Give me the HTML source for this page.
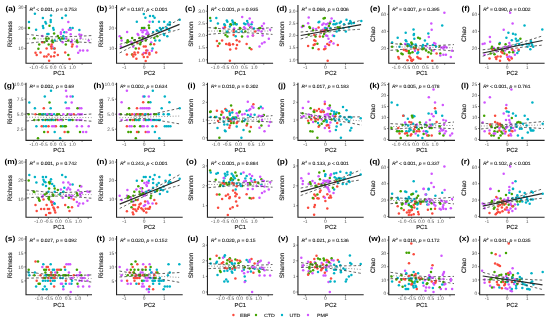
<!DOCTYPE html>
<html><head><meta charset="utf-8"><title>figure</title>
<style>html,body{margin:0;padding:0;background:#fff;width:550px;height:321px;overflow:hidden;}svg{display:block;}</style>
</head><body>
<svg width="550" height="321" viewBox="0 0 550 321">
<style>
text{font-family:"Liberation Sans",Arial,sans-serif;text-rendering:geometricPrecision;}
.tk{font-size:4.9px;fill:#505050;}
.tt{font-size:5.9px;fill:#1a1a1a;stroke:#1a1a1a;stroke-width:0.14px;}
.tag{font-size:7.4px;font-weight:bold;fill:#000;}
.r2{font-size:4.75px;fill:#111;stroke:#111;stroke-width:0.08px;}
.lg{font-size:4.7px;fill:#222;stroke:#222;stroke-width:0.1px;}
</style>
<rect width="550" height="321" fill="#fff"/>
<g><circle cx="34.9" cy="13.7" r="1.25" fill="#00B2C6"/><circle cx="51.0" cy="15.6" r="1.25" fill="#00B2C6"/><circle cx="42.9" cy="18.0" r="1.25" fill="#00B2C6"/><circle cx="62.1" cy="18.0" r="1.25" fill="#00B2C6"/><circle cx="65.8" cy="15.6" r="1.25" fill="#00B2C6"/><circle cx="29.0" cy="22.0" r="1.25" fill="#00B2C6"/><circle cx="45.4" cy="22.0" r="1.25" fill="#00B2C6"/><circle cx="46.0" cy="23.4" r="1.25" fill="#00B2C6"/><circle cx="50.7" cy="19.9" r="1.25" fill="#00B2C6"/><circle cx="50.7" cy="22.0" r="1.25" fill="#00B2C6"/><circle cx="42.9" cy="26.1" r="1.25" fill="#00B2C6"/><circle cx="43.3" cy="27.9" r="1.25" fill="#00B2C6"/><circle cx="36.1" cy="29.8" r="1.25" fill="#00B2C6"/><circle cx="53.2" cy="27.9" r="1.25" fill="#00B2C6"/><circle cx="53.7" cy="29.8" r="1.25" fill="#00B2C6"/><circle cx="70.1" cy="27.9" r="1.25" fill="#00B2C6"/><circle cx="72.6" cy="27.9" r="1.25" fill="#00B2C6"/><circle cx="79.4" cy="30.0" r="1.25" fill="#00B2C6"/><circle cx="64.3" cy="32.3" r="1.25" fill="#00B2C6"/><circle cx="29.0" cy="27.9" r="1.25" fill="#42A200"/><circle cx="49.5" cy="25.8" r="1.25" fill="#42A200"/><circle cx="68.3" cy="22.0" r="1.25" fill="#D055FF"/><circle cx="62.7" cy="29.8" r="1.25" fill="#D055FF"/><circle cx="68.9" cy="29.8" r="1.25" fill="#D055FF"/><circle cx="70.7" cy="29.8" r="1.25" fill="#D055FF"/><circle cx="60.9" cy="32.3" r="1.25" fill="#D055FF"/><circle cx="66.4" cy="32.3" r="1.25" fill="#D055FF"/><circle cx="47.3" cy="34.0" r="1.25" fill="#00B2C6"/><circle cx="48.5" cy="34.0" r="1.25" fill="#00B2C6"/><circle cx="54.7" cy="40.4" r="1.25" fill="#00B2C6"/><circle cx="60.2" cy="39.8" r="1.25" fill="#00B2C6"/><circle cx="63.3" cy="36.1" r="1.25" fill="#00B2C6"/><circle cx="63.9" cy="38.6" r="1.25" fill="#00B2C6"/><circle cx="54.1" cy="48.5" r="1.25" fill="#00B2C6"/><circle cx="34.3" cy="38.2" r="1.25" fill="#42A200"/><circle cx="46.0" cy="38.6" r="1.25" fill="#42A200"/><circle cx="48.5" cy="38.6" r="1.25" fill="#42A200"/><circle cx="46.6" cy="40.4" r="1.25" fill="#42A200"/><circle cx="44.2" cy="42.3" r="1.25" fill="#42A200"/><circle cx="52.2" cy="40.4" r="1.25" fill="#42A200"/><circle cx="52.8" cy="42.3" r="1.25" fill="#42A200"/><circle cx="57.8" cy="36.1" r="1.25" fill="#42A200"/><circle cx="59.0" cy="37.9" r="1.25" fill="#42A200"/><circle cx="62.1" cy="38.6" r="1.25" fill="#42A200"/><circle cx="68.3" cy="40.4" r="1.25" fill="#42A200"/><circle cx="76.9" cy="40.4" r="1.25" fill="#42A200"/><circle cx="77.5" cy="42.3" r="1.25" fill="#42A200"/><circle cx="39.2" cy="44.4" r="1.25" fill="#42A200"/><circle cx="48.7" cy="44.4" r="1.25" fill="#42A200"/><circle cx="65.8" cy="44.4" r="1.25" fill="#42A200"/><circle cx="38.4" cy="48.8" r="1.25" fill="#42A200"/><circle cx="68.3" cy="55.0" r="1.25" fill="#42A200"/><circle cx="54.1" cy="33.6" r="1.25" fill="#42A200"/><circle cx="42.3" cy="36.1" r="1.25" fill="#D055FF"/><circle cx="70.7" cy="34.2" r="1.25" fill="#D055FF"/><circle cx="79.4" cy="34.5" r="1.25" fill="#D055FF"/><circle cx="81.3" cy="34.9" r="1.25" fill="#D055FF"/><circle cx="80.6" cy="37.9" r="1.25" fill="#D055FF"/><circle cx="66.4" cy="38.6" r="1.25" fill="#D055FF"/><circle cx="72.0" cy="40.4" r="1.25" fill="#D055FF"/><circle cx="71.4" cy="42.3" r="1.25" fill="#D055FF"/><circle cx="62.7" cy="42.3" r="1.25" fill="#D055FF"/><circle cx="88.7" cy="40.4" r="1.25" fill="#D055FF"/><circle cx="52.2" cy="46.6" r="1.25" fill="#D055FF"/><circle cx="76.9" cy="46.6" r="1.25" fill="#D055FF"/><circle cx="80.0" cy="50.6" r="1.25" fill="#D055FF"/><circle cx="83.1" cy="50.6" r="1.25" fill="#D055FF"/><circle cx="87.4" cy="50.6" r="1.25" fill="#D055FF"/><circle cx="78.2" cy="52.8" r="1.25" fill="#D055FF"/><circle cx="60.9" cy="34.0" r="1.25" fill="#D055FF"/><circle cx="42.3" cy="42.3" r="1.25" fill="#FA4A3D"/><circle cx="51.6" cy="44.4" r="1.25" fill="#FA4A3D"/><circle cx="51.0" cy="46.6" r="1.25" fill="#FA4A3D"/><circle cx="72.6" cy="44.4" r="1.25" fill="#FA4A3D"/><circle cx="72.0" cy="46.6" r="1.25" fill="#FA4A3D"/><circle cx="46.6" cy="48.5" r="1.25" fill="#FA4A3D"/><circle cx="51.6" cy="48.5" r="1.25" fill="#FA4A3D"/><circle cx="54.7" cy="48.5" r="1.25" fill="#FA4A3D"/><circle cx="35.5" cy="52.8" r="1.25" fill="#FA4A3D"/><circle cx="40.5" cy="52.5" r="1.25" fill="#FA4A3D"/><circle cx="36.7" cy="55.0" r="1.25" fill="#FA4A3D"/><circle cx="54.7" cy="52.5" r="1.25" fill="#FA4A3D"/><circle cx="54.1" cy="56.2" r="1.25" fill="#FA4A3D"/><circle cx="57.8" cy="55.0" r="1.25" fill="#FA4A3D"/><circle cx="65.2" cy="52.5" r="1.25" fill="#FA4A3D"/><circle cx="44.2" cy="56.5" r="1.25" fill="#FA4A3D"/><circle cx="46.6" cy="56.5" r="1.25" fill="#FA4A3D"/><circle cx="48.5" cy="54.6" r="1.25" fill="#FA4A3D"/><circle cx="51.0" cy="56.5" r="1.25" fill="#FA4A3D"/><circle cx="49.1" cy="60.8" r="1.25" fill="#FA4A3D"/><circle cx="69.5" cy="59.0" r="1.25" fill="#FA4A3D"/><polyline points="26.5,34.2 29.2,34.5 31.9,34.9 34.6,35.2 37.3,35.5 40.0,35.8 42.8,36.1 45.5,36.3 48.2,36.5 50.9,36.7 53.6,36.8 56.3,36.8 59.0,36.8 61.7,36.8 64.4,36.7 67.1,36.7 69.8,36.6 72.5,36.5 75.2,36.4 78.0,36.3 80.7,36.2 83.4,36.0 86.1,35.9 88.8,35.7 91.5,35.6" fill="none" stroke="#444" stroke-width="0.85" stroke-dasharray="2.6,2.2"/><polyline points="26.5,43.4 29.2,43.1 31.9,42.8 34.6,42.5 37.3,42.2 40.0,41.9 42.8,41.7 45.5,41.5 48.2,41.3 50.9,41.2 53.6,41.2 56.3,41.2 59.0,41.2 61.7,41.3 64.4,41.4 67.1,41.4 69.8,41.6 72.5,41.7 75.2,41.8 78.0,42.0 80.7,42.1 83.4,42.3 86.1,42.4 88.8,42.6 91.5,42.8" fill="none" stroke="#444" stroke-width="0.85" stroke-dasharray="2.6,2.2"/><polyline points="26.5,38.8 91.5,39.2" fill="none" stroke="#555" stroke-width="0.7" stroke-dasharray="0.9,1.9"/><path d="M26.00,5.00V63.20H92.00" fill="none" stroke="#262626" stroke-width="1.1"/><line x1="24.40" y1="7.60" x2="26.00" y2="7.60" stroke="#262626" stroke-width="0.6"/><text x="23.60" y="9.30" text-anchor="end" class="tk" transform="translate(23.60,0) scale(1.0,1) translate(-23.60,0)">30</text><line x1="24.40" y1="28.10" x2="26.00" y2="28.10" stroke="#262626" stroke-width="0.6"/><text x="23.60" y="29.80" text-anchor="end" class="tk" transform="translate(23.60,0) scale(1.0,1) translate(-23.60,0)">20</text><line x1="24.40" y1="48.60" x2="26.00" y2="48.60" stroke="#262626" stroke-width="0.6"/><text x="23.60" y="50.30" text-anchor="end" class="tk" transform="translate(23.60,0) scale(1.0,1) translate(-23.60,0)">10</text><line x1="33.75" y1="63.20" x2="33.75" y2="64.80" stroke="#262626" stroke-width="0.6"/><text x="33.75" y="68.85" text-anchor="middle" class="tk">-1.0</text><line x1="43.42" y1="63.20" x2="43.42" y2="64.80" stroke="#262626" stroke-width="0.6"/><text x="43.42" y="68.85" text-anchor="middle" class="tk">-0.5</text><line x1="53.09" y1="63.20" x2="53.09" y2="64.80" stroke="#262626" stroke-width="0.6"/><text x="53.09" y="68.85" text-anchor="middle" class="tk">0.0</text><line x1="62.76" y1="63.20" x2="62.76" y2="64.80" stroke="#262626" stroke-width="0.6"/><text x="62.76" y="68.85" text-anchor="middle" class="tk">0.5</text><line x1="72.43" y1="63.20" x2="72.43" y2="64.80" stroke="#262626" stroke-width="0.6"/><text x="72.43" y="68.85" text-anchor="middle" class="tk">1.0</text><line x1="82.10" y1="63.20" x2="82.10" y2="64.80" stroke="#262626" stroke-width="0.6"/><text x="59.00" y="74.80" text-anchor="middle" class="tt">PC1</text><text x="0" y="0" text-anchor="middle" class="tt" style="font-size:6.35px" transform="translate(12.00,34.10) rotate(-90)">Richness</text><text x="5.40" y="11.00" class="tag" transform="translate(5.40,0) scale(1.13,1) translate(-5.40,0)">(a)</text><text x="29.60" y="10.60" class="r2" transform="translate(29.60,0) scale(1.05,1) translate(-29.60,0)"><tspan font-style="italic">R</tspan><tspan dy="-1.6" font-size="3">2</tspan><tspan dy="1.6"> &lt; 0.001, </tspan><tspan font-style="italic">p</tspan> = 0.753</text></g><g><circle cx="143.8" cy="13.9" r="1.25" fill="#00B2C6"/><circle cx="145.4" cy="17.7" r="1.25" fill="#00B2C6"/><circle cx="150.0" cy="15.9" r="1.25" fill="#00B2C6"/><circle cx="153.1" cy="15.9" r="1.25" fill="#00B2C6"/><circle cx="154.6" cy="17.7" r="1.25" fill="#00B2C6"/><circle cx="136.8" cy="21.7" r="1.25" fill="#00B2C6"/><circle cx="152.8" cy="21.7" r="1.25" fill="#00B2C6"/><circle cx="159.0" cy="21.7" r="1.25" fill="#00B2C6"/><circle cx="164.2" cy="21.7" r="1.25" fill="#00B2C6"/><circle cx="179.7" cy="19.8" r="1.25" fill="#00B2C6"/><circle cx="169.8" cy="22.3" r="1.25" fill="#00B2C6"/><circle cx="167.9" cy="24.5" r="1.25" fill="#00B2C6"/><circle cx="169.8" cy="24.8" r="1.25" fill="#00B2C6"/><circle cx="159.9" cy="27.9" r="1.25" fill="#00B2C6"/><circle cx="163.0" cy="27.9" r="1.25" fill="#00B2C6"/><circle cx="161.1" cy="29.7" r="1.25" fill="#00B2C6"/><circle cx="156.8" cy="30.3" r="1.25" fill="#00B2C6"/><circle cx="153.1" cy="32.0" r="1.25" fill="#00B2C6"/><circle cx="158.7" cy="31.6" r="1.25" fill="#00B2C6"/><circle cx="166.7" cy="27.9" r="1.25" fill="#00B2C6"/><circle cx="169.2" cy="30.3" r="1.25" fill="#00B2C6"/><circle cx="163.6" cy="34.1" r="1.25" fill="#00B2C6"/><circle cx="143.8" cy="27.9" r="1.25" fill="#00B2C6"/><circle cx="148.8" cy="25.4" r="1.25" fill="#42A200"/><circle cx="149.1" cy="27.9" r="1.25" fill="#42A200"/><circle cx="142.0" cy="27.9" r="1.25" fill="#42A200"/><circle cx="144.4" cy="27.9" r="1.25" fill="#42A200"/><circle cx="149.6" cy="21.7" r="1.25" fill="#D055FF"/><circle cx="127.1" cy="32.0" r="1.25" fill="#D055FF"/><circle cx="141.3" cy="30.3" r="1.25" fill="#D055FF"/><circle cx="143.8" cy="30.3" r="1.25" fill="#D055FF"/><circle cx="146.3" cy="30.3" r="1.25" fill="#D055FF"/><circle cx="142.6" cy="32.2" r="1.25" fill="#D055FF"/><circle cx="147.5" cy="32.2" r="1.25" fill="#D055FF"/><circle cx="146.3" cy="34.1" r="1.25" fill="#D055FF"/><circle cx="137.6" cy="34.1" r="1.25" fill="#D055FF"/><circle cx="148.4" cy="34.1" r="1.25" fill="#D055FF"/><circle cx="119.7" cy="36.2" r="1.25" fill="#D055FF"/><circle cx="121.6" cy="40.6" r="1.25" fill="#D055FF"/><circle cx="120.9" cy="46.4" r="1.25" fill="#D055FF"/><circle cx="131.5" cy="42.4" r="1.25" fill="#D055FF"/><circle cx="138.3" cy="35.0" r="1.25" fill="#D055FF"/><circle cx="142.6" cy="36.2" r="1.25" fill="#D055FF"/><circle cx="143.8" cy="38.1" r="1.25" fill="#D055FF"/><circle cx="145.7" cy="38.1" r="1.25" fill="#D055FF"/><circle cx="142.0" cy="40.6" r="1.25" fill="#D055FF"/><circle cx="151.2" cy="42.4" r="1.25" fill="#D055FF"/><circle cx="133.3" cy="46.7" r="1.25" fill="#D055FF"/><circle cx="147.5" cy="50.5" r="1.25" fill="#D055FF"/><circle cx="146.3" cy="52.9" r="1.25" fill="#D055FF"/><circle cx="143.8" cy="52.9" r="1.25" fill="#D055FF"/><circle cx="151.9" cy="50.8" r="1.25" fill="#D055FF"/><circle cx="121.2" cy="38.1" r="1.25" fill="#42A200"/><circle cx="127.7" cy="40.2" r="1.25" fill="#42A200"/><circle cx="128.4" cy="41.8" r="1.25" fill="#42A200"/><circle cx="126.9" cy="42.4" r="1.25" fill="#42A200"/><circle cx="132.1" cy="38.1" r="1.25" fill="#42A200"/><circle cx="134.5" cy="40.2" r="1.25" fill="#42A200"/><circle cx="139.5" cy="38.1" r="1.25" fill="#42A200"/><circle cx="142.6" cy="38.1" r="1.25" fill="#42A200"/><circle cx="145.7" cy="40.6" r="1.25" fill="#42A200"/><circle cx="140.7" cy="42.4" r="1.25" fill="#42A200"/><circle cx="140.1" cy="44.3" r="1.25" fill="#42A200"/><circle cx="135.8" cy="48.6" r="1.25" fill="#42A200"/><circle cx="132.1" cy="54.5" r="1.25" fill="#42A200"/><circle cx="150.6" cy="44.3" r="1.25" fill="#42A200"/><circle cx="148.4" cy="36.2" r="1.25" fill="#42A200"/><circle cx="154.3" cy="38.1" r="1.25" fill="#42A200"/><circle cx="157.4" cy="36.2" r="1.25" fill="#42A200"/><circle cx="132.1" cy="44.3" r="1.25" fill="#42A200"/><circle cx="155.3" cy="40.6" r="1.25" fill="#00B2C6"/><circle cx="159.5" cy="40.6" r="1.25" fill="#00B2C6"/><circle cx="152.5" cy="48.4" r="1.25" fill="#00B2C6"/><circle cx="167.3" cy="36.2" r="1.25" fill="#00B2C6"/><circle cx="164.2" cy="35.0" r="1.25" fill="#00B2C6"/><circle cx="137.0" cy="42.4" r="1.25" fill="#FA4A3D"/><circle cx="143.8" cy="46.4" r="1.25" fill="#FA4A3D"/><circle cx="145.7" cy="46.4" r="1.25" fill="#FA4A3D"/><circle cx="154.1" cy="44.3" r="1.25" fill="#FA4A3D"/><circle cx="138.9" cy="48.4" r="1.25" fill="#FA4A3D"/><circle cx="134.5" cy="52.6" r="1.25" fill="#FA4A3D"/><circle cx="132.7" cy="54.5" r="1.25" fill="#FA4A3D"/><circle cx="135.2" cy="54.5" r="1.25" fill="#FA4A3D"/><circle cx="138.0" cy="52.6" r="1.25" fill="#FA4A3D"/><circle cx="126.9" cy="54.5" r="1.25" fill="#FA4A3D"/><circle cx="133.3" cy="56.6" r="1.25" fill="#FA4A3D"/><circle cx="136.4" cy="58.7" r="1.25" fill="#FA4A3D"/><circle cx="142.6" cy="54.5" r="1.25" fill="#FA4A3D"/><circle cx="145.7" cy="52.9" r="1.25" fill="#FA4A3D"/><circle cx="149.4" cy="52.9" r="1.25" fill="#FA4A3D"/><circle cx="149.4" cy="54.5" r="1.25" fill="#FA4A3D"/><circle cx="143.8" cy="57.0" r="1.25" fill="#FA4A3D"/><circle cx="147.5" cy="57.0" r="1.25" fill="#FA4A3D"/><circle cx="156.2" cy="52.6" r="1.25" fill="#FA4A3D"/><circle cx="145.7" cy="61.0" r="1.25" fill="#FA4A3D"/><circle cx="146.3" cy="50.5" r="1.25" fill="#FA4A3D"/><polyline points="119.7,44.3 122.2,43.6 124.7,42.9 127.2,42.1 129.7,41.4 132.2,40.6 134.7,39.8 137.1,39.0 139.6,38.2 142.1,37.3 144.6,36.4 147.1,35.5 149.6,34.4 152.1,33.4 154.6,32.2 157.1,31.0 159.6,29.8 162.1,28.5 164.6,27.2 167.0,25.9 169.5,24.6 172.0,23.3 174.5,22.0 177.0,20.6 179.5,19.3" fill="none" stroke="#444" stroke-width="0.85" stroke-dasharray="2.6,2.2"/><polyline points="119.7,52.9 122.2,51.6 124.7,50.3 127.2,49.0 129.7,47.7 132.2,46.5 134.7,45.2 137.1,44.0 139.6,42.8 142.1,41.6 144.6,40.5 147.1,39.5 149.6,38.5 152.1,37.5 154.6,36.6 157.1,35.8 159.6,35.0 162.1,34.2 164.6,33.5 167.0,32.8 169.5,32.1 172.0,31.4 174.5,30.7 177.0,30.0 179.5,29.3" fill="none" stroke="#444" stroke-width="0.85" stroke-dasharray="2.6,2.2"/><polyline points="119.7,48.6 179.5,24.3" fill="none" stroke="#2a2a2a" stroke-width="1.25"/><path d="M116.55,5.00V63.20H182.70" fill="none" stroke="#262626" stroke-width="1.1"/><line x1="114.95" y1="7.60" x2="116.55" y2="7.60" stroke="#262626" stroke-width="0.6"/><text x="114.15" y="9.30" text-anchor="end" class="tk" transform="translate(114.15,0) scale(1.0,1) translate(-114.15,0)">30</text><line x1="114.95" y1="28.10" x2="116.55" y2="28.10" stroke="#262626" stroke-width="0.6"/><text x="114.15" y="29.80" text-anchor="end" class="tk" transform="translate(114.15,0) scale(1.0,1) translate(-114.15,0)">20</text><line x1="114.95" y1="48.60" x2="116.55" y2="48.60" stroke="#262626" stroke-width="0.6"/><text x="114.15" y="50.30" text-anchor="end" class="tk" transform="translate(114.15,0) scale(1.0,1) translate(-114.15,0)">10</text><line x1="124.40" y1="63.20" x2="124.40" y2="64.80" stroke="#262626" stroke-width="0.6"/><text x="124.40" y="68.85" text-anchor="middle" class="tk">-1</text><line x1="144.20" y1="63.20" x2="144.20" y2="64.80" stroke="#262626" stroke-width="0.6"/><text x="144.20" y="68.85" text-anchor="middle" class="tk">0</text><line x1="164.20" y1="63.20" x2="164.20" y2="64.80" stroke="#262626" stroke-width="0.6"/><text x="164.20" y="68.85" text-anchor="middle" class="tk">1</text><text x="149.62" y="74.80" text-anchor="middle" class="tt">PC2</text><text x="0" y="0" text-anchor="middle" class="tt" style="font-size:6.35px" transform="translate(102.55,34.10) rotate(-90)">Richness</text><text x="96.60" y="11.00" class="tag" transform="translate(96.60,0) scale(1.13,1) translate(-96.60,0)">(b)</text><text x="120.15" y="10.60" class="r2" transform="translate(120.15,0) scale(1.05,1) translate(-120.15,0)"><tspan font-style="italic">R</tspan><tspan dy="-1.6" font-size="3">2</tspan><tspan dy="1.6"> = 0.187, </tspan><tspan font-style="italic">p</tspan> &lt; 0.001</text></g><g><circle cx="210.1" cy="18.0" r="1.25" fill="#42A200"/><circle cx="230.5" cy="24.2" r="1.25" fill="#42A200"/><circle cx="231.1" cy="24.8" r="1.25" fill="#42A200"/><circle cx="234.8" cy="22.9" r="1.25" fill="#42A200"/><circle cx="236.1" cy="24.2" r="1.25" fill="#42A200"/><circle cx="215.7" cy="27.9" r="1.25" fill="#42A200"/><circle cx="220.0" cy="31.0" r="1.25" fill="#42A200"/><circle cx="239.8" cy="27.9" r="1.25" fill="#42A200"/><circle cx="240.4" cy="28.5" r="1.25" fill="#42A200"/><circle cx="250.3" cy="27.3" r="1.25" fill="#42A200"/><circle cx="258.9" cy="28.5" r="1.25" fill="#42A200"/><circle cx="260.2" cy="27.9" r="1.25" fill="#42A200"/><circle cx="245.3" cy="31.6" r="1.25" fill="#42A200"/><circle cx="226.8" cy="32.2" r="1.25" fill="#42A200"/><circle cx="210.7" cy="20.8" r="1.25" fill="#00B2C6"/><circle cx="216.3" cy="18.0" r="1.25" fill="#00B2C6"/><circle cx="217.9" cy="23.5" r="1.25" fill="#00B2C6"/><circle cx="224.3" cy="24.2" r="1.25" fill="#00B2C6"/><circle cx="224.9" cy="25.4" r="1.25" fill="#00B2C6"/><circle cx="226.8" cy="20.5" r="1.25" fill="#00B2C6"/><circle cx="227.4" cy="21.7" r="1.25" fill="#00B2C6"/><circle cx="232.3" cy="20.5" r="1.25" fill="#00B2C6"/><circle cx="233.0" cy="22.3" r="1.25" fill="#00B2C6"/><circle cx="233.6" cy="24.2" r="1.25" fill="#00B2C6"/><circle cx="236.7" cy="24.2" r="1.25" fill="#00B2C6"/><circle cx="229.9" cy="26.6" r="1.25" fill="#00B2C6"/><circle cx="244.1" cy="23.5" r="1.25" fill="#00B2C6"/><circle cx="247.2" cy="21.1" r="1.25" fill="#00B2C6"/><circle cx="247.8" cy="23.3" r="1.25" fill="#00B2C6"/><circle cx="245.3" cy="24.2" r="1.25" fill="#00B2C6"/><circle cx="251.5" cy="24.2" r="1.25" fill="#00B2C6"/><circle cx="254.0" cy="28.5" r="1.25" fill="#00B2C6"/><circle cx="227.4" cy="31.6" r="1.25" fill="#00B2C6"/><circle cx="236.1" cy="31.6" r="1.25" fill="#00B2C6"/><circle cx="241.6" cy="31.6" r="1.25" fill="#00B2C6"/><circle cx="242.2" cy="17.1" r="1.25" fill="#D055FF"/><circle cx="249.7" cy="18.6" r="1.25" fill="#D055FF"/><circle cx="252.1" cy="22.3" r="1.25" fill="#D055FF"/><circle cx="248.4" cy="24.2" r="1.25" fill="#D055FF"/><circle cx="249.0" cy="25.4" r="1.25" fill="#D055FF"/><circle cx="263.9" cy="23.5" r="1.25" fill="#D055FF"/><circle cx="262.0" cy="26.0" r="1.25" fill="#D055FF"/><circle cx="244.1" cy="27.3" r="1.25" fill="#D055FF"/><circle cx="245.3" cy="28.5" r="1.25" fill="#D055FF"/><circle cx="251.5" cy="27.3" r="1.25" fill="#D055FF"/><circle cx="234.2" cy="28.5" r="1.25" fill="#D055FF"/><circle cx="263.3" cy="29.1" r="1.25" fill="#D055FF"/><circle cx="258.3" cy="30.3" r="1.25" fill="#D055FF"/><circle cx="261.4" cy="31.6" r="1.25" fill="#D055FF"/><circle cx="270.1" cy="29.7" r="1.25" fill="#D055FF"/><circle cx="223.1" cy="27.9" r="1.25" fill="#D055FF"/><circle cx="224.9" cy="27.3" r="1.25" fill="#FA4A3D"/><circle cx="233.6" cy="31.0" r="1.25" fill="#FA4A3D"/><circle cx="255.2" cy="31.6" r="1.25" fill="#FA4A3D"/><circle cx="227.4" cy="36.5" r="1.25" fill="#42A200"/><circle cx="242.0" cy="36.5" r="1.25" fill="#42A200"/><circle cx="219.4" cy="43.4" r="1.25" fill="#42A200"/><circle cx="249.7" cy="48.0" r="1.25" fill="#42A200"/><circle cx="225.5" cy="35.0" r="1.25" fill="#42A200"/><circle cx="235.7" cy="36.2" r="1.25" fill="#00B2C6"/><circle cx="233.6" cy="35.0" r="1.25" fill="#FA4A3D"/><circle cx="216.9" cy="40.9" r="1.25" fill="#FA4A3D"/><circle cx="222.1" cy="40.6" r="1.25" fill="#FA4A3D"/><circle cx="217.9" cy="45.9" r="1.25" fill="#FA4A3D"/><circle cx="226.2" cy="43.9" r="1.25" fill="#FA4A3D"/><circle cx="229.3" cy="43.4" r="1.25" fill="#FA4A3D"/><circle cx="229.9" cy="44.9" r="1.25" fill="#FA4A3D"/><circle cx="228.6" cy="44.6" r="1.25" fill="#FA4A3D"/><circle cx="233.0" cy="44.3" r="1.25" fill="#FA4A3D"/><circle cx="236.7" cy="40.2" r="1.25" fill="#FA4A3D"/><circle cx="239.4" cy="41.4" r="1.25" fill="#FA4A3D"/><circle cx="237.0" cy="44.9" r="1.25" fill="#FA4A3D"/><circle cx="236.1" cy="48.4" r="1.25" fill="#FA4A3D"/><circle cx="230.2" cy="49.6" r="1.25" fill="#FA4A3D"/><circle cx="246.6" cy="43.9" r="1.25" fill="#FA4A3D"/><circle cx="251.3" cy="49.2" r="1.25" fill="#FA4A3D"/><circle cx="229.9" cy="60.7" r="1.25" fill="#FA4A3D"/><circle cx="253.0" cy="35.6" r="1.25" fill="#FA4A3D"/><circle cx="247.8" cy="36.5" r="1.25" fill="#D055FF"/><circle cx="252.7" cy="35.6" r="1.25" fill="#D055FF"/><circle cx="262.6" cy="35.6" r="1.25" fill="#D055FF"/><circle cx="268.8" cy="38.7" r="1.25" fill="#D055FF"/><circle cx="262.0" cy="43.4" r="1.25" fill="#D055FF"/><circle cx="264.5" cy="42.2" r="1.25" fill="#D055FF"/><circle cx="259.5" cy="46.4" r="1.25" fill="#D055FF"/><polyline points="208.5,27.6 211.2,27.8 213.8,28.1 216.5,28.3 219.2,28.5 221.8,28.7 224.5,28.9 227.2,29.1 229.8,29.2 232.5,29.3 235.2,29.4 237.8,29.4 240.5,29.4 243.2,29.3 245.8,29.3 248.5,29.2 251.2,29.0 253.8,28.9 256.5,28.7 259.2,28.6 261.8,28.4 264.5,28.2 267.2,28.0 269.8,27.8 272.5,27.6" fill="none" stroke="#444" stroke-width="0.85" stroke-dasharray="2.6,2.2"/><polyline points="208.5,34.4 211.2,34.2 213.8,33.9 216.5,33.7 219.2,33.5 221.8,33.3 224.5,33.1 227.2,32.9 229.8,32.8 232.5,32.7 235.2,32.6 237.8,32.6 240.5,32.6 243.2,32.7 245.8,32.7 248.5,32.8 251.2,33.0 253.8,33.1 256.5,33.3 259.2,33.4 261.8,33.6 264.5,33.8 267.2,34.0 269.8,34.2 272.5,34.4" fill="none" stroke="#444" stroke-width="0.85" stroke-dasharray="2.6,2.2"/><polyline points="208.5,31.0 272.5,31.0" fill="none" stroke="#555" stroke-width="0.7" stroke-dasharray="0.9,1.9"/><path d="M207.45,5.00V63.20H273.10" fill="none" stroke="#262626" stroke-width="1.1"/><line x1="205.85" y1="11.20" x2="207.45" y2="11.20" stroke="#262626" stroke-width="0.6"/><text x="205.05" y="12.90" text-anchor="end" class="tk" transform="translate(205.05,0) scale(1.0,1) translate(-205.05,0)">3.0</text><line x1="205.85" y1="23.35" x2="207.45" y2="23.35" stroke="#262626" stroke-width="0.6"/><text x="205.05" y="25.05" text-anchor="end" class="tk" transform="translate(205.05,0) scale(1.0,1) translate(-205.05,0)">2.5</text><line x1="205.85" y1="35.50" x2="207.45" y2="35.50" stroke="#262626" stroke-width="0.6"/><text x="205.05" y="37.20" text-anchor="end" class="tk" transform="translate(205.05,0) scale(1.0,1) translate(-205.05,0)">2.0</text><line x1="205.85" y1="47.65" x2="207.45" y2="47.65" stroke="#262626" stroke-width="0.6"/><text x="205.05" y="49.35" text-anchor="end" class="tk" transform="translate(205.05,0) scale(1.0,1) translate(-205.05,0)">1.5</text><line x1="205.85" y1="59.80" x2="207.45" y2="59.80" stroke="#262626" stroke-width="0.6"/><text x="205.05" y="61.50" text-anchor="end" class="tk" transform="translate(205.05,0) scale(1.0,1) translate(-205.05,0)">1.0</text><line x1="215.30" y1="63.20" x2="215.30" y2="64.80" stroke="#262626" stroke-width="0.6"/><text x="215.30" y="68.85" text-anchor="middle" class="tk">-1.0</text><line x1="225.00" y1="63.20" x2="225.00" y2="64.80" stroke="#262626" stroke-width="0.6"/><text x="225.00" y="68.85" text-anchor="middle" class="tk">-0.5</text><line x1="234.70" y1="63.20" x2="234.70" y2="64.80" stroke="#262626" stroke-width="0.6"/><text x="234.70" y="68.85" text-anchor="middle" class="tk">0.0</text><line x1="244.40" y1="63.20" x2="244.40" y2="64.80" stroke="#262626" stroke-width="0.6"/><text x="244.40" y="68.85" text-anchor="middle" class="tk">0.5</text><line x1="254.10" y1="63.20" x2="254.10" y2="64.80" stroke="#262626" stroke-width="0.6"/><text x="254.10" y="68.85" text-anchor="middle" class="tk">1.0</text><line x1="263.80" y1="63.20" x2="263.80" y2="64.80" stroke="#262626" stroke-width="0.6"/><text x="240.28" y="74.80" text-anchor="middle" class="tt">PC1</text><text x="0" y="0" text-anchor="middle" class="tt" style="font-size:6.35px" transform="translate(193.45,34.10) rotate(-90)">Shannon</text><text x="185.00" y="11.00" class="tag" transform="translate(185.00,0) scale(1.13,1) translate(-185.00,0)">(c)</text><text x="211.05" y="10.60" class="r2" transform="translate(211.05,0) scale(1.05,1) translate(-211.05,0)"><tspan font-style="italic">R</tspan><tspan dy="-1.6" font-size="3">2</tspan><tspan dy="1.6"> &lt; 0.001, </tspan><tspan font-style="italic">p</tspan> = 0.935</text></g><g><circle cx="308.7" cy="17.4" r="1.25" fill="#D055FF"/><circle cx="308.1" cy="23.3" r="1.25" fill="#D055FF"/><circle cx="301.9" cy="27.0" r="1.25" fill="#D055FF"/><circle cx="303.8" cy="26.0" r="1.25" fill="#D055FF"/><circle cx="323.6" cy="23.5" r="1.25" fill="#D055FF"/><circle cx="322.3" cy="24.8" r="1.25" fill="#D055FF"/><circle cx="326.1" cy="24.2" r="1.25" fill="#D055FF"/><circle cx="327.9" cy="23.5" r="1.25" fill="#D055FF"/><circle cx="330.4" cy="21.7" r="1.25" fill="#D055FF"/><circle cx="331.6" cy="18.6" r="1.25" fill="#D055FF"/><circle cx="327.3" cy="27.9" r="1.25" fill="#D055FF"/><circle cx="324.8" cy="27.9" r="1.25" fill="#D055FF"/><circle cx="323.0" cy="29.7" r="1.25" fill="#D055FF"/><circle cx="313.1" cy="28.5" r="1.25" fill="#D055FF"/><circle cx="316.2" cy="29.1" r="1.25" fill="#D055FF"/><circle cx="302.9" cy="26.0" r="1.25" fill="#42A200"/><circle cx="309.4" cy="27.0" r="1.25" fill="#42A200"/><circle cx="310.0" cy="27.9" r="1.25" fill="#42A200"/><circle cx="313.1" cy="30.3" r="1.25" fill="#42A200"/><circle cx="323.6" cy="18.4" r="1.25" fill="#42A200"/><circle cx="324.8" cy="18.0" r="1.25" fill="#42A200"/><circle cx="329.8" cy="23.5" r="1.25" fill="#42A200"/><circle cx="328.9" cy="26.0" r="1.25" fill="#42A200"/><circle cx="326.7" cy="29.1" r="1.25" fill="#42A200"/><circle cx="337.8" cy="27.3" r="1.25" fill="#42A200"/><circle cx="339.7" cy="27.9" r="1.25" fill="#42A200"/><circle cx="327.9" cy="31.0" r="1.25" fill="#42A200"/><circle cx="308.7" cy="34.7" r="1.25" fill="#42A200"/><circle cx="324.2" cy="34.1" r="1.25" fill="#42A200"/><circle cx="319.3" cy="21.7" r="1.25" fill="#00B2C6"/><circle cx="318.6" cy="22.3" r="1.25" fill="#00B2C6"/><circle cx="325.4" cy="27.9" r="1.25" fill="#00B2C6"/><circle cx="330.4" cy="27.9" r="1.25" fill="#00B2C6"/><circle cx="334.1" cy="21.1" r="1.25" fill="#00B2C6"/><circle cx="333.5" cy="24.2" r="1.25" fill="#00B2C6"/><circle cx="335.3" cy="24.2" r="1.25" fill="#00B2C6"/><circle cx="336.6" cy="23.5" r="1.25" fill="#00B2C6"/><circle cx="339.7" cy="22.9" r="1.25" fill="#00B2C6"/><circle cx="340.9" cy="21.7" r="1.25" fill="#00B2C6"/><circle cx="344.0" cy="24.2" r="1.25" fill="#00B2C6"/><circle cx="346.5" cy="19.8" r="1.25" fill="#00B2C6"/><circle cx="348.9" cy="23.5" r="1.25" fill="#00B2C6"/><circle cx="350.2" cy="21.1" r="1.25" fill="#00B2C6"/><circle cx="350.8" cy="22.3" r="1.25" fill="#00B2C6"/><circle cx="351.4" cy="23.5" r="1.25" fill="#00B2C6"/><circle cx="353.9" cy="22.9" r="1.25" fill="#00B2C6"/><circle cx="361.3" cy="21.1" r="1.25" fill="#00B2C6"/><circle cx="343.4" cy="27.9" r="1.25" fill="#00B2C6"/><circle cx="348.9" cy="27.3" r="1.25" fill="#00B2C6"/><circle cx="345.8" cy="31.6" r="1.25" fill="#00B2C6"/><circle cx="336.6" cy="31.6" r="1.25" fill="#00B2C6"/><circle cx="339.0" cy="30.3" r="1.25" fill="#00B2C6"/><circle cx="324.8" cy="30.3" r="1.25" fill="#FA4A3D"/><circle cx="323.6" cy="31.6" r="1.25" fill="#FA4A3D"/><circle cx="318.6" cy="27.5" r="1.25" fill="#FA4A3D"/><circle cx="321.1" cy="31.6" r="1.25" fill="#FA4A3D"/><circle cx="315.5" cy="36.5" r="1.25" fill="#42A200"/><circle cx="323.0" cy="36.5" r="1.25" fill="#42A200"/><circle cx="317.4" cy="43.7" r="1.25" fill="#42A200"/><circle cx="312.8" cy="48.0" r="1.25" fill="#42A200"/><circle cx="319.9" cy="36.5" r="1.25" fill="#FA4A3D"/><circle cx="314.3" cy="40.2" r="1.25" fill="#FA4A3D"/><circle cx="315.5" cy="40.9" r="1.25" fill="#FA4A3D"/><circle cx="314.9" cy="44.3" r="1.25" fill="#FA4A3D"/><circle cx="313.7" cy="44.9" r="1.25" fill="#FA4A3D"/><circle cx="308.1" cy="45.9" r="1.25" fill="#FA4A3D"/><circle cx="318.6" cy="49.2" r="1.25" fill="#FA4A3D"/><circle cx="324.2" cy="49.2" r="1.25" fill="#FA4A3D"/><circle cx="325.4" cy="48.4" r="1.25" fill="#FA4A3D"/><circle cx="327.3" cy="43.9" r="1.25" fill="#FA4A3D"/><circle cx="329.1" cy="44.9" r="1.25" fill="#FA4A3D"/><circle cx="331.0" cy="41.2" r="1.25" fill="#FA4A3D"/><circle cx="337.8" cy="44.9" r="1.25" fill="#FA4A3D"/><circle cx="327.7" cy="60.7" r="1.25" fill="#FA4A3D"/><circle cx="314.3" cy="35.0" r="1.25" fill="#FA4A3D"/><circle cx="326.1" cy="35.6" r="1.25" fill="#D055FF"/><circle cx="327.3" cy="36.0" r="1.25" fill="#D055FF"/><circle cx="328.5" cy="38.7" r="1.25" fill="#D055FF"/><circle cx="332.9" cy="35.6" r="1.25" fill="#D055FF"/><circle cx="329.8" cy="42.2" r="1.25" fill="#D055FF"/><circle cx="333.5" cy="43.4" r="1.25" fill="#D055FF"/><circle cx="325.2" cy="46.4" r="1.25" fill="#D055FF"/><circle cx="334.1" cy="36.0" r="1.25" fill="#00B2C6"/><polyline points="300.7,32.0 303.2,31.8 305.7,31.6 308.2,31.4 310.8,31.2 313.3,30.9 315.8,30.7 318.3,30.4 320.8,30.1 323.4,29.8 325.9,29.4 328.4,28.9 330.9,28.5 333.4,27.9 335.9,27.3 338.4,26.7 341.0,26.0 343.5,25.3 346.0,24.6 348.5,23.9 351.0,23.2 353.6,22.4 356.1,21.7 358.6,20.9 361.1,20.2" fill="none" stroke="#444" stroke-width="0.85" stroke-dasharray="2.6,2.2"/><polyline points="300.7,39.0 303.2,38.3 305.7,37.6 308.2,36.9 310.8,36.2 313.3,35.6 315.8,34.9 318.3,34.3 320.8,33.7 323.4,33.1 325.9,32.6 328.4,32.2 330.9,31.7 333.4,31.4 335.9,31.1 338.4,30.8 341.0,30.6 343.5,30.4 346.0,30.2 348.5,30.0 351.0,29.8 353.6,29.7 356.1,29.5 358.6,29.4 361.1,29.2" fill="none" stroke="#444" stroke-width="0.85" stroke-dasharray="2.6,2.2"/><polyline points="300.7,35.5 361.1,24.7" fill="none" stroke="#2a2a2a" stroke-width="1.25"/><path d="M297.95,5.00V63.20H363.70" fill="none" stroke="#262626" stroke-width="1.1"/><line x1="296.35" y1="11.20" x2="297.95" y2="11.20" stroke="#262626" stroke-width="0.6"/><text x="295.55" y="12.90" text-anchor="end" class="tk" transform="translate(295.55,0) scale(1.0,1) translate(-295.55,0)">3.0</text><line x1="296.35" y1="23.35" x2="297.95" y2="23.35" stroke="#262626" stroke-width="0.6"/><text x="295.55" y="25.05" text-anchor="end" class="tk" transform="translate(295.55,0) scale(1.0,1) translate(-295.55,0)">2.5</text><line x1="296.35" y1="35.50" x2="297.95" y2="35.50" stroke="#262626" stroke-width="0.6"/><text x="295.55" y="37.20" text-anchor="end" class="tk" transform="translate(295.55,0) scale(1.0,1) translate(-295.55,0)">2.0</text><line x1="296.35" y1="47.65" x2="297.95" y2="47.65" stroke="#262626" stroke-width="0.6"/><text x="295.55" y="49.35" text-anchor="end" class="tk" transform="translate(295.55,0) scale(1.0,1) translate(-295.55,0)">1.5</text><line x1="296.35" y1="59.80" x2="297.95" y2="59.80" stroke="#262626" stroke-width="0.6"/><text x="295.55" y="61.50" text-anchor="end" class="tk" transform="translate(295.55,0) scale(1.0,1) translate(-295.55,0)">1.0</text><line x1="305.40" y1="63.20" x2="305.40" y2="64.80" stroke="#262626" stroke-width="0.6"/><text x="305.40" y="68.85" text-anchor="middle" class="tk">-1</text><line x1="325.40" y1="63.20" x2="325.40" y2="64.80" stroke="#262626" stroke-width="0.6"/><text x="325.40" y="68.85" text-anchor="middle" class="tk">0</text><line x1="345.50" y1="63.20" x2="345.50" y2="64.80" stroke="#262626" stroke-width="0.6"/><text x="345.50" y="68.85" text-anchor="middle" class="tk">1</text><text x="330.82" y="74.80" text-anchor="middle" class="tt">PC2</text><text x="0" y="0" text-anchor="middle" class="tt" style="font-size:6.35px" transform="translate(283.95,34.10) rotate(-90)">Shannon</text><text x="276.40" y="11.00" class="tag" transform="translate(276.40,0) scale(1.13,1) translate(-276.40,0)">(d)</text><text x="301.55" y="10.60" class="r2" transform="translate(301.55,0) scale(1.05,1) translate(-301.55,0)"><tspan font-style="italic">R</tspan><tspan dy="-1.6" font-size="3">2</tspan><tspan dy="1.6"> = 0.068, </tspan><tspan font-style="italic">p</tspan> = 0.006</text></g><g><circle cx="444.4" cy="12.7" r="1.25" fill="#D055FF"/><circle cx="431.3" cy="23.5" r="1.25" fill="#D055FF"/><circle cx="431.7" cy="29.7" r="1.25" fill="#D055FF"/><circle cx="442.2" cy="25.4" r="1.25" fill="#00B2C6"/><circle cx="413.5" cy="29.5" r="1.25" fill="#00B2C6"/><circle cx="405.7" cy="32.8" r="1.25" fill="#00B2C6"/><circle cx="414.0" cy="34.1" r="1.25" fill="#00B2C6"/><circle cx="428.3" cy="33.4" r="1.25" fill="#00B2C6"/><circle cx="397.7" cy="37.7" r="1.25" fill="#00B2C6"/><circle cx="392.1" cy="42.4" r="1.25" fill="#00B2C6"/><circle cx="405.7" cy="40.2" r="1.25" fill="#00B2C6"/><circle cx="406.3" cy="41.2" r="1.25" fill="#00B2C6"/><circle cx="414.3" cy="38.7" r="1.25" fill="#00B2C6"/><circle cx="413.7" cy="35.0" r="1.25" fill="#00B2C6"/><circle cx="407.5" cy="43.9" r="1.25" fill="#00B2C6"/><circle cx="408.8" cy="44.6" r="1.25" fill="#00B2C6"/><circle cx="409.4" cy="45.9" r="1.25" fill="#00B2C6"/><circle cx="411.3" cy="46.7" r="1.25" fill="#00B2C6"/><circle cx="412.5" cy="44.3" r="1.25" fill="#00B2C6"/><circle cx="415.6" cy="44.6" r="1.25" fill="#00B2C6"/><circle cx="416.2" cy="45.9" r="1.25" fill="#00B2C6"/><circle cx="399.5" cy="46.7" r="1.25" fill="#00B2C6"/><circle cx="423.0" cy="44.9" r="1.25" fill="#00B2C6"/><circle cx="424.9" cy="40.6" r="1.25" fill="#00B2C6"/><circle cx="427.3" cy="43.9" r="1.25" fill="#00B2C6"/><circle cx="432.9" cy="45.1" r="1.25" fill="#00B2C6"/><circle cx="436.0" cy="46.4" r="1.25" fill="#00B2C6"/><circle cx="417.4" cy="53.3" r="1.25" fill="#00B2C6"/><circle cx="418.1" cy="52.3" r="1.25" fill="#00B2C6"/><circle cx="422.4" cy="46.7" r="1.25" fill="#00B2C6"/><circle cx="418.1" cy="37.7" r="1.25" fill="#42A200"/><circle cx="419.9" cy="38.5" r="1.25" fill="#42A200"/><circle cx="400.7" cy="43.9" r="1.25" fill="#42A200"/><circle cx="392.1" cy="46.7" r="1.25" fill="#42A200"/><circle cx="397.7" cy="51.1" r="1.25" fill="#42A200"/><circle cx="401.4" cy="53.5" r="1.25" fill="#42A200"/><circle cx="402.6" cy="54.2" r="1.25" fill="#42A200"/><circle cx="407.5" cy="45.9" r="1.25" fill="#42A200"/><circle cx="411.3" cy="42.4" r="1.25" fill="#42A200"/><circle cx="411.9" cy="43.7" r="1.25" fill="#42A200"/><circle cx="413.7" cy="47.4" r="1.25" fill="#42A200"/><circle cx="415.6" cy="47.4" r="1.25" fill="#42A200"/><circle cx="408.8" cy="51.1" r="1.25" fill="#42A200"/><circle cx="408.8" cy="52.9" r="1.25" fill="#42A200"/><circle cx="410.0" cy="53.3" r="1.25" fill="#42A200"/><circle cx="412.5" cy="52.3" r="1.25" fill="#42A200"/><circle cx="422.4" cy="49.2" r="1.25" fill="#42A200"/><circle cx="423.6" cy="48.6" r="1.25" fill="#42A200"/><circle cx="426.1" cy="50.5" r="1.25" fill="#42A200"/><circle cx="428.6" cy="52.3" r="1.25" fill="#42A200"/><circle cx="431.0" cy="53.5" r="1.25" fill="#42A200"/><circle cx="431.7" cy="50.5" r="1.25" fill="#42A200"/><circle cx="439.7" cy="46.7" r="1.25" fill="#42A200"/><circle cx="440.3" cy="53.5" r="1.25" fill="#42A200"/><circle cx="428.8" cy="36.9" r="1.25" fill="#D055FF"/><circle cx="405.1" cy="43.9" r="1.25" fill="#D055FF"/><circle cx="434.1" cy="43.0" r="1.25" fill="#D055FF"/><circle cx="435.4" cy="43.7" r="1.25" fill="#D055FF"/><circle cx="426.1" cy="46.1" r="1.25" fill="#D055FF"/><circle cx="429.8" cy="48.0" r="1.25" fill="#D055FF"/><circle cx="433.5" cy="50.5" r="1.25" fill="#D055FF"/><circle cx="440.9" cy="47.4" r="1.25" fill="#D055FF"/><circle cx="442.8" cy="47.4" r="1.25" fill="#D055FF"/><circle cx="444.0" cy="46.7" r="1.25" fill="#D055FF"/><circle cx="445.3" cy="46.7" r="1.25" fill="#D055FF"/><circle cx="446.5" cy="47.4" r="1.25" fill="#D055FF"/><circle cx="443.4" cy="48.6" r="1.25" fill="#D055FF"/><circle cx="452.1" cy="50.8" r="1.25" fill="#D055FF"/><circle cx="440.3" cy="55.4" r="1.25" fill="#D055FF"/><circle cx="443.4" cy="54.8" r="1.25" fill="#D055FF"/><circle cx="445.9" cy="54.8" r="1.25" fill="#D055FF"/><circle cx="450.8" cy="57.0" r="1.25" fill="#D055FF"/><circle cx="415.0" cy="50.8" r="1.25" fill="#D055FF"/><circle cx="403.8" cy="49.8" r="1.25" fill="#FA4A3D"/><circle cx="405.7" cy="50.5" r="1.25" fill="#FA4A3D"/><circle cx="406.9" cy="51.1" r="1.25" fill="#FA4A3D"/><circle cx="414.3" cy="48.6" r="1.25" fill="#FA4A3D"/><circle cx="418.1" cy="49.8" r="1.25" fill="#FA4A3D"/><circle cx="417.4" cy="57.0" r="1.25" fill="#FA4A3D"/><circle cx="418.7" cy="58.2" r="1.25" fill="#FA4A3D"/><circle cx="420.5" cy="58.7" r="1.25" fill="#FA4A3D"/><circle cx="398.3" cy="57.0" r="1.25" fill="#FA4A3D"/><circle cx="398.9" cy="58.5" r="1.25" fill="#FA4A3D"/><circle cx="409.4" cy="56.6" r="1.25" fill="#FA4A3D"/><circle cx="410.6" cy="57.9" r="1.25" fill="#FA4A3D"/><circle cx="411.3" cy="60.3" r="1.25" fill="#FA4A3D"/><circle cx="407.5" cy="60.3" r="1.25" fill="#FA4A3D"/><circle cx="413.1" cy="59.7" r="1.25" fill="#FA4A3D"/><circle cx="411.9" cy="61.0" r="1.25" fill="#FA4A3D"/><circle cx="427.9" cy="57.0" r="1.25" fill="#FA4A3D"/><circle cx="432.3" cy="60.7" r="1.25" fill="#FA4A3D"/><circle cx="436.6" cy="53.5" r="1.25" fill="#FA4A3D"/><polyline points="390.5,43.3 393.1,43.6 395.8,43.9 398.4,44.1 401.1,44.4 403.7,44.7 406.4,44.9 409.0,45.1 411.7,45.3 414.3,45.5 417.0,45.6 419.6,45.7 422.2,45.7 424.9,45.7 427.5,45.7 430.2,45.6 432.8,45.6 435.5,45.5 438.1,45.4 440.8,45.3 443.4,45.1 446.1,45.0 448.7,44.9 451.4,44.7 454.0,44.6" fill="none" stroke="#444" stroke-width="0.85" stroke-dasharray="2.6,2.2"/><polyline points="390.5,50.3 393.1,50.1 395.8,49.9 398.4,49.7 401.1,49.5 403.7,49.4 406.4,49.2 409.0,49.1 411.7,49.0 414.3,48.9 417.0,48.8 419.6,48.9 422.2,48.9 424.9,49.0 427.5,49.1 430.2,49.2 432.8,49.4 435.5,49.5 438.1,49.7 440.8,49.9 443.4,50.1 446.1,50.3 448.7,50.6 451.4,50.8 454.0,51.0" fill="none" stroke="#444" stroke-width="0.85" stroke-dasharray="2.6,2.2"/><polyline points="390.5,46.8 454.0,47.8" fill="none" stroke="#555" stroke-width="0.7" stroke-dasharray="0.9,1.9"/><path d="M388.75,5.00V63.20H455.00" fill="none" stroke="#262626" stroke-width="1.1"/><line x1="387.15" y1="14.30" x2="388.75" y2="14.30" stroke="#262626" stroke-width="0.6"/><text x="386.35" y="16.00" text-anchor="end" class="tk" transform="translate(386.35,0) scale(1.0,1) translate(-386.35,0)">60</text><line x1="387.15" y1="31.40" x2="388.75" y2="31.40" stroke="#262626" stroke-width="0.6"/><text x="386.35" y="33.10" text-anchor="end" class="tk" transform="translate(386.35,0) scale(1.0,1) translate(-386.35,0)">40</text><line x1="387.15" y1="48.50" x2="388.75" y2="48.50" stroke="#262626" stroke-width="0.6"/><text x="386.35" y="50.20" text-anchor="end" class="tk" transform="translate(386.35,0) scale(1.0,1) translate(-386.35,0)">20</text><line x1="396.20" y1="63.20" x2="396.20" y2="64.80" stroke="#262626" stroke-width="0.6"/><text x="396.20" y="68.85" text-anchor="middle" class="tk">-1.0</text><line x1="405.90" y1="63.20" x2="405.90" y2="64.80" stroke="#262626" stroke-width="0.6"/><text x="405.90" y="68.85" text-anchor="middle" class="tk">-0.5</text><line x1="415.60" y1="63.20" x2="415.60" y2="64.80" stroke="#262626" stroke-width="0.6"/><text x="415.60" y="68.85" text-anchor="middle" class="tk">0.0</text><line x1="425.30" y1="63.20" x2="425.30" y2="64.80" stroke="#262626" stroke-width="0.6"/><text x="425.30" y="68.85" text-anchor="middle" class="tk">0.5</text><line x1="435.00" y1="63.20" x2="435.00" y2="64.80" stroke="#262626" stroke-width="0.6"/><text x="435.00" y="68.85" text-anchor="middle" class="tk">1.0</text><line x1="444.70" y1="63.20" x2="444.70" y2="64.80" stroke="#262626" stroke-width="0.6"/><text x="421.88" y="74.80" text-anchor="middle" class="tt">PC1</text><text x="0" y="0" text-anchor="middle" class="tt" style="font-size:6.35px" transform="translate(374.75,34.10) rotate(-90)">Chao</text><text x="370.00" y="11.00" class="tag" transform="translate(370.00,0) scale(1.13,1) translate(-370.00,0)">(e)</text><text x="392.35" y="10.60" class="r2" transform="translate(392.35,0) scale(1.05,1) translate(-392.35,0)"><tspan font-style="italic">R</tspan><tspan dy="-1.6" font-size="3">2</tspan><tspan dy="1.6"> = 0.007, </tspan><tspan font-style="italic">p</tspan> = 0.395</text></g><g><circle cx="510.2" cy="12.7" r="1.25" fill="#D055FF"/><circle cx="512.6" cy="23.5" r="1.25" fill="#D055FF"/><circle cx="503.7" cy="29.7" r="1.25" fill="#D055FF"/><circle cx="524.5" cy="25.4" r="1.25" fill="#00B2C6"/><circle cx="542.3" cy="29.5" r="1.25" fill="#00B2C6"/><circle cx="508.4" cy="32.8" r="1.25" fill="#00B2C6"/><circle cx="513.0" cy="33.7" r="1.25" fill="#00B2C6"/><circle cx="515.5" cy="34.4" r="1.25" fill="#00B2C6"/><circle cx="489.9" cy="36.9" r="1.25" fill="#D055FF"/><circle cx="490.1" cy="41.8" r="1.25" fill="#D055FF"/><circle cx="482.7" cy="43.9" r="1.25" fill="#D055FF"/><circle cx="484.6" cy="43.4" r="1.25" fill="#D055FF"/><circle cx="493.8" cy="48.0" r="1.25" fill="#D055FF"/><circle cx="497.5" cy="48.6" r="1.25" fill="#D055FF"/><circle cx="500.6" cy="48.4" r="1.25" fill="#D055FF"/><circle cx="505.0" cy="46.7" r="1.25" fill="#D055FF"/><circle cx="506.8" cy="47.4" r="1.25" fill="#D055FF"/><circle cx="508.7" cy="46.7" r="1.25" fill="#D055FF"/><circle cx="510.5" cy="46.7" r="1.25" fill="#D055FF"/><circle cx="509.9" cy="45.5" r="1.25" fill="#D055FF"/><circle cx="509.3" cy="43.0" r="1.25" fill="#D055FF"/><circle cx="508.1" cy="48.6" r="1.25" fill="#D055FF"/><circle cx="505.0" cy="50.5" r="1.25" fill="#D055FF"/><circle cx="514.2" cy="51.1" r="1.25" fill="#D055FF"/><circle cx="514.9" cy="54.8" r="1.25" fill="#D055FF"/><circle cx="509.3" cy="56.6" r="1.25" fill="#D055FF"/><circle cx="511.1" cy="57.3" r="1.25" fill="#D055FF"/><circle cx="507.4" cy="57.0" r="1.25" fill="#D055FF"/><circle cx="484.6" cy="54.8" r="1.25" fill="#D055FF"/><circle cx="496.3" cy="51.1" r="1.25" fill="#D055FF"/><circle cx="506.4" cy="37.7" r="1.25" fill="#00B2C6"/><circle cx="515.8" cy="38.7" r="1.25" fill="#00B2C6"/><circle cx="516.7" cy="40.9" r="1.25" fill="#00B2C6"/><circle cx="518.3" cy="40.6" r="1.25" fill="#00B2C6"/><circle cx="511.8" cy="40.2" r="1.25" fill="#00B2C6"/><circle cx="499.8" cy="43.0" r="1.25" fill="#00B2C6"/><circle cx="515.5" cy="44.9" r="1.25" fill="#00B2C6"/><circle cx="519.2" cy="43.9" r="1.25" fill="#00B2C6"/><circle cx="522.3" cy="44.9" r="1.25" fill="#00B2C6"/><circle cx="526.6" cy="43.9" r="1.25" fill="#00B2C6"/><circle cx="527.5" cy="46.7" r="1.25" fill="#00B2C6"/><circle cx="529.1" cy="44.6" r="1.25" fill="#00B2C6"/><circle cx="530.9" cy="41.2" r="1.25" fill="#00B2C6"/><circle cx="531.5" cy="43.0" r="1.25" fill="#00B2C6"/><circle cx="532.2" cy="44.9" r="1.25" fill="#00B2C6"/><circle cx="533.2" cy="46.7" r="1.25" fill="#00B2C6"/><circle cx="530.3" cy="49.2" r="1.25" fill="#00B2C6"/><circle cx="517.3" cy="52.9" r="1.25" fill="#00B2C6"/><circle cx="518.6" cy="50.8" r="1.25" fill="#00B2C6"/><circle cx="520.4" cy="38.7" r="1.25" fill="#42A200"/><circle cx="505.6" cy="44.3" r="1.25" fill="#42A200"/><circle cx="492.0" cy="46.7" r="1.25" fill="#42A200"/><circle cx="491.4" cy="48.6" r="1.25" fill="#42A200"/><circle cx="495.1" cy="49.8" r="1.25" fill="#42A200"/><circle cx="498.2" cy="48.0" r="1.25" fill="#42A200"/><circle cx="501.9" cy="49.8" r="1.25" fill="#42A200"/><circle cx="503.1" cy="51.1" r="1.25" fill="#42A200"/><circle cx="504.3" cy="53.5" r="1.25" fill="#42A200"/><circle cx="509.3" cy="52.3" r="1.25" fill="#42A200"/><circle cx="513.0" cy="52.3" r="1.25" fill="#42A200"/><circle cx="490.7" cy="53.5" r="1.25" fill="#42A200"/><circle cx="494.5" cy="54.2" r="1.25" fill="#42A200"/><circle cx="499.4" cy="43.9" r="1.25" fill="#42A200"/><circle cx="492.6" cy="49.8" r="1.25" fill="#FA4A3D"/><circle cx="501.3" cy="51.7" r="1.25" fill="#FA4A3D"/><circle cx="502.5" cy="52.9" r="1.25" fill="#FA4A3D"/><circle cx="518.6" cy="49.8" r="1.25" fill="#FA4A3D"/><circle cx="489.5" cy="58.5" r="1.25" fill="#FA4A3D"/><circle cx="495.7" cy="57.3" r="1.25" fill="#FA4A3D"/><circle cx="497.5" cy="56.6" r="1.25" fill="#FA4A3D"/><circle cx="500.6" cy="56.6" r="1.25" fill="#FA4A3D"/><circle cx="496.3" cy="59.1" r="1.25" fill="#FA4A3D"/><circle cx="500.0" cy="60.7" r="1.25" fill="#FA4A3D"/><circle cx="508.1" cy="59.1" r="1.25" fill="#FA4A3D"/><circle cx="509.3" cy="60.3" r="1.25" fill="#FA4A3D"/><circle cx="511.8" cy="58.5" r="1.25" fill="#FA4A3D"/><circle cx="512.4" cy="49.8" r="1.25" fill="#FA4A3D"/><circle cx="506.8" cy="54.8" r="1.25" fill="#FA4A3D"/><polyline points="482.7,49.8 485.2,49.5 487.7,49.3 490.2,49.0 492.7,48.7 495.2,48.4 497.6,48.0 500.1,47.6 502.6,47.2 505.1,46.7 507.6,46.2 510.1,45.6 512.6,44.9 515.1,44.3 517.6,43.6 520.1,42.8 522.6,42.1 525.1,41.3 527.5,40.6 530.0,39.8 532.5,39.0 535.0,38.3 537.5,37.5 540.0,36.7 542.5,35.9" fill="none" stroke="#444" stroke-width="0.85" stroke-dasharray="2.6,2.2"/><polyline points="482.7,56.2 485.2,55.4 487.7,54.6 490.2,53.9 492.7,53.1 495.2,52.4 497.6,51.7 500.1,51.1 502.6,50.5 505.1,49.9 507.6,49.4 510.1,49.0 512.6,48.6 515.1,48.2 517.6,47.9 520.1,47.5 522.6,47.2 525.1,47.0 527.5,46.7 530.0,46.4 532.5,46.1 535.0,45.9 537.5,45.6 540.0,45.4 542.5,45.1" fill="none" stroke="#444" stroke-width="0.85" stroke-dasharray="2.6,2.2"/><polyline points="482.7,53.0 542.5,40.5" fill="none" stroke="#2a2a2a" stroke-width="1.25"/><path d="M479.65,5.00V63.20H544.60" fill="none" stroke="#262626" stroke-width="1.1"/><line x1="478.05" y1="14.30" x2="479.65" y2="14.30" stroke="#262626" stroke-width="0.6"/><text x="477.25" y="16.00" text-anchor="end" class="tk" transform="translate(477.25,0) scale(1.0,1) translate(-477.25,0)">60</text><line x1="478.05" y1="31.40" x2="479.65" y2="31.40" stroke="#262626" stroke-width="0.6"/><text x="477.25" y="33.10" text-anchor="end" class="tk" transform="translate(477.25,0) scale(1.0,1) translate(-477.25,0)">40</text><line x1="478.05" y1="48.50" x2="479.65" y2="48.50" stroke="#262626" stroke-width="0.6"/><text x="477.25" y="50.20" text-anchor="end" class="tk" transform="translate(477.25,0) scale(1.0,1) translate(-477.25,0)">20</text><line x1="487.00" y1="63.20" x2="487.00" y2="64.80" stroke="#262626" stroke-width="0.6"/><text x="487.00" y="68.85" text-anchor="middle" class="tk">-1</text><line x1="507.20" y1="63.20" x2="507.20" y2="64.80" stroke="#262626" stroke-width="0.6"/><text x="507.20" y="68.85" text-anchor="middle" class="tk">0</text><line x1="527.20" y1="63.20" x2="527.20" y2="64.80" stroke="#262626" stroke-width="0.6"/><text x="527.20" y="68.85" text-anchor="middle" class="tk">1</text><text x="512.12" y="74.80" text-anchor="middle" class="tt">PC2</text><text x="0" y="0" text-anchor="middle" class="tt" style="font-size:6.35px" transform="translate(465.65,34.10) rotate(-90)">Chao</text><text x="461.40" y="11.00" class="tag" transform="translate(461.40,0) scale(1.13,1) translate(-461.40,0)">(f)</text><text x="483.25" y="10.60" class="r2" transform="translate(483.25,0) scale(1.05,1) translate(-483.25,0)"><tspan font-style="italic">R</tspan><tspan dy="-1.6" font-size="3">2</tspan><tspan dy="1.6"> = 0.090, </tspan><tspan font-style="italic">p</tspan> = 0.002</text></g><g><circle cx="51.0" cy="90.7" r="1.25" fill="#00B2C6"/><circle cx="44.8" cy="96.4" r="1.25" fill="#00B2C6"/><circle cx="72.6" cy="96.4" r="1.25" fill="#00B2C6"/><circle cx="29.3" cy="102.5" r="1.25" fill="#00B2C6"/><circle cx="65.6" cy="102.5" r="1.25" fill="#00B2C6"/><circle cx="34.9" cy="108.3" r="1.25" fill="#00B2C6"/><circle cx="50.7" cy="108.3" r="1.25" fill="#00B2C6"/><circle cx="66.0" cy="90.7" r="1.25" fill="#D055FF"/><circle cx="66.8" cy="96.4" r="1.25" fill="#D055FF"/><circle cx="70.5" cy="96.4" r="1.25" fill="#D055FF"/><circle cx="71.7" cy="102.5" r="1.25" fill="#D055FF"/><circle cx="66.8" cy="108.3" r="1.25" fill="#D055FF"/><circle cx="68.9" cy="108.3" r="1.25" fill="#D055FF"/><circle cx="79.4" cy="108.3" r="1.25" fill="#D055FF"/><circle cx="81.3" cy="108.3" r="1.25" fill="#D055FF"/><circle cx="49.5" cy="102.5" r="1.25" fill="#42A200"/><circle cx="77.5" cy="108.3" r="1.25" fill="#42A200"/><circle cx="43.8" cy="108.3" r="1.25" fill="#FA4A3D"/><circle cx="28.7" cy="114.2" r="1.25" fill="#42A200"/><circle cx="39.2" cy="114.2" r="1.25" fill="#42A200"/><circle cx="40.5" cy="114.2" r="1.25" fill="#42A200"/><circle cx="43.5" cy="114.2" r="1.25" fill="#42A200"/><circle cx="49.1" cy="114.2" r="1.25" fill="#42A200"/><circle cx="57.1" cy="114.2" r="1.25" fill="#42A200"/><circle cx="59.0" cy="114.2" r="1.25" fill="#42A200"/><circle cx="67.7" cy="114.2" r="1.25" fill="#42A200"/><circle cx="35.5" cy="114.2" r="1.25" fill="#FA4A3D"/><circle cx="73.8" cy="114.2" r="1.25" fill="#FA4A3D"/><circle cx="42.3" cy="114.2" r="1.25" fill="#00B2C6"/><circle cx="45.4" cy="114.2" r="1.25" fill="#00B2C6"/><circle cx="50.3" cy="114.2" r="1.25" fill="#00B2C6"/><circle cx="54.1" cy="114.2" r="1.25" fill="#00B2C6"/><circle cx="47.3" cy="114.2" r="1.25" fill="#D055FF"/><circle cx="51.6" cy="114.2" r="1.25" fill="#D055FF"/><circle cx="63.3" cy="114.2" r="1.25" fill="#D055FF"/><circle cx="69.5" cy="114.2" r="1.25" fill="#D055FF"/><circle cx="71.4" cy="114.2" r="1.25" fill="#D055FF"/><circle cx="78.2" cy="114.2" r="1.25" fill="#D055FF"/><circle cx="80.0" cy="114.2" r="1.25" fill="#D055FF"/><circle cx="81.9" cy="114.2" r="1.25" fill="#D055FF"/><circle cx="34.3" cy="120.1" r="1.25" fill="#42A200"/><circle cx="38.6" cy="120.1" r="1.25" fill="#42A200"/><circle cx="45.4" cy="120.1" r="1.25" fill="#42A200"/><circle cx="49.1" cy="120.1" r="1.25" fill="#42A200"/><circle cx="51.6" cy="120.1" r="1.25" fill="#42A200"/><circle cx="55.3" cy="120.1" r="1.25" fill="#42A200"/><circle cx="62.7" cy="120.1" r="1.25" fill="#42A200"/><circle cx="72.6" cy="120.1" r="1.25" fill="#42A200"/><circle cx="42.9" cy="120.1" r="1.25" fill="#00B2C6"/><circle cx="47.3" cy="120.1" r="1.25" fill="#00B2C6"/><circle cx="50.3" cy="120.1" r="1.25" fill="#00B2C6"/><circle cx="53.4" cy="120.1" r="1.25" fill="#00B2C6"/><circle cx="68.9" cy="120.1" r="1.25" fill="#00B2C6"/><circle cx="70.1" cy="120.1" r="1.25" fill="#00B2C6"/><circle cx="57.8" cy="120.1" r="1.25" fill="#FA4A3D"/><circle cx="59.6" cy="120.1" r="1.25" fill="#D055FF"/><circle cx="61.5" cy="120.1" r="1.25" fill="#D055FF"/><circle cx="76.9" cy="120.1" r="1.25" fill="#D055FF"/><circle cx="79.4" cy="120.1" r="1.25" fill="#D055FF"/><circle cx="81.3" cy="120.1" r="1.25" fill="#D055FF"/><circle cx="36.4" cy="126.2" r="1.25" fill="#00B2C6"/><circle cx="43.5" cy="126.2" r="1.25" fill="#00B2C6"/><circle cx="46.0" cy="126.2" r="1.25" fill="#00B2C6"/><circle cx="62.7" cy="126.2" r="1.25" fill="#00B2C6"/><circle cx="41.7" cy="126.2" r="1.25" fill="#FA4A3D"/><circle cx="48.5" cy="126.2" r="1.25" fill="#FA4A3D"/><circle cx="55.9" cy="126.2" r="1.25" fill="#FA4A3D"/><circle cx="52.2" cy="126.2" r="1.25" fill="#D055FF"/><circle cx="54.1" cy="126.2" r="1.25" fill="#D055FF"/><circle cx="76.9" cy="126.2" r="1.25" fill="#D055FF"/><circle cx="81.9" cy="126.2" r="1.25" fill="#D055FF"/><circle cx="88.7" cy="126.2" r="1.25" fill="#D055FF"/><circle cx="60.9" cy="126.2" r="1.25" fill="#42A200"/><circle cx="64.6" cy="126.2" r="1.25" fill="#42A200"/><circle cx="65.8" cy="126.2" r="1.25" fill="#42A200"/><circle cx="44.2" cy="132.1" r="1.25" fill="#42A200"/><circle cx="67.7" cy="132.1" r="1.25" fill="#42A200"/><circle cx="68.3" cy="132.1" r="1.25" fill="#42A200"/><circle cx="80.0" cy="132.1" r="1.25" fill="#42A200"/><circle cx="47.9" cy="132.1" r="1.25" fill="#FA4A3D"/><circle cx="64.6" cy="132.1" r="1.25" fill="#FA4A3D"/><circle cx="54.7" cy="132.1" r="1.25" fill="#00B2C6"/><circle cx="83.1" cy="132.1" r="1.25" fill="#D055FF"/><circle cx="86.2" cy="132.1" r="1.25" fill="#D055FF"/><circle cx="38.0" cy="138.2" r="1.25" fill="#42A200"/><circle cx="60.2" cy="138.2" r="1.25" fill="#00B2C6"/><polyline points="26.5,113.4 29.2,113.7 31.9,114.0 34.6,114.3 37.3,114.5 40.0,114.8 42.8,115.0 45.5,115.2 48.2,115.4 50.9,115.5 53.6,115.6 56.3,115.6 59.0,115.6 61.7,115.5 64.4,115.5 67.1,115.4 69.8,115.3 72.5,115.1 75.2,115.0 78.0,114.9 80.7,114.7 83.4,114.5 86.1,114.4 88.8,114.2 91.5,114.0" fill="none" stroke="#444" stroke-width="0.85" stroke-dasharray="2.6,2.2"/><polyline points="26.5,121.0 29.2,120.7 31.9,120.5 34.6,120.2 37.3,120.0 40.0,119.8 42.8,119.6 45.5,119.4 48.2,119.3 50.9,119.2 53.6,119.2 56.3,119.2 59.0,119.2 61.7,119.3 64.4,119.4 67.1,119.5 69.8,119.7 72.5,119.8 75.2,120.0 78.0,120.2 80.7,120.4 83.4,120.6 86.1,120.8 88.8,121.0 91.5,121.2" fill="none" stroke="#444" stroke-width="0.85" stroke-dasharray="2.6,2.2"/><polyline points="26.5,117.2 91.5,117.6" fill="none" stroke="#555" stroke-width="0.7" stroke-dasharray="0.9,1.9"/><path d="M26.00,82.70V140.35H92.00" fill="none" stroke="#262626" stroke-width="1.1"/><line x1="24.40" y1="84.20" x2="26.00" y2="84.20" stroke="#262626" stroke-width="0.6"/><text x="23.60" y="85.90" text-anchor="end" class="tk" transform="translate(23.60,0) scale(1.0,1) translate(-23.60,0)">10.0</text><line x1="24.40" y1="99.20" x2="26.00" y2="99.20" stroke="#262626" stroke-width="0.6"/><text x="23.60" y="100.90" text-anchor="end" class="tk" transform="translate(23.60,0) scale(1.0,1) translate(-23.60,0)">7.5</text><line x1="24.40" y1="114.20" x2="26.00" y2="114.20" stroke="#262626" stroke-width="0.6"/><text x="23.60" y="115.90" text-anchor="end" class="tk" transform="translate(23.60,0) scale(1.0,1) translate(-23.60,0)">5.0</text><line x1="24.40" y1="129.20" x2="26.00" y2="129.20" stroke="#262626" stroke-width="0.6"/><text x="23.60" y="130.90" text-anchor="end" class="tk" transform="translate(23.60,0) scale(1.0,1) translate(-23.60,0)">2.5</text><line x1="33.75" y1="140.35" x2="33.75" y2="141.95" stroke="#262626" stroke-width="0.6"/><text x="33.75" y="146.00" text-anchor="middle" class="tk">-1.0</text><line x1="43.42" y1="140.35" x2="43.42" y2="141.95" stroke="#262626" stroke-width="0.6"/><text x="43.42" y="146.00" text-anchor="middle" class="tk">-0.5</text><line x1="53.09" y1="140.35" x2="53.09" y2="141.95" stroke="#262626" stroke-width="0.6"/><text x="53.09" y="146.00" text-anchor="middle" class="tk">0.0</text><line x1="62.76" y1="140.35" x2="62.76" y2="141.95" stroke="#262626" stroke-width="0.6"/><text x="62.76" y="146.00" text-anchor="middle" class="tk">0.5</text><line x1="72.43" y1="140.35" x2="72.43" y2="141.95" stroke="#262626" stroke-width="0.6"/><text x="72.43" y="146.00" text-anchor="middle" class="tk">1.0</text><line x1="82.10" y1="140.35" x2="82.10" y2="141.95" stroke="#262626" stroke-width="0.6"/><text x="59.00" y="152.20" text-anchor="middle" class="tt">PC1</text><text x="0" y="0" text-anchor="middle" class="tt" style="font-size:6.35px" transform="translate(12.00,111.53) rotate(-90)">Richness</text><text x="4.00" y="88.10" class="tag" transform="translate(4.00,0) scale(1.13,1) translate(-4.00,0)">(g)</text><text x="29.60" y="88.30" class="r2" transform="translate(29.60,0) scale(1.05,1) translate(-29.60,0)"><tspan font-style="italic">R</tspan><tspan dy="-1.6" font-size="3">2</tspan><tspan dy="1.6"> = 0.002, </tspan><tspan font-style="italic">p</tspan> = 0.69</text></g><g><circle cx="126.9" cy="90.7" r="1.25" fill="#D055FF"/><circle cx="143.2" cy="96.4" r="1.25" fill="#D055FF"/><circle cx="148.8" cy="96.4" r="1.25" fill="#D055FF"/><circle cx="121.6" cy="102.3" r="1.25" fill="#D055FF"/><circle cx="140.7" cy="108.3" r="1.25" fill="#D055FF"/><circle cx="142.6" cy="108.3" r="1.25" fill="#D055FF"/><circle cx="144.4" cy="108.3" r="1.25" fill="#D055FF"/><circle cx="146.3" cy="108.3" r="1.25" fill="#D055FF"/><circle cx="148.1" cy="108.3" r="1.25" fill="#D055FF"/><circle cx="149.4" cy="108.3" r="1.25" fill="#D055FF"/><circle cx="152.8" cy="90.7" r="1.25" fill="#00B2C6"/><circle cx="144.4" cy="96.4" r="1.25" fill="#00B2C6"/><circle cx="164.8" cy="96.4" r="1.25" fill="#00B2C6"/><circle cx="150.4" cy="102.3" r="1.25" fill="#00B2C6"/><circle cx="169.4" cy="102.3" r="1.25" fill="#00B2C6"/><circle cx="161.7" cy="108.3" r="1.25" fill="#00B2C6"/><circle cx="179.7" cy="108.3" r="1.25" fill="#00B2C6"/><circle cx="143.2" cy="102.3" r="1.25" fill="#FA4A3D"/><circle cx="137.0" cy="108.3" r="1.25" fill="#FA4A3D"/><circle cx="148.4" cy="102.3" r="1.25" fill="#42A200"/><circle cx="129.0" cy="108.3" r="1.25" fill="#42A200"/><circle cx="119.7" cy="114.2" r="1.25" fill="#D055FF"/><circle cx="134.5" cy="114.2" r="1.25" fill="#D055FF"/><circle cx="138.9" cy="114.2" r="1.25" fill="#D055FF"/><circle cx="146.3" cy="114.2" r="1.25" fill="#D055FF"/><circle cx="150.6" cy="114.2" r="1.25" fill="#D055FF"/><circle cx="120.9" cy="114.2" r="1.25" fill="#42A200"/><circle cx="127.1" cy="114.2" r="1.25" fill="#42A200"/><circle cx="129.6" cy="114.2" r="1.25" fill="#42A200"/><circle cx="136.4" cy="114.2" r="1.25" fill="#42A200"/><circle cx="140.1" cy="114.2" r="1.25" fill="#42A200"/><circle cx="141.3" cy="114.2" r="1.25" fill="#42A200"/><circle cx="148.1" cy="114.2" r="1.25" fill="#42A200"/><circle cx="154.3" cy="114.2" r="1.25" fill="#42A200"/><circle cx="156.2" cy="114.2" r="1.25" fill="#42A200"/><circle cx="132.1" cy="114.2" r="1.25" fill="#FA4A3D"/><circle cx="137.6" cy="114.2" r="1.25" fill="#FA4A3D"/><circle cx="142.6" cy="114.2" r="1.25" fill="#FA4A3D"/><circle cx="145.1" cy="114.2" r="1.25" fill="#00B2C6"/><circle cx="158.7" cy="114.2" r="1.25" fill="#00B2C6"/><circle cx="163.6" cy="114.2" r="1.25" fill="#00B2C6"/><circle cx="167.9" cy="114.2" r="1.25" fill="#00B2C6"/><circle cx="168.9" cy="114.2" r="1.25" fill="#00B2C6"/><circle cx="121.6" cy="120.1" r="1.25" fill="#D055FF"/><circle cx="127.1" cy="120.1" r="1.25" fill="#D055FF"/><circle cx="143.8" cy="120.1" r="1.25" fill="#D055FF"/><circle cx="150.6" cy="120.1" r="1.25" fill="#D055FF"/><circle cx="151.9" cy="120.1" r="1.25" fill="#D055FF"/><circle cx="130.2" cy="120.1" r="1.25" fill="#42A200"/><circle cx="134.5" cy="120.1" r="1.25" fill="#42A200"/><circle cx="138.3" cy="120.1" r="1.25" fill="#42A200"/><circle cx="145.7" cy="120.1" r="1.25" fill="#42A200"/><circle cx="132.7" cy="120.1" r="1.25" fill="#FA4A3D"/><circle cx="136.4" cy="120.1" r="1.25" fill="#00B2C6"/><circle cx="139.5" cy="120.1" r="1.25" fill="#00B2C6"/><circle cx="146.9" cy="120.1" r="1.25" fill="#00B2C6"/><circle cx="148.8" cy="120.1" r="1.25" fill="#00B2C6"/><circle cx="153.1" cy="120.1" r="1.25" fill="#00B2C6"/><circle cx="154.9" cy="120.1" r="1.25" fill="#00B2C6"/><circle cx="156.8" cy="120.1" r="1.25" fill="#00B2C6"/><circle cx="158.7" cy="120.1" r="1.25" fill="#00B2C6"/><circle cx="159.9" cy="120.1" r="1.25" fill="#00B2C6"/><circle cx="126.9" cy="126.2" r="1.25" fill="#FA4A3D"/><circle cx="156.2" cy="126.2" r="1.25" fill="#FA4A3D"/><circle cx="129.6" cy="126.2" r="1.25" fill="#D055FF"/><circle cx="131.5" cy="126.2" r="1.25" fill="#D055FF"/><circle cx="142.0" cy="126.2" r="1.25" fill="#D055FF"/><circle cx="143.8" cy="126.2" r="1.25" fill="#D055FF"/><circle cx="147.5" cy="126.2" r="1.25" fill="#D055FF"/><circle cx="134.5" cy="126.2" r="1.25" fill="#42A200"/><circle cx="140.1" cy="126.2" r="1.25" fill="#42A200"/><circle cx="152.5" cy="126.2" r="1.25" fill="#00B2C6"/><circle cx="164.8" cy="126.2" r="1.25" fill="#00B2C6"/><circle cx="166.7" cy="126.2" r="1.25" fill="#00B2C6"/><circle cx="168.5" cy="126.2" r="1.25" fill="#00B2C6"/><circle cx="170.4" cy="126.2" r="1.25" fill="#00B2C6"/><circle cx="128.4" cy="132.1" r="1.25" fill="#42A200"/><circle cx="130.8" cy="132.1" r="1.25" fill="#42A200"/><circle cx="138.5" cy="132.1" r="1.25" fill="#42A200"/><circle cx="135.8" cy="138.2" r="1.25" fill="#42A200"/><circle cx="137.0" cy="132.1" r="1.25" fill="#FA4A3D"/><circle cx="145.7" cy="132.1" r="1.25" fill="#FA4A3D"/><circle cx="147.5" cy="132.1" r="1.25" fill="#D055FF"/><circle cx="148.8" cy="132.1" r="1.25" fill="#D055FF"/><circle cx="154.9" cy="132.1" r="1.25" fill="#00B2C6"/><circle cx="159.3" cy="138.2" r="1.25" fill="#00B2C6"/><polyline points="119.5,114.2 122.0,114.5 124.6,114.8 127.1,115.1 129.7,115.4 132.2,115.7 134.8,115.9 137.3,116.0 139.8,116.0 142.4,115.8 144.9,115.5 147.5,115.1 150.0,114.6 152.5,114.1 155.1,113.6 157.6,113.0 160.2,112.5 162.7,111.9 165.2,111.4 167.8,110.8 170.3,110.3 172.9,109.7 175.4,109.1 178.0,108.6 180.5,108.0" fill="none" stroke="#444" stroke-width="0.85" stroke-dasharray="2.6,2.2"/><polyline points="119.5,121.4 122.0,120.9 124.6,120.5 127.1,120.0 129.7,119.6 132.2,119.2 134.8,118.8 137.3,118.6 139.8,118.4 142.4,118.4 144.9,118.6 147.5,118.9 150.0,119.2 152.5,119.6 155.1,119.9 157.6,120.3 160.2,120.7 162.7,121.1 165.2,121.5 167.8,121.9 170.3,122.3 172.9,122.8 175.4,123.2 178.0,123.6 180.5,124.0" fill="none" stroke="#444" stroke-width="0.85" stroke-dasharray="2.6,2.2"/><polyline points="119.5,117.8 180.5,116.0" fill="none" stroke="#555" stroke-width="0.7" stroke-dasharray="0.9,1.9"/><path d="M116.55,82.70V140.35H182.70" fill="none" stroke="#262626" stroke-width="1.1"/><line x1="114.95" y1="84.20" x2="116.55" y2="84.20" stroke="#262626" stroke-width="0.6"/><text x="114.15" y="85.90" text-anchor="end" class="tk" transform="translate(114.15,0) scale(1.0,1) translate(-114.15,0)">10.0</text><line x1="114.95" y1="99.20" x2="116.55" y2="99.20" stroke="#262626" stroke-width="0.6"/><text x="114.15" y="100.90" text-anchor="end" class="tk" transform="translate(114.15,0) scale(1.0,1) translate(-114.15,0)">7.5</text><line x1="114.95" y1="114.20" x2="116.55" y2="114.20" stroke="#262626" stroke-width="0.6"/><text x="114.15" y="115.90" text-anchor="end" class="tk" transform="translate(114.15,0) scale(1.0,1) translate(-114.15,0)">5.0</text><line x1="114.95" y1="129.20" x2="116.55" y2="129.20" stroke="#262626" stroke-width="0.6"/><text x="114.15" y="130.90" text-anchor="end" class="tk" transform="translate(114.15,0) scale(1.0,1) translate(-114.15,0)">2.5</text><line x1="124.40" y1="140.35" x2="124.40" y2="141.95" stroke="#262626" stroke-width="0.6"/><text x="124.40" y="146.00" text-anchor="middle" class="tk">-1</text><line x1="144.20" y1="140.35" x2="144.20" y2="141.95" stroke="#262626" stroke-width="0.6"/><text x="144.20" y="146.00" text-anchor="middle" class="tk">0</text><line x1="164.20" y1="140.35" x2="164.20" y2="141.95" stroke="#262626" stroke-width="0.6"/><text x="164.20" y="146.00" text-anchor="middle" class="tk">1</text><text x="149.62" y="152.20" text-anchor="middle" class="tt">PC2</text><text x="0" y="0" text-anchor="middle" class="tt" style="font-size:6.35px" transform="translate(102.55,111.53) rotate(-90)">Richness</text><text x="93.60" y="88.10" class="tag" transform="translate(93.60,0) scale(1.13,1) translate(-93.60,0)">(h)</text><text x="120.15" y="88.30" class="r2" transform="translate(120.15,0) scale(1.05,1) translate(-120.15,0)"><tspan font-style="italic">R</tspan><tspan dy="-1.6" font-size="3">2</tspan><tspan dy="1.6"> = 0.002, </tspan><tspan font-style="italic">p</tspan> = 0.634</text></g><g><circle cx="247.8" cy="101.8" r="1.25" fill="#D055FF"/><circle cx="252.1" cy="106.5" r="1.25" fill="#D055FF"/><circle cx="253.4" cy="107.7" r="1.25" fill="#D055FF"/><circle cx="250.3" cy="109.0" r="1.25" fill="#D055FF"/><circle cx="249.0" cy="110.2" r="1.25" fill="#D055FF"/><circle cx="262.6" cy="108.3" r="1.25" fill="#D055FF"/><circle cx="253.4" cy="104.3" r="1.25" fill="#FA4A3D"/><circle cx="225.3" cy="109.0" r="1.25" fill="#FA4A3D"/><circle cx="232.3" cy="110.0" r="1.25" fill="#FA4A3D"/><circle cx="216.9" cy="110.8" r="1.25" fill="#FA4A3D"/><circle cx="221.8" cy="111.4" r="1.25" fill="#FA4A3D"/><circle cx="229.3" cy="111.4" r="1.25" fill="#FA4A3D"/><circle cx="231.1" cy="105.6" r="1.25" fill="#42A200"/><circle cx="258.9" cy="108.3" r="1.25" fill="#42A200"/><circle cx="210.7" cy="111.4" r="1.25" fill="#42A200"/><circle cx="239.8" cy="111.4" r="1.25" fill="#42A200"/><circle cx="260.8" cy="106.7" r="1.25" fill="#00B2C6"/><circle cx="226.2" cy="110.0" r="1.25" fill="#00B2C6"/><circle cx="226.8" cy="110.8" r="1.25" fill="#00B2C6"/><circle cx="246.6" cy="110.8" r="1.25" fill="#00B2C6"/><circle cx="210.1" cy="112.0" r="1.25" fill="#42A200"/><circle cx="221.2" cy="114.7" r="1.25" fill="#42A200"/><circle cx="220.0" cy="118.8" r="1.25" fill="#42A200"/><circle cx="227.4" cy="117.6" r="1.25" fill="#42A200"/><circle cx="228.6" cy="119.4" r="1.25" fill="#42A200"/><circle cx="233.0" cy="117.6" r="1.25" fill="#42A200"/><circle cx="231.1" cy="123.1" r="1.25" fill="#42A200"/><circle cx="233.6" cy="123.1" r="1.25" fill="#42A200"/><circle cx="239.1" cy="112.6" r="1.25" fill="#42A200"/><circle cx="242.2" cy="121.6" r="1.25" fill="#42A200"/><circle cx="247.2" cy="123.7" r="1.25" fill="#42A200"/><circle cx="249.7" cy="131.5" r="1.25" fill="#42A200"/><circle cx="261.4" cy="125.6" r="1.25" fill="#42A200"/><circle cx="258.9" cy="121.6" r="1.25" fill="#42A200"/><circle cx="219.4" cy="137.7" r="1.25" fill="#42A200"/><circle cx="215.0" cy="116.9" r="1.25" fill="#42A200"/><circle cx="230.5" cy="119.4" r="1.25" fill="#42A200"/><circle cx="236.1" cy="117.6" r="1.25" fill="#42A200"/><circle cx="263.9" cy="115.1" r="1.25" fill="#42A200"/><circle cx="210.7" cy="116.9" r="1.25" fill="#00B2C6"/><circle cx="216.3" cy="116.9" r="1.25" fill="#00B2C6"/><circle cx="223.7" cy="121.6" r="1.25" fill="#00B2C6"/><circle cx="224.3" cy="124.4" r="1.25" fill="#00B2C6"/><circle cx="227.4" cy="124.4" r="1.25" fill="#00B2C6"/><circle cx="229.9" cy="115.1" r="1.25" fill="#00B2C6"/><circle cx="232.3" cy="118.2" r="1.25" fill="#00B2C6"/><circle cx="231.7" cy="119.4" r="1.25" fill="#00B2C6"/><circle cx="234.8" cy="117.6" r="1.25" fill="#00B2C6"/><circle cx="235.4" cy="118.8" r="1.25" fill="#00B2C6"/><circle cx="236.7" cy="126.6" r="1.25" fill="#00B2C6"/><circle cx="232.3" cy="112.6" r="1.25" fill="#00B2C6"/><circle cx="229.9" cy="113.2" r="1.25" fill="#00B2C6"/><circle cx="244.1" cy="120.9" r="1.25" fill="#00B2C6"/><circle cx="245.3" cy="119.4" r="1.25" fill="#00B2C6"/><circle cx="247.8" cy="115.1" r="1.25" fill="#00B2C6"/><circle cx="250.3" cy="116.3" r="1.25" fill="#00B2C6"/><circle cx="254.6" cy="114.7" r="1.25" fill="#00B2C6"/><circle cx="217.5" cy="128.1" r="1.25" fill="#00B2C6"/><circle cx="224.9" cy="130.5" r="1.25" fill="#00B2C6"/><circle cx="225.5" cy="131.2" r="1.25" fill="#00B2C6"/><circle cx="243.5" cy="129.9" r="1.25" fill="#00B2C6"/><circle cx="241.4" cy="137.7" r="1.25" fill="#00B2C6"/><circle cx="228.6" cy="120.7" r="1.25" fill="#00B2C6"/><circle cx="218.1" cy="120.9" r="1.25" fill="#FA4A3D"/><circle cx="222.5" cy="112.4" r="1.25" fill="#FA4A3D"/><circle cx="230.5" cy="121.3" r="1.25" fill="#FA4A3D"/><circle cx="229.9" cy="125.6" r="1.25" fill="#FA4A3D"/><circle cx="229.3" cy="127.8" r="1.25" fill="#FA4A3D"/><circle cx="236.7" cy="123.1" r="1.25" fill="#FA4A3D"/><circle cx="237.3" cy="121.9" r="1.25" fill="#FA4A3D"/><circle cx="246.6" cy="125.6" r="1.25" fill="#FA4A3D"/><circle cx="250.9" cy="127.1" r="1.25" fill="#FA4A3D"/><circle cx="228.0" cy="118.8" r="1.25" fill="#FA4A3D"/><circle cx="223.7" cy="117.2" r="1.25" fill="#D055FF"/><circle cx="234.2" cy="119.2" r="1.25" fill="#D055FF"/><circle cx="237.9" cy="115.7" r="1.25" fill="#D055FF"/><circle cx="242.2" cy="114.5" r="1.25" fill="#D055FF"/><circle cx="244.7" cy="113.9" r="1.25" fill="#D055FF"/><circle cx="250.9" cy="114.5" r="1.25" fill="#D055FF"/><circle cx="258.9" cy="115.7" r="1.25" fill="#D055FF"/><circle cx="260.8" cy="116.3" r="1.25" fill="#D055FF"/><circle cx="262.6" cy="115.7" r="1.25" fill="#D055FF"/><circle cx="262.0" cy="120.0" r="1.25" fill="#D055FF"/><circle cx="270.1" cy="121.9" r="1.25" fill="#D055FF"/><circle cx="268.8" cy="125.8" r="1.25" fill="#D055FF"/><circle cx="259.5" cy="127.8" r="1.25" fill="#D055FF"/><circle cx="264.5" cy="131.2" r="1.25" fill="#D055FF"/><circle cx="236.7" cy="113.2" r="1.25" fill="#D055FF"/><polyline points="208.5,117.3 211.2,117.5 213.8,117.6 216.5,117.8 219.2,117.9 221.8,118.0 224.5,118.2 227.2,118.3 229.8,118.3 232.5,118.4 235.2,118.4 237.8,118.3 240.5,118.2 243.2,118.1 245.8,118.0 248.5,117.8 251.2,117.6 253.8,117.4 256.5,117.1 259.2,116.9 261.8,116.7 264.5,116.4 267.2,116.1 269.8,115.9 272.5,115.6" fill="none" stroke="#444" stroke-width="0.85" stroke-dasharray="2.6,2.2"/><polyline points="208.5,123.7 211.2,123.4 213.8,123.1 216.5,122.8 219.2,122.5 221.8,122.3 224.5,122.0 227.2,121.8 229.8,121.5 232.5,121.4 235.2,121.2 237.8,121.1 240.5,121.1 243.2,121.0 245.8,121.1 248.5,121.1 251.2,121.1 253.8,121.2 256.5,121.3 259.2,121.4 261.8,121.5 264.5,121.6 267.2,121.7 269.8,121.9 272.5,122.0" fill="none" stroke="#444" stroke-width="0.85" stroke-dasharray="2.6,2.2"/><polyline points="208.5,120.5 272.5,118.8" fill="none" stroke="#555" stroke-width="0.7" stroke-dasharray="0.9,1.9"/><path d="M207.45,82.70V140.35H273.10" fill="none" stroke="#262626" stroke-width="1.1"/><line x1="205.85" y1="84.50" x2="207.45" y2="84.50" stroke="#262626" stroke-width="0.6"/><text x="205.05" y="86.20" text-anchor="end" class="tk" transform="translate(205.05,0) scale(1.0,1) translate(-205.05,0)">3</text><line x1="205.85" y1="102.30" x2="207.45" y2="102.30" stroke="#262626" stroke-width="0.6"/><text x="205.05" y="104.00" text-anchor="end" class="tk" transform="translate(205.05,0) scale(1.0,1) translate(-205.05,0)">2</text><line x1="205.85" y1="120.00" x2="207.45" y2="120.00" stroke="#262626" stroke-width="0.6"/><text x="205.05" y="121.70" text-anchor="end" class="tk" transform="translate(205.05,0) scale(1.0,1) translate(-205.05,0)">1</text><line x1="205.85" y1="137.80" x2="207.45" y2="137.80" stroke="#262626" stroke-width="0.6"/><text x="205.05" y="139.50" text-anchor="end" class="tk" transform="translate(205.05,0) scale(1.0,1) translate(-205.05,0)">0</text><line x1="215.90" y1="140.35" x2="215.90" y2="141.95" stroke="#262626" stroke-width="0.6"/><text x="215.90" y="146.00" text-anchor="middle" class="tk">-1.0</text><line x1="227.30" y1="140.35" x2="227.30" y2="141.95" stroke="#262626" stroke-width="0.6"/><text x="227.30" y="146.00" text-anchor="middle" class="tk">-0.5</text><line x1="238.50" y1="140.35" x2="238.50" y2="141.95" stroke="#262626" stroke-width="0.6"/><text x="238.50" y="146.00" text-anchor="middle" class="tk">0.0</text><line x1="251.20" y1="140.35" x2="251.20" y2="141.95" stroke="#262626" stroke-width="0.6"/><text x="251.20" y="146.00" text-anchor="middle" class="tk">0.5</text><line x1="261.30" y1="140.35" x2="261.30" y2="141.95" stroke="#262626" stroke-width="0.6"/><text x="261.30" y="146.00" text-anchor="middle" class="tk">1.0</text><text x="240.28" y="152.20" text-anchor="middle" class="tt">PC1</text><text x="0" y="0" text-anchor="middle" class="tt" style="font-size:6.35px" transform="translate(193.45,111.53) rotate(-90)">Shannon</text><text x="187.60" y="88.10" class="tag" transform="translate(187.60,0) scale(1.13,1) translate(-187.60,0)">(i)</text><text x="211.05" y="88.30" class="r2" transform="translate(211.05,0) scale(1.05,1) translate(-211.05,0)"><tspan font-style="italic">R</tspan><tspan dy="-1.6" font-size="3">2</tspan><tspan dy="1.6"> = 0.010, </tspan><tspan font-style="italic">p</tspan> = 0.302</text></g><g><circle cx="308.4" cy="101.8" r="1.25" fill="#D055FF"/><circle cx="324.8" cy="101.8" r="1.25" fill="#D055FF"/><circle cx="302.9" cy="108.0" r="1.25" fill="#D055FF"/><circle cx="327.9" cy="108.3" r="1.25" fill="#D055FF"/><circle cx="328.9" cy="109.0" r="1.25" fill="#D055FF"/><circle cx="329.8" cy="107.5" r="1.25" fill="#D055FF"/><circle cx="322.3" cy="110.0" r="1.25" fill="#D055FF"/><circle cx="324.8" cy="104.0" r="1.25" fill="#FA4A3D"/><circle cx="319.0" cy="109.0" r="1.25" fill="#FA4A3D"/><circle cx="314.3" cy="110.0" r="1.25" fill="#FA4A3D"/><circle cx="316.8" cy="110.8" r="1.25" fill="#FA4A3D"/><circle cx="320.5" cy="111.4" r="1.25" fill="#FA4A3D"/><circle cx="329.8" cy="105.5" r="1.25" fill="#42A200"/><circle cx="310.6" cy="108.3" r="1.25" fill="#42A200"/><circle cx="313.7" cy="111.4" r="1.25" fill="#42A200"/><circle cx="323.6" cy="111.4" r="1.25" fill="#42A200"/><circle cx="343.0" cy="106.9" r="1.25" fill="#00B2C6"/><circle cx="346.5" cy="110.2" r="1.25" fill="#00B2C6"/><circle cx="331.6" cy="110.8" r="1.25" fill="#00B2C6"/><circle cx="334.1" cy="111.7" r="1.25" fill="#00B2C6"/><circle cx="301.9" cy="116.9" r="1.25" fill="#D055FF"/><circle cx="303.8" cy="116.3" r="1.25" fill="#D055FF"/><circle cx="308.7" cy="114.5" r="1.25" fill="#D055FF"/><circle cx="311.8" cy="115.7" r="1.25" fill="#D055FF"/><circle cx="313.1" cy="121.9" r="1.25" fill="#D055FF"/><circle cx="318.6" cy="116.3" r="1.25" fill="#D055FF"/><circle cx="324.8" cy="115.1" r="1.25" fill="#D055FF"/><circle cx="326.7" cy="114.5" r="1.25" fill="#D055FF"/><circle cx="327.9" cy="113.9" r="1.25" fill="#D055FF"/><circle cx="328.5" cy="115.7" r="1.25" fill="#D055FF"/><circle cx="325.4" cy="117.6" r="1.25" fill="#D055FF"/><circle cx="329.8" cy="117.6" r="1.25" fill="#D055FF"/><circle cx="332.9" cy="115.7" r="1.25" fill="#D055FF"/><circle cx="330.4" cy="122.5" r="1.25" fill="#D055FF"/><circle cx="329.1" cy="125.6" r="1.25" fill="#D055FF"/><circle cx="324.8" cy="128.1" r="1.25" fill="#D055FF"/><circle cx="329.8" cy="131.2" r="1.25" fill="#D055FF"/><circle cx="321.7" cy="119.4" r="1.25" fill="#D055FF"/><circle cx="302.6" cy="113.2" r="1.25" fill="#42A200"/><circle cx="309.4" cy="116.9" r="1.25" fill="#42A200"/><circle cx="314.3" cy="112.0" r="1.25" fill="#42A200"/><circle cx="315.5" cy="121.3" r="1.25" fill="#42A200"/><circle cx="319.9" cy="116.9" r="1.25" fill="#42A200"/><circle cx="321.7" cy="123.7" r="1.25" fill="#42A200"/><circle cx="323.6" cy="121.3" r="1.25" fill="#42A200"/><circle cx="319.3" cy="125.6" r="1.25" fill="#42A200"/><circle cx="325.4" cy="120.0" r="1.25" fill="#42A200"/><circle cx="330.4" cy="113.9" r="1.25" fill="#42A200"/><circle cx="331.6" cy="119.4" r="1.25" fill="#42A200"/><circle cx="335.9" cy="113.9" r="1.25" fill="#42A200"/><circle cx="339.0" cy="113.2" r="1.25" fill="#42A200"/><circle cx="308.7" cy="123.1" r="1.25" fill="#42A200"/><circle cx="310.4" cy="131.2" r="1.25" fill="#42A200"/><circle cx="312.5" cy="131.5" r="1.25" fill="#42A200"/><circle cx="317.4" cy="137.7" r="1.25" fill="#42A200"/><circle cx="308.1" cy="120.7" r="1.25" fill="#FA4A3D"/><circle cx="311.2" cy="119.4" r="1.25" fill="#FA4A3D"/><circle cx="314.3" cy="117.6" r="1.25" fill="#FA4A3D"/><circle cx="315.5" cy="119.4" r="1.25" fill="#FA4A3D"/><circle cx="318.0" cy="119.4" r="1.25" fill="#FA4A3D"/><circle cx="321.1" cy="112.0" r="1.25" fill="#FA4A3D"/><circle cx="318.6" cy="126.8" r="1.25" fill="#FA4A3D"/><circle cx="326.7" cy="125.6" r="1.25" fill="#FA4A3D"/><circle cx="327.9" cy="125.0" r="1.25" fill="#FA4A3D"/><circle cx="329.1" cy="127.8" r="1.25" fill="#FA4A3D"/><circle cx="335.3" cy="116.3" r="1.25" fill="#FA4A3D"/><circle cx="337.2" cy="123.1" r="1.25" fill="#FA4A3D"/><circle cx="323.6" cy="112.0" r="1.25" fill="#FA4A3D"/><circle cx="318.0" cy="123.1" r="1.25" fill="#00B2C6"/><circle cx="326.7" cy="121.9" r="1.25" fill="#00B2C6"/><circle cx="326.7" cy="120.7" r="1.25" fill="#00B2C6"/><circle cx="334.1" cy="113.9" r="1.25" fill="#00B2C6"/><circle cx="336.6" cy="112.6" r="1.25" fill="#00B2C6"/><circle cx="334.1" cy="118.8" r="1.25" fill="#00B2C6"/><circle cx="335.3" cy="120.7" r="1.25" fill="#00B2C6"/><circle cx="339.0" cy="119.4" r="1.25" fill="#00B2C6"/><circle cx="340.3" cy="116.3" r="1.25" fill="#00B2C6"/><circle cx="340.9" cy="124.4" r="1.25" fill="#00B2C6"/><circle cx="336.6" cy="126.6" r="1.25" fill="#00B2C6"/><circle cx="335.9" cy="129.9" r="1.25" fill="#00B2C6"/><circle cx="344.6" cy="117.6" r="1.25" fill="#00B2C6"/><circle cx="346.5" cy="119.4" r="1.25" fill="#00B2C6"/><circle cx="348.9" cy="116.9" r="1.25" fill="#00B2C6"/><circle cx="350.2" cy="116.9" r="1.25" fill="#00B2C6"/><circle cx="351.4" cy="117.6" r="1.25" fill="#00B2C6"/><circle cx="348.9" cy="121.3" r="1.25" fill="#00B2C6"/><circle cx="351.4" cy="128.1" r="1.25" fill="#00B2C6"/><circle cx="350.2" cy="130.5" r="1.25" fill="#00B2C6"/><circle cx="360.7" cy="118.2" r="1.25" fill="#00B2C6"/><circle cx="340.9" cy="137.7" r="1.25" fill="#00B2C6"/><polyline points="300.0,112.9 302.6,113.3 305.2,113.8 307.8,114.2 310.3,114.6 312.9,115.0 315.5,115.4 318.1,115.7 320.7,116.1 323.2,116.4 325.8,116.6 328.4,116.8 331.0,116.9 333.6,117.0 336.2,117.0 338.8,117.0 341.3,117.0 343.9,117.0 346.5,117.0 349.1,117.0 351.7,116.9 354.2,116.9 356.8,116.9 359.4,116.8 362.0,116.8" fill="none" stroke="#444" stroke-width="0.85" stroke-dasharray="2.6,2.2"/><polyline points="300.0,118.1 302.6,118.1 305.2,118.1 307.8,118.2 310.3,118.2 312.9,118.3 315.5,118.4 318.1,118.5 320.7,118.6 323.2,118.8 325.8,119.0 328.4,119.3 331.0,119.6 333.6,120.0 336.2,120.4 338.8,120.9 341.3,121.3 343.9,121.8 346.5,122.3 349.1,122.7 351.7,123.2 354.2,123.7 356.8,124.2 359.4,124.7 362.0,125.2" fill="none" stroke="#444" stroke-width="0.85" stroke-dasharray="2.6,2.2"/><polyline points="300.0,115.5 362.0,121.0" fill="none" stroke="#555" stroke-width="0.7" stroke-dasharray="0.9,1.9"/><path d="M297.95,82.70V140.35H363.70" fill="none" stroke="#262626" stroke-width="1.1"/><line x1="296.35" y1="84.50" x2="297.95" y2="84.50" stroke="#262626" stroke-width="0.6"/><text x="295.55" y="86.20" text-anchor="end" class="tk" transform="translate(295.55,0) scale(1.0,1) translate(-295.55,0)">3</text><line x1="296.35" y1="102.30" x2="297.95" y2="102.30" stroke="#262626" stroke-width="0.6"/><text x="295.55" y="104.00" text-anchor="end" class="tk" transform="translate(295.55,0) scale(1.0,1) translate(-295.55,0)">2</text><line x1="296.35" y1="120.00" x2="297.95" y2="120.00" stroke="#262626" stroke-width="0.6"/><text x="295.55" y="121.70" text-anchor="end" class="tk" transform="translate(295.55,0) scale(1.0,1) translate(-295.55,0)">1</text><line x1="296.35" y1="137.80" x2="297.95" y2="137.80" stroke="#262626" stroke-width="0.6"/><text x="295.55" y="139.50" text-anchor="end" class="tk" transform="translate(295.55,0) scale(1.0,1) translate(-295.55,0)">0</text><line x1="305.40" y1="140.35" x2="305.40" y2="141.95" stroke="#262626" stroke-width="0.6"/><text x="305.40" y="146.00" text-anchor="middle" class="tk">-1</text><line x1="325.40" y1="140.35" x2="325.40" y2="141.95" stroke="#262626" stroke-width="0.6"/><text x="325.40" y="146.00" text-anchor="middle" class="tk">0</text><line x1="345.50" y1="140.35" x2="345.50" y2="141.95" stroke="#262626" stroke-width="0.6"/><text x="345.50" y="146.00" text-anchor="middle" class="tk">1</text><text x="330.82" y="152.20" text-anchor="middle" class="tt">PC2</text><text x="0" y="0" text-anchor="middle" class="tt" style="font-size:6.35px" transform="translate(283.95,111.53) rotate(-90)">Shannon</text><text x="278.00" y="88.10" class="tag" transform="translate(278.00,0) scale(1.13,1) translate(-278.00,0)">(j)</text><text x="301.55" y="88.30" class="r2" transform="translate(301.55,0) scale(1.05,1) translate(-301.55,0)"><tspan font-style="italic">R</tspan><tspan dy="-1.6" font-size="3">2</tspan><tspan dy="1.6"> = 0.017, </tspan><tspan font-style="italic">p</tspan> = 0.183</text></g><g><circle cx="433.5" cy="89.4" r="1.25" fill="#D055FF"/><circle cx="428.8" cy="97.2" r="1.25" fill="#D055FF"/><circle cx="435.0" cy="102.5" r="1.25" fill="#D055FF"/><circle cx="442.8" cy="105.0" r="1.25" fill="#D055FF"/><circle cx="391.7" cy="102.5" r="1.25" fill="#00B2C6"/><circle cx="397.4" cy="105.0" r="1.25" fill="#00B2C6"/><circle cx="435.7" cy="111.4" r="1.25" fill="#00B2C6"/><circle cx="435.0" cy="108.3" r="1.25" fill="#FA4A3D"/><circle cx="428.6" cy="113.5" r="1.25" fill="#00B2C6"/><circle cx="403.6" cy="115.7" r="1.25" fill="#00B2C6"/><circle cx="413.1" cy="115.7" r="1.25" fill="#00B2C6"/><circle cx="414.3" cy="116.3" r="1.25" fill="#00B2C6"/><circle cx="407.8" cy="118.8" r="1.25" fill="#00B2C6"/><circle cx="442.2" cy="115.7" r="1.25" fill="#00B2C6"/><circle cx="405.7" cy="124.4" r="1.25" fill="#00B2C6"/><circle cx="408.2" cy="125.6" r="1.25" fill="#00B2C6"/><circle cx="413.1" cy="123.7" r="1.25" fill="#00B2C6"/><circle cx="416.2" cy="125.6" r="1.25" fill="#00B2C6"/><circle cx="416.8" cy="127.5" r="1.25" fill="#00B2C6"/><circle cx="409.4" cy="128.7" r="1.25" fill="#00B2C6"/><circle cx="410.6" cy="129.9" r="1.25" fill="#00B2C6"/><circle cx="413.7" cy="130.5" r="1.25" fill="#00B2C6"/><circle cx="408.8" cy="131.2" r="1.25" fill="#00B2C6"/><circle cx="398.3" cy="131.2" r="1.25" fill="#00B2C6"/><circle cx="406.3" cy="131.2" r="1.25" fill="#00B2C6"/><circle cx="418.1" cy="135.5" r="1.25" fill="#00B2C6"/><circle cx="422.4" cy="138.0" r="1.25" fill="#00B2C6"/><circle cx="426.1" cy="131.2" r="1.25" fill="#00B2C6"/><circle cx="427.3" cy="131.8" r="1.25" fill="#00B2C6"/><circle cx="424.9" cy="124.4" r="1.25" fill="#00B2C6"/><circle cx="432.3" cy="124.4" r="1.25" fill="#00B2C6"/><circle cx="436.0" cy="113.0" r="1.25" fill="#00B2C6"/><circle cx="431.7" cy="113.9" r="1.25" fill="#D055FF"/><circle cx="433.5" cy="116.3" r="1.25" fill="#D055FF"/><circle cx="429.8" cy="120.0" r="1.25" fill="#D055FF"/><circle cx="405.1" cy="122.5" r="1.25" fill="#D055FF"/><circle cx="416.8" cy="124.4" r="1.25" fill="#D055FF"/><circle cx="426.1" cy="122.5" r="1.25" fill="#D055FF"/><circle cx="429.2" cy="126.8" r="1.25" fill="#D055FF"/><circle cx="431.0" cy="125.6" r="1.25" fill="#D055FF"/><circle cx="443.4" cy="120.0" r="1.25" fill="#D055FF"/><circle cx="445.9" cy="120.7" r="1.25" fill="#D055FF"/><circle cx="444.0" cy="124.4" r="1.25" fill="#D055FF"/><circle cx="440.9" cy="128.7" r="1.25" fill="#D055FF"/><circle cx="442.2" cy="130.5" r="1.25" fill="#D055FF"/><circle cx="443.4" cy="129.9" r="1.25" fill="#D055FF"/><circle cx="445.9" cy="131.2" r="1.25" fill="#D055FF"/><circle cx="439.7" cy="131.2" r="1.25" fill="#D055FF"/><circle cx="444.6" cy="133.6" r="1.25" fill="#D055FF"/><circle cx="450.2" cy="135.5" r="1.25" fill="#D055FF"/><circle cx="452.1" cy="133.6" r="1.25" fill="#D055FF"/><circle cx="415.6" cy="133.6" r="1.25" fill="#D055FF"/><circle cx="423.6" cy="131.2" r="1.25" fill="#D055FF"/><circle cx="426.1" cy="133.6" r="1.25" fill="#D055FF"/><circle cx="411.9" cy="115.7" r="1.25" fill="#42A200"/><circle cx="412.5" cy="117.6" r="1.25" fill="#42A200"/><circle cx="402.6" cy="125.0" r="1.25" fill="#42A200"/><circle cx="419.9" cy="122.5" r="1.25" fill="#42A200"/><circle cx="421.8" cy="128.1" r="1.25" fill="#42A200"/><circle cx="426.7" cy="125.6" r="1.25" fill="#42A200"/><circle cx="429.8" cy="128.1" r="1.25" fill="#42A200"/><circle cx="431.7" cy="128.1" r="1.25" fill="#42A200"/><circle cx="439.7" cy="126.2" r="1.25" fill="#42A200"/><circle cx="391.5" cy="128.1" r="1.25" fill="#42A200"/><circle cx="397.0" cy="131.2" r="1.25" fill="#42A200"/><circle cx="399.5" cy="131.2" r="1.25" fill="#42A200"/><circle cx="402.0" cy="131.2" r="1.25" fill="#42A200"/><circle cx="407.5" cy="135.5" r="1.25" fill="#42A200"/><circle cx="413.7" cy="131.8" r="1.25" fill="#42A200"/><circle cx="418.7" cy="129.3" r="1.25" fill="#42A200"/><circle cx="423.6" cy="134.0" r="1.25" fill="#42A200"/><circle cx="428.6" cy="135.5" r="1.25" fill="#42A200"/><circle cx="439.7" cy="133.6" r="1.25" fill="#42A200"/><circle cx="443.4" cy="135.5" r="1.25" fill="#42A200"/><circle cx="400.7" cy="138.0" r="1.25" fill="#42A200"/><circle cx="403.2" cy="115.7" r="1.25" fill="#FA4A3D"/><circle cx="409.4" cy="122.1" r="1.25" fill="#FA4A3D"/><circle cx="411.3" cy="122.5" r="1.25" fill="#FA4A3D"/><circle cx="398.3" cy="128.1" r="1.25" fill="#FA4A3D"/><circle cx="415.0" cy="126.8" r="1.25" fill="#FA4A3D"/><circle cx="414.3" cy="129.3" r="1.25" fill="#FA4A3D"/><circle cx="416.8" cy="131.2" r="1.25" fill="#FA4A3D"/><circle cx="419.3" cy="131.2" r="1.25" fill="#FA4A3D"/><circle cx="405.1" cy="133.6" r="1.25" fill="#FA4A3D"/><circle cx="406.9" cy="133.0" r="1.25" fill="#FA4A3D"/><circle cx="411.3" cy="134.3" r="1.25" fill="#FA4A3D"/><circle cx="410.6" cy="135.5" r="1.25" fill="#FA4A3D"/><circle cx="399.5" cy="133.6" r="1.25" fill="#FA4A3D"/><circle cx="436.6" cy="122.1" r="1.25" fill="#FA4A3D"/><circle cx="431.7" cy="135.5" r="1.25" fill="#FA4A3D"/><circle cx="427.3" cy="135.5" r="1.25" fill="#FA4A3D"/><polyline points="390.5,123.6 393.1,123.8 395.8,123.9 398.4,124.1 401.1,124.2 403.7,124.3 406.4,124.4 409.0,124.5 411.7,124.6 414.3,124.7 417.0,124.7 419.6,124.6 422.2,124.6 424.9,124.5 427.5,124.3 430.2,124.2 432.8,124.0 435.5,123.8 438.1,123.5 440.8,123.3 443.4,123.0 446.1,122.8 448.7,122.5 451.4,122.3 454.0,122.0" fill="none" stroke="#444" stroke-width="0.85" stroke-dasharray="2.6,2.2"/><polyline points="390.5,129.6 393.1,129.3 395.8,129.1 398.4,128.8 401.1,128.6 403.7,128.4 406.4,128.2 409.0,128.0 411.7,127.8 414.3,127.6 417.0,127.5 419.6,127.5 422.2,127.4 424.9,127.4 427.5,127.5 430.2,127.5 432.8,127.6 435.5,127.7 438.1,127.9 440.8,128.0 443.4,128.2 446.1,128.3 448.7,128.5 451.4,128.6 454.0,128.8" fill="none" stroke="#444" stroke-width="0.85" stroke-dasharray="2.6,2.2"/><polyline points="390.5,126.6 454.0,125.4" fill="none" stroke="#555" stroke-width="0.7" stroke-dasharray="0.9,1.9"/><path d="M388.75,82.70V140.35H455.00" fill="none" stroke="#262626" stroke-width="1.1"/><line x1="387.15" y1="84.50" x2="388.75" y2="84.50" stroke="#262626" stroke-width="0.6"/><text x="386.35" y="86.20" text-anchor="end" class="tk" transform="translate(386.35,0) scale(1.0,1) translate(-386.35,0)">25</text><line x1="387.15" y1="95.50" x2="388.75" y2="95.50" stroke="#262626" stroke-width="0.6"/><text x="386.35" y="97.20" text-anchor="end" class="tk" transform="translate(386.35,0) scale(1.0,1) translate(-386.35,0)">20</text><line x1="387.15" y1="106.50" x2="388.75" y2="106.50" stroke="#262626" stroke-width="0.6"/><text x="386.35" y="108.20" text-anchor="end" class="tk" transform="translate(386.35,0) scale(1.0,1) translate(-386.35,0)">15</text><line x1="387.15" y1="117.50" x2="388.75" y2="117.50" stroke="#262626" stroke-width="0.6"/><text x="386.35" y="119.20" text-anchor="end" class="tk" transform="translate(386.35,0) scale(1.0,1) translate(-386.35,0)">10</text><line x1="387.15" y1="128.50" x2="388.75" y2="128.50" stroke="#262626" stroke-width="0.6"/><text x="386.35" y="130.20" text-anchor="end" class="tk" transform="translate(386.35,0) scale(1.0,1) translate(-386.35,0)">5</text><line x1="387.15" y1="139.50" x2="388.75" y2="139.50" stroke="#262626" stroke-width="0.6"/><text x="386.35" y="141.20" text-anchor="end" class="tk" transform="translate(386.35,0) scale(1.0,1) translate(-386.35,0)">0</text><line x1="396.20" y1="140.35" x2="396.20" y2="141.95" stroke="#262626" stroke-width="0.6"/><text x="396.20" y="146.00" text-anchor="middle" class="tk">-1.0</text><line x1="405.90" y1="140.35" x2="405.90" y2="141.95" stroke="#262626" stroke-width="0.6"/><text x="405.90" y="146.00" text-anchor="middle" class="tk">-0.5</text><line x1="415.60" y1="140.35" x2="415.60" y2="141.95" stroke="#262626" stroke-width="0.6"/><text x="415.60" y="146.00" text-anchor="middle" class="tk">0.0</text><line x1="425.30" y1="140.35" x2="425.30" y2="141.95" stroke="#262626" stroke-width="0.6"/><text x="425.30" y="146.00" text-anchor="middle" class="tk">0.5</text><line x1="435.00" y1="140.35" x2="435.00" y2="141.95" stroke="#262626" stroke-width="0.6"/><text x="435.00" y="146.00" text-anchor="middle" class="tk">1.0</text><line x1="444.70" y1="140.35" x2="444.70" y2="141.95" stroke="#262626" stroke-width="0.6"/><text x="421.88" y="152.20" text-anchor="middle" class="tt">PC1</text><text x="0" y="0" text-anchor="middle" class="tt" style="font-size:6.35px" transform="translate(374.75,111.53) rotate(-90)">Chao</text><text x="369.40" y="88.10" class="tag" transform="translate(369.40,0) scale(1.13,1) translate(-369.40,0)">(k)</text><text x="392.35" y="88.30" class="r2" transform="translate(392.35,0) scale(1.05,1) translate(-392.35,0)"><tspan font-style="italic">R</tspan><tspan dy="-1.6" font-size="3">2</tspan><tspan dy="1.6"> = 0.005, </tspan><tspan font-style="italic">p</tspan> = 0.478</text></g><g><circle cx="511.4" cy="89.4" r="1.25" fill="#D055FF"/><circle cx="489.9" cy="97.2" r="1.25" fill="#D055FF"/><circle cx="484.6" cy="102.5" r="1.25" fill="#D055FF"/><circle cx="506.4" cy="105.0" r="1.25" fill="#D055FF"/><circle cx="532.4" cy="102.5" r="1.25" fill="#00B2C6"/><circle cx="506.8" cy="111.4" r="1.25" fill="#00B2C6"/><circle cx="506.0" cy="108.3" r="1.25" fill="#FA4A3D"/><circle cx="484.2" cy="115.7" r="1.25" fill="#42A200"/><circle cx="511.8" cy="117.9" r="1.25" fill="#42A200"/><circle cx="490.7" cy="125.6" r="1.25" fill="#42A200"/><circle cx="491.4" cy="126.8" r="1.25" fill="#42A200"/><circle cx="495.1" cy="128.1" r="1.25" fill="#42A200"/><circle cx="497.5" cy="126.8" r="1.25" fill="#42A200"/><circle cx="501.9" cy="125.6" r="1.25" fill="#42A200"/><circle cx="503.1" cy="127.5" r="1.25" fill="#42A200"/><circle cx="505.0" cy="128.7" r="1.25" fill="#42A200"/><circle cx="501.3" cy="131.8" r="1.25" fill="#42A200"/><circle cx="502.5" cy="133.6" r="1.25" fill="#42A200"/><circle cx="497.5" cy="131.8" r="1.25" fill="#42A200"/><circle cx="491.4" cy="135.5" r="1.25" fill="#42A200"/><circle cx="493.8" cy="135.5" r="1.25" fill="#42A200"/><circle cx="498.8" cy="138.0" r="1.25" fill="#42A200"/><circle cx="500.6" cy="135.5" r="1.25" fill="#42A200"/><circle cx="517.3" cy="122.5" r="1.25" fill="#42A200"/><circle cx="518.6" cy="121.9" r="1.25" fill="#42A200"/><circle cx="520.4" cy="122.5" r="1.25" fill="#42A200"/><circle cx="494.5" cy="131.2" r="1.25" fill="#42A200"/><circle cx="495.1" cy="115.7" r="1.25" fill="#FA4A3D"/><circle cx="495.1" cy="121.9" r="1.25" fill="#FA4A3D"/><circle cx="497.5" cy="123.1" r="1.25" fill="#FA4A3D"/><circle cx="498.8" cy="124.4" r="1.25" fill="#FA4A3D"/><circle cx="500.0" cy="123.7" r="1.25" fill="#FA4A3D"/><circle cx="500.6" cy="125.6" r="1.25" fill="#FA4A3D"/><circle cx="499.4" cy="130.5" r="1.25" fill="#FA4A3D"/><circle cx="489.5" cy="133.6" r="1.25" fill="#FA4A3D"/><circle cx="505.6" cy="131.8" r="1.25" fill="#FA4A3D"/><circle cx="508.7" cy="135.5" r="1.25" fill="#FA4A3D"/><circle cx="510.5" cy="130.5" r="1.25" fill="#FA4A3D"/><circle cx="512.4" cy="131.2" r="1.25" fill="#FA4A3D"/><circle cx="490.1" cy="124.4" r="1.25" fill="#FA4A3D"/><circle cx="503.7" cy="113.5" r="1.25" fill="#D055FF"/><circle cx="508.7" cy="115.7" r="1.25" fill="#D055FF"/><circle cx="506.0" cy="120.0" r="1.25" fill="#D055FF"/><circle cx="509.3" cy="120.0" r="1.25" fill="#D055FF"/><circle cx="509.9" cy="122.5" r="1.25" fill="#D055FF"/><circle cx="511.1" cy="124.4" r="1.25" fill="#D055FF"/><circle cx="507.4" cy="126.8" r="1.25" fill="#D055FF"/><circle cx="506.2" cy="128.1" r="1.25" fill="#D055FF"/><circle cx="503.7" cy="130.5" r="1.25" fill="#D055FF"/><circle cx="499.4" cy="128.1" r="1.25" fill="#D055FF"/><circle cx="513.0" cy="128.1" r="1.25" fill="#D055FF"/><circle cx="514.9" cy="130.5" r="1.25" fill="#D055FF"/><circle cx="484.6" cy="131.2" r="1.25" fill="#D055FF"/><circle cx="482.7" cy="122.5" r="1.25" fill="#D055FF"/><circle cx="489.5" cy="130.5" r="1.25" fill="#D055FF"/><circle cx="493.8" cy="133.6" r="1.25" fill="#D055FF"/><circle cx="495.1" cy="133.6" r="1.25" fill="#D055FF"/><circle cx="505.0" cy="133.6" r="1.25" fill="#D055FF"/><circle cx="510.5" cy="134.0" r="1.25" fill="#D055FF"/><circle cx="511.1" cy="135.5" r="1.25" fill="#D055FF"/><circle cx="513.0" cy="113.5" r="1.25" fill="#00B2C6"/><circle cx="515.8" cy="115.7" r="1.25" fill="#00B2C6"/><circle cx="524.7" cy="115.7" r="1.25" fill="#00B2C6"/><circle cx="527.8" cy="119.2" r="1.25" fill="#00B2C6"/><circle cx="522.9" cy="123.7" r="1.25" fill="#00B2C6"/><circle cx="516.1" cy="124.4" r="1.25" fill="#00B2C6"/><circle cx="516.7" cy="126.8" r="1.25" fill="#00B2C6"/><circle cx="519.8" cy="128.7" r="1.25" fill="#00B2C6"/><circle cx="521.7" cy="128.7" r="1.25" fill="#00B2C6"/><circle cx="509.3" cy="130.5" r="1.25" fill="#00B2C6"/><circle cx="511.1" cy="128.1" r="1.25" fill="#00B2C6"/><circle cx="526.6" cy="125.6" r="1.25" fill="#00B2C6"/><circle cx="530.3" cy="128.7" r="1.25" fill="#00B2C6"/><circle cx="530.9" cy="130.5" r="1.25" fill="#00B2C6"/><circle cx="532.2" cy="130.5" r="1.25" fill="#00B2C6"/><circle cx="533.4" cy="130.5" r="1.25" fill="#00B2C6"/><circle cx="527.8" cy="132.4" r="1.25" fill="#00B2C6"/><circle cx="517.9" cy="135.5" r="1.25" fill="#00B2C6"/><circle cx="522.3" cy="138.0" r="1.25" fill="#00B2C6"/><circle cx="542.7" cy="123.7" r="1.25" fill="#00B2C6"/><circle cx="508.7" cy="112.0" r="1.25" fill="#00B2C6"/><polyline points="481.0,123.0 483.6,123.2 486.2,123.5 488.9,123.7 491.5,123.9 494.1,124.1 496.8,124.2 499.4,124.3 502.0,124.4 504.6,124.4 507.2,124.4 509.9,124.3 512.5,124.1 515.1,124.0 517.8,123.8 520.4,123.6 523.0,123.4 525.6,123.1 528.2,122.9 530.9,122.7 533.5,122.4 536.1,122.2 538.8,121.9 541.4,121.7 544.0,121.4" fill="none" stroke="#444" stroke-width="0.85" stroke-dasharray="2.6,2.2"/><polyline points="481.0,129.0 483.6,128.7 486.2,128.4 488.9,128.1 491.5,127.8 494.1,127.5 496.8,127.3 499.4,127.1 502.0,126.9 504.6,126.8 507.2,126.8 509.9,126.8 512.5,126.9 515.1,126.9 517.8,127.1 520.4,127.2 523.0,127.3 525.6,127.5 528.2,127.6 530.9,127.8 533.5,127.9 536.1,128.1 538.8,128.3 541.4,128.4 544.0,128.6" fill="none" stroke="#444" stroke-width="0.85" stroke-dasharray="2.6,2.2"/><polyline points="481.0,126.0 544.0,125.0" fill="none" stroke="#555" stroke-width="0.7" stroke-dasharray="0.9,1.9"/><path d="M479.65,82.70V140.35H544.60" fill="none" stroke="#262626" stroke-width="1.1"/><line x1="478.05" y1="84.50" x2="479.65" y2="84.50" stroke="#262626" stroke-width="0.6"/><text x="477.25" y="86.20" text-anchor="end" class="tk" transform="translate(477.25,0) scale(1.0,1) translate(-477.25,0)">25</text><line x1="478.05" y1="95.50" x2="479.65" y2="95.50" stroke="#262626" stroke-width="0.6"/><text x="477.25" y="97.20" text-anchor="end" class="tk" transform="translate(477.25,0) scale(1.0,1) translate(-477.25,0)">20</text><line x1="478.05" y1="106.50" x2="479.65" y2="106.50" stroke="#262626" stroke-width="0.6"/><text x="477.25" y="108.20" text-anchor="end" class="tk" transform="translate(477.25,0) scale(1.0,1) translate(-477.25,0)">15</text><line x1="478.05" y1="117.50" x2="479.65" y2="117.50" stroke="#262626" stroke-width="0.6"/><text x="477.25" y="119.20" text-anchor="end" class="tk" transform="translate(477.25,0) scale(1.0,1) translate(-477.25,0)">10</text><line x1="478.05" y1="128.50" x2="479.65" y2="128.50" stroke="#262626" stroke-width="0.6"/><text x="477.25" y="130.20" text-anchor="end" class="tk" transform="translate(477.25,0) scale(1.0,1) translate(-477.25,0)">5</text><line x1="478.05" y1="139.50" x2="479.65" y2="139.50" stroke="#262626" stroke-width="0.6"/><text x="477.25" y="141.20" text-anchor="end" class="tk" transform="translate(477.25,0) scale(1.0,1) translate(-477.25,0)">0</text><line x1="487.00" y1="140.35" x2="487.00" y2="141.95" stroke="#262626" stroke-width="0.6"/><text x="487.00" y="146.00" text-anchor="middle" class="tk">-1</text><line x1="507.20" y1="140.35" x2="507.20" y2="141.95" stroke="#262626" stroke-width="0.6"/><text x="507.20" y="146.00" text-anchor="middle" class="tk">0</text><line x1="527.20" y1="140.35" x2="527.20" y2="141.95" stroke="#262626" stroke-width="0.6"/><text x="527.20" y="146.00" text-anchor="middle" class="tk">1</text><text x="512.12" y="152.20" text-anchor="middle" class="tt">PC2</text><text x="0" y="0" text-anchor="middle" class="tt" style="font-size:6.35px" transform="translate(465.65,111.53) rotate(-90)">Chao</text><text x="461.00" y="88.10" class="tag" transform="translate(461.00,0) scale(1.13,1) translate(-461.00,0)">(l)</text><text x="483.25" y="88.30" class="r2" transform="translate(483.25,0) scale(1.05,1) translate(-483.25,0)"><tspan font-style="italic">R</tspan><tspan dy="-1.6" font-size="3">2</tspan><tspan dy="1.6"> &lt; 0.001, </tspan><tspan font-style="italic">p</tspan> = 0.761</text></g><g><circle cx="29.3" cy="175.1" r="1.25" fill="#00B2C6"/><circle cx="34.9" cy="177.1" r="1.25" fill="#00B2C6"/><circle cx="42.9" cy="177.1" r="1.25" fill="#00B2C6"/><circle cx="46.0" cy="177.1" r="1.25" fill="#00B2C6"/><circle cx="51.0" cy="179.2" r="1.25" fill="#00B2C6"/><circle cx="43.5" cy="179.8" r="1.25" fill="#00B2C6"/><circle cx="44.2" cy="181.6" r="1.25" fill="#00B2C6"/><circle cx="45.4" cy="182.3" r="1.25" fill="#00B2C6"/><circle cx="36.4" cy="182.5" r="1.25" fill="#00B2C6"/><circle cx="42.9" cy="184.5" r="1.25" fill="#00B2C6"/><circle cx="46.0" cy="186.0" r="1.25" fill="#00B2C6"/><circle cx="50.3" cy="181.6" r="1.25" fill="#00B2C6"/><circle cx="52.2" cy="184.1" r="1.25" fill="#00B2C6"/><circle cx="54.1" cy="186.0" r="1.25" fill="#00B2C6"/><circle cx="62.1" cy="175.1" r="1.25" fill="#00B2C6"/><circle cx="65.6" cy="177.1" r="1.25" fill="#00B2C6"/><circle cx="72.6" cy="184.5" r="1.25" fill="#00B2C6"/><circle cx="64.3" cy="187.8" r="1.25" fill="#00B2C6"/><circle cx="28.7" cy="180.4" r="1.25" fill="#42A200"/><circle cx="49.1" cy="182.3" r="1.25" fill="#42A200"/><circle cx="49.7" cy="183.5" r="1.25" fill="#42A200"/><circle cx="49.1" cy="188.4" r="1.25" fill="#42A200"/><circle cx="54.7" cy="188.4" r="1.25" fill="#42A200"/><circle cx="80.0" cy="186.0" r="1.25" fill="#42A200"/><circle cx="63.3" cy="182.5" r="1.25" fill="#D055FF"/><circle cx="68.3" cy="182.5" r="1.25" fill="#D055FF"/><circle cx="70.1" cy="184.5" r="1.25" fill="#D055FF"/><circle cx="81.3" cy="186.6" r="1.25" fill="#D055FF"/><circle cx="68.3" cy="187.8" r="1.25" fill="#D055FF"/><circle cx="33.7" cy="191.5" r="1.25" fill="#42A200"/><circle cx="34.3" cy="192.1" r="1.25" fill="#42A200"/><circle cx="38.6" cy="198.3" r="1.25" fill="#42A200"/><circle cx="39.2" cy="199.9" r="1.25" fill="#42A200"/><circle cx="39.6" cy="200.7" r="1.25" fill="#42A200"/><circle cx="44.8" cy="194.6" r="1.25" fill="#42A200"/><circle cx="46.6" cy="193.3" r="1.25" fill="#42A200"/><circle cx="48.5" cy="198.3" r="1.25" fill="#42A200"/><circle cx="49.1" cy="199.5" r="1.25" fill="#42A200"/><circle cx="52.8" cy="194.6" r="1.25" fill="#42A200"/><circle cx="53.4" cy="195.8" r="1.25" fill="#42A200"/><circle cx="57.8" cy="190.0" r="1.25" fill="#42A200"/><circle cx="59.6" cy="194.6" r="1.25" fill="#42A200"/><circle cx="63.3" cy="192.1" r="1.25" fill="#42A200"/><circle cx="68.9" cy="197.7" r="1.25" fill="#42A200"/><circle cx="76.9" cy="193.3" r="1.25" fill="#42A200"/><circle cx="77.5" cy="195.2" r="1.25" fill="#42A200"/><circle cx="68.3" cy="207.3" r="1.25" fill="#42A200"/><circle cx="49.1" cy="197.0" r="1.25" fill="#42A200"/><circle cx="48.5" cy="191.7" r="1.25" fill="#00B2C6"/><circle cx="54.7" cy="191.7" r="1.25" fill="#00B2C6"/><circle cx="60.2" cy="193.7" r="1.25" fill="#00B2C6"/><circle cx="63.3" cy="191.7" r="1.25" fill="#00B2C6"/><circle cx="54.1" cy="203.2" r="1.25" fill="#00B2C6"/><circle cx="54.7" cy="203.8" r="1.25" fill="#00B2C6"/><circle cx="42.3" cy="197.0" r="1.25" fill="#D055FF"/><circle cx="42.9" cy="195.8" r="1.25" fill="#D055FF"/><circle cx="52.8" cy="202.0" r="1.25" fill="#D055FF"/><circle cx="60.9" cy="189.6" r="1.25" fill="#D055FF"/><circle cx="65.8" cy="195.8" r="1.25" fill="#D055FF"/><circle cx="67.0" cy="189.6" r="1.25" fill="#D055FF"/><circle cx="70.1" cy="189.6" r="1.25" fill="#D055FF"/><circle cx="69.5" cy="195.2" r="1.25" fill="#D055FF"/><circle cx="72.6" cy="195.8" r="1.25" fill="#D055FF"/><circle cx="71.4" cy="198.3" r="1.25" fill="#D055FF"/><circle cx="62.7" cy="197.7" r="1.25" fill="#D055FF"/><circle cx="78.2" cy="190.2" r="1.25" fill="#D055FF"/><circle cx="80.0" cy="193.9" r="1.25" fill="#D055FF"/><circle cx="81.9" cy="192.7" r="1.25" fill="#D055FF"/><circle cx="80.6" cy="195.8" r="1.25" fill="#D055FF"/><circle cx="87.4" cy="191.5" r="1.25" fill="#D055FF"/><circle cx="89.3" cy="192.1" r="1.25" fill="#D055FF"/><circle cx="76.9" cy="202.0" r="1.25" fill="#D055FF"/><circle cx="79.4" cy="203.6" r="1.25" fill="#D055FF"/><circle cx="83.1" cy="203.6" r="1.25" fill="#D055FF"/><circle cx="78.2" cy="205.7" r="1.25" fill="#D055FF"/><circle cx="87.4" cy="200.7" r="1.25" fill="#D055FF"/><circle cx="35.5" cy="205.1" r="1.25" fill="#FA4A3D"/><circle cx="36.7" cy="211.0" r="1.25" fill="#FA4A3D"/><circle cx="41.1" cy="209.0" r="1.25" fill="#FA4A3D"/><circle cx="44.2" cy="209.0" r="1.25" fill="#FA4A3D"/><circle cx="46.6" cy="205.1" r="1.25" fill="#FA4A3D"/><circle cx="47.9" cy="209.0" r="1.25" fill="#FA4A3D"/><circle cx="49.1" cy="209.0" r="1.25" fill="#FA4A3D"/><circle cx="51.0" cy="201.4" r="1.25" fill="#FA4A3D"/><circle cx="51.6" cy="202.6" r="1.25" fill="#FA4A3D"/><circle cx="52.2" cy="205.1" r="1.25" fill="#FA4A3D"/><circle cx="53.4" cy="207.5" r="1.25" fill="#FA4A3D"/><circle cx="54.1" cy="208.8" r="1.25" fill="#FA4A3D"/><circle cx="54.7" cy="210.6" r="1.25" fill="#FA4A3D"/><circle cx="55.3" cy="212.5" r="1.25" fill="#FA4A3D"/><circle cx="49.1" cy="213.1" r="1.25" fill="#FA4A3D"/><circle cx="50.3" cy="213.1" r="1.25" fill="#FA4A3D"/><circle cx="46.0" cy="215.0" r="1.25" fill="#FA4A3D"/><circle cx="57.8" cy="207.3" r="1.25" fill="#FA4A3D"/><circle cx="65.2" cy="205.1" r="1.25" fill="#FA4A3D"/><circle cx="69.5" cy="211.0" r="1.25" fill="#FA4A3D"/><circle cx="72.0" cy="207.3" r="1.25" fill="#FA4A3D"/><circle cx="43.5" cy="199.5" r="1.25" fill="#FA4A3D"/><circle cx="73.8" cy="199.5" r="1.25" fill="#FA4A3D"/><polyline points="26.5,190.0 29.2,190.3 31.9,190.6 34.6,190.9 37.3,191.1 40.0,191.4 42.8,191.7 45.5,191.9 48.2,192.1 50.9,192.3 53.6,192.4 56.3,192.5 59.0,192.5 61.7,192.5 64.4,192.5 67.1,192.4 69.8,192.3 72.5,192.2 75.2,192.0 78.0,191.9 80.7,191.7 83.4,191.6 86.1,191.4 88.8,191.2 91.5,191.0" fill="none" stroke="#444" stroke-width="0.85" stroke-dasharray="2.6,2.2"/><polyline points="26.5,198.0 29.2,197.8 31.9,197.5 34.6,197.3 37.3,197.1 40.0,196.8 42.8,196.6 45.5,196.5 48.2,196.3 50.9,196.2 53.6,196.1 56.3,196.1 59.0,196.1 61.7,196.2 64.4,196.2 67.1,196.4 69.8,196.5 72.5,196.7 75.2,196.9 78.0,197.1 80.7,197.3 83.4,197.5 86.1,197.7 88.8,198.0 91.5,198.2" fill="none" stroke="#444" stroke-width="0.85" stroke-dasharray="2.6,2.2"/><polyline points="26.5,194.0 91.5,194.6" fill="none" stroke="#555" stroke-width="0.7" stroke-dasharray="0.9,1.9"/><path d="M26.00,159.00V217.30H92.00" fill="none" stroke="#262626" stroke-width="1.1"/><line x1="24.40" y1="162.10" x2="26.00" y2="162.10" stroke="#262626" stroke-width="0.6"/><text x="23.60" y="163.80" text-anchor="end" class="tk" transform="translate(23.60,0) scale(1.0,1) translate(-23.60,0)">30</text><line x1="24.40" y1="180.55" x2="26.00" y2="180.55" stroke="#262626" stroke-width="0.6"/><text x="23.60" y="182.25" text-anchor="end" class="tk" transform="translate(23.60,0) scale(1.0,1) translate(-23.60,0)">20</text><line x1="24.40" y1="199.00" x2="26.00" y2="199.00" stroke="#262626" stroke-width="0.6"/><text x="23.60" y="200.70" text-anchor="end" class="tk" transform="translate(23.60,0) scale(1.0,1) translate(-23.60,0)">10</text><line x1="38.45" y1="217.30" x2="38.45" y2="218.90" stroke="#262626" stroke-width="0.6"/><text x="38.45" y="222.95" text-anchor="middle" class="tk">-1.0</text><line x1="48.40" y1="217.30" x2="48.40" y2="218.90" stroke="#262626" stroke-width="0.6"/><text x="48.40" y="222.95" text-anchor="middle" class="tk">-0.5</text><line x1="58.35" y1="217.30" x2="58.35" y2="218.90" stroke="#262626" stroke-width="0.6"/><text x="58.35" y="222.95" text-anchor="middle" class="tk">0.0</text><line x1="68.30" y1="217.30" x2="68.30" y2="218.90" stroke="#262626" stroke-width="0.6"/><text x="68.30" y="222.95" text-anchor="middle" class="tk">0.5</text><line x1="78.25" y1="217.30" x2="78.25" y2="218.90" stroke="#262626" stroke-width="0.6"/><text x="78.25" y="222.95" text-anchor="middle" class="tk">1.0</text><line x1="88.20" y1="217.30" x2="88.20" y2="218.90" stroke="#262626" stroke-width="0.6"/><text x="59.00" y="229.30" text-anchor="middle" class="tt">PC1</text><text x="0" y="0" text-anchor="middle" class="tt" style="font-size:6.35px" transform="translate(12.00,188.15) rotate(-90)">Richness</text><text x="4.40" y="164.40" class="tag" transform="translate(4.40,0) scale(1.13,1) translate(-4.40,0)">(m)</text><text x="29.60" y="164.60" class="r2" transform="translate(29.60,0) scale(1.05,1) translate(-29.60,0)"><tspan font-style="italic">R</tspan><tspan dy="-1.6" font-size="3">2</tspan><tspan dy="1.6"> = 0.001, </tspan><tspan font-style="italic">p</tspan> = 0.742</text></g><g><circle cx="143.8" cy="177.1" r="1.25" fill="#00B2C6"/><circle cx="145.7" cy="177.1" r="1.25" fill="#00B2C6"/><circle cx="150.0" cy="177.1" r="1.25" fill="#00B2C6"/><circle cx="154.6" cy="175.1" r="1.25" fill="#00B2C6"/><circle cx="153.1" cy="179.2" r="1.25" fill="#00B2C6"/><circle cx="159.3" cy="177.1" r="1.25" fill="#00B2C6"/><circle cx="169.8" cy="175.1" r="1.25" fill="#00B2C6"/><circle cx="136.8" cy="180.8" r="1.25" fill="#00B2C6"/><circle cx="148.8" cy="180.8" r="1.25" fill="#00B2C6"/><circle cx="153.1" cy="182.9" r="1.25" fill="#00B2C6"/><circle cx="156.8" cy="184.7" r="1.25" fill="#00B2C6"/><circle cx="158.7" cy="182.9" r="1.25" fill="#00B2C6"/><circle cx="165.5" cy="180.8" r="1.25" fill="#00B2C6"/><circle cx="169.2" cy="181.6" r="1.25" fill="#00B2C6"/><circle cx="168.5" cy="182.9" r="1.25" fill="#00B2C6"/><circle cx="170.4" cy="182.3" r="1.25" fill="#00B2C6"/><circle cx="179.7" cy="178.8" r="1.25" fill="#00B2C6"/><circle cx="163.6" cy="186.6" r="1.25" fill="#00B2C6"/><circle cx="153.1" cy="187.8" r="1.25" fill="#00B2C6"/><circle cx="159.9" cy="188.2" r="1.25" fill="#00B2C6"/><circle cx="142.2" cy="180.8" r="1.25" fill="#42A200"/><circle cx="138.3" cy="186.2" r="1.25" fill="#42A200"/><circle cx="142.2" cy="188.2" r="1.25" fill="#42A200"/><circle cx="144.4" cy="182.9" r="1.25" fill="#D055FF"/><circle cx="146.9" cy="182.3" r="1.25" fill="#D055FF"/><circle cx="146.3" cy="184.7" r="1.25" fill="#D055FF"/><circle cx="146.9" cy="186.0" r="1.25" fill="#D055FF"/><circle cx="148.4" cy="182.9" r="1.25" fill="#D055FF"/><circle cx="140.7" cy="188.2" r="1.25" fill="#D055FF"/><circle cx="127.4" cy="190.0" r="1.25" fill="#D055FF"/><circle cx="119.7" cy="195.8" r="1.25" fill="#D055FF"/><circle cx="127.1" cy="195.8" r="1.25" fill="#D055FF"/><circle cx="130.8" cy="197.7" r="1.25" fill="#D055FF"/><circle cx="121.6" cy="199.9" r="1.25" fill="#D055FF"/><circle cx="133.3" cy="201.4" r="1.25" fill="#D055FF"/><circle cx="136.4" cy="189.6" r="1.25" fill="#D055FF"/><circle cx="142.0" cy="191.5" r="1.25" fill="#D055FF"/><circle cx="142.6" cy="193.9" r="1.25" fill="#D055FF"/><circle cx="143.8" cy="195.8" r="1.25" fill="#D055FF"/><circle cx="145.1" cy="195.2" r="1.25" fill="#D055FF"/><circle cx="145.7" cy="192.7" r="1.25" fill="#D055FF"/><circle cx="147.5" cy="201.4" r="1.25" fill="#D055FF"/><circle cx="148.4" cy="203.2" r="1.25" fill="#D055FF"/><circle cx="145.1" cy="205.1" r="1.25" fill="#D055FF"/><circle cx="143.8" cy="206.1" r="1.25" fill="#D055FF"/><circle cx="152.5" cy="203.6" r="1.25" fill="#D055FF"/><circle cx="148.8" cy="190.2" r="1.25" fill="#D055FF"/><circle cx="134.3" cy="191.7" r="1.25" fill="#42A200"/><circle cx="139.5" cy="191.7" r="1.25" fill="#42A200"/><circle cx="128.4" cy="196.2" r="1.25" fill="#42A200"/><circle cx="129.0" cy="197.0" r="1.25" fill="#42A200"/><circle cx="127.7" cy="197.9" r="1.25" fill="#42A200"/><circle cx="133.3" cy="195.8" r="1.25" fill="#42A200"/><circle cx="135.8" cy="200.1" r="1.25" fill="#42A200"/><circle cx="131.5" cy="201.4" r="1.25" fill="#42A200"/><circle cx="140.1" cy="194.6" r="1.25" fill="#42A200"/><circle cx="141.3" cy="194.6" r="1.25" fill="#42A200"/><circle cx="143.2" cy="193.3" r="1.25" fill="#42A200"/><circle cx="150.6" cy="197.9" r="1.25" fill="#42A200"/><circle cx="131.5" cy="207.3" r="1.25" fill="#42A200"/><circle cx="157.4" cy="190.0" r="1.25" fill="#42A200"/><circle cx="156.8" cy="190.9" r="1.25" fill="#42A200"/><circle cx="151.2" cy="195.8" r="1.25" fill="#42A200"/><circle cx="146.3" cy="191.7" r="1.25" fill="#00B2C6"/><circle cx="154.9" cy="191.7" r="1.25" fill="#00B2C6"/><circle cx="159.9" cy="193.9" r="1.25" fill="#00B2C6"/><circle cx="161.1" cy="189.6" r="1.25" fill="#00B2C6"/><circle cx="163.0" cy="190.2" r="1.25" fill="#00B2C6"/><circle cx="167.3" cy="191.7" r="1.25" fill="#00B2C6"/><circle cx="150.4" cy="190.9" r="1.25" fill="#00B2C6"/><circle cx="137.6" cy="199.9" r="1.25" fill="#FA4A3D"/><circle cx="133.3" cy="205.1" r="1.25" fill="#FA4A3D"/><circle cx="135.2" cy="205.1" r="1.25" fill="#FA4A3D"/><circle cx="139.5" cy="204.5" r="1.25" fill="#FA4A3D"/><circle cx="140.7" cy="203.6" r="1.25" fill="#FA4A3D"/><circle cx="138.9" cy="206.9" r="1.25" fill="#FA4A3D"/><circle cx="138.0" cy="208.8" r="1.25" fill="#FA4A3D"/><circle cx="133.3" cy="209.0" r="1.25" fill="#FA4A3D"/><circle cx="135.2" cy="209.4" r="1.25" fill="#FA4A3D"/><circle cx="136.4" cy="211.0" r="1.25" fill="#FA4A3D"/><circle cx="126.9" cy="211.3" r="1.25" fill="#FA4A3D"/><circle cx="132.7" cy="212.5" r="1.25" fill="#FA4A3D"/><circle cx="133.3" cy="214.3" r="1.25" fill="#FA4A3D"/><circle cx="142.6" cy="209.4" r="1.25" fill="#FA4A3D"/><circle cx="143.8" cy="211.0" r="1.25" fill="#FA4A3D"/><circle cx="146.3" cy="212.5" r="1.25" fill="#FA4A3D"/><circle cx="145.7" cy="208.8" r="1.25" fill="#FA4A3D"/><circle cx="150.0" cy="206.9" r="1.25" fill="#FA4A3D"/><circle cx="148.1" cy="208.8" r="1.25" fill="#FA4A3D"/><circle cx="149.4" cy="208.8" r="1.25" fill="#FA4A3D"/><circle cx="154.3" cy="199.9" r="1.25" fill="#FA4A3D"/><circle cx="156.2" cy="203.6" r="1.25" fill="#FA4A3D"/><circle cx="145.1" cy="201.4" r="1.25" fill="#FA4A3D"/><circle cx="141.3" cy="208.2" r="1.25" fill="#FA4A3D"/><polyline points="119.7,199.9 122.2,199.2 124.7,198.5 127.2,197.7 129.7,197.0 132.2,196.2 134.7,195.5 137.1,194.7 139.6,193.8 142.1,193.0 144.6,192.1 147.1,191.1 149.6,190.1 152.1,189.0 154.6,187.8 157.1,186.6 159.6,185.4 162.1,184.1 164.6,182.8 167.0,181.5 169.5,180.1 172.0,178.8 174.5,177.4 177.0,176.1 179.5,174.7" fill="none" stroke="#444" stroke-width="0.85" stroke-dasharray="2.6,2.2"/><polyline points="119.7,208.5 122.2,207.2 124.7,205.9 127.2,204.6 129.7,203.3 132.2,202.1 134.7,200.8 137.1,199.6 139.6,198.4 142.1,197.3 144.6,196.2 147.1,195.1 149.6,194.1 152.1,193.2 154.6,192.3 157.1,191.5 159.6,190.8 162.1,190.0 164.6,189.3 167.0,188.6 169.5,187.9 172.0,187.3 174.5,186.6 177.0,186.0 179.5,185.3" fill="none" stroke="#444" stroke-width="0.85" stroke-dasharray="2.6,2.2"/><polyline points="119.7,204.2 179.5,180.0" fill="none" stroke="#2a2a2a" stroke-width="1.25"/><path d="M116.55,159.00V217.30H182.70" fill="none" stroke="#262626" stroke-width="1.1"/><line x1="114.95" y1="162.10" x2="116.55" y2="162.10" stroke="#262626" stroke-width="0.6"/><text x="114.15" y="163.80" text-anchor="end" class="tk" transform="translate(114.15,0) scale(1.0,1) translate(-114.15,0)">30</text><line x1="114.95" y1="180.55" x2="116.55" y2="180.55" stroke="#262626" stroke-width="0.6"/><text x="114.15" y="182.25" text-anchor="end" class="tk" transform="translate(114.15,0) scale(1.0,1) translate(-114.15,0)">20</text><line x1="114.95" y1="199.00" x2="116.55" y2="199.00" stroke="#262626" stroke-width="0.6"/><text x="114.15" y="200.70" text-anchor="end" class="tk" transform="translate(114.15,0) scale(1.0,1) translate(-114.15,0)">10</text><line x1="124.40" y1="217.30" x2="124.40" y2="218.90" stroke="#262626" stroke-width="0.6"/><text x="124.40" y="222.95" text-anchor="middle" class="tk">-1</text><line x1="144.20" y1="217.30" x2="144.20" y2="218.90" stroke="#262626" stroke-width="0.6"/><text x="144.20" y="222.95" text-anchor="middle" class="tk">0</text><line x1="164.20" y1="217.30" x2="164.20" y2="218.90" stroke="#262626" stroke-width="0.6"/><text x="164.20" y="222.95" text-anchor="middle" class="tk">1</text><text x="149.62" y="229.30" text-anchor="middle" class="tt">PC2</text><text x="0" y="0" text-anchor="middle" class="tt" style="font-size:6.35px" transform="translate(102.55,188.15) rotate(-90)">Richness</text><text x="96.60" y="164.40" class="tag" transform="translate(96.60,0) scale(1.13,1) translate(-96.60,0)">(n)</text><text x="120.15" y="164.60" class="r2" transform="translate(120.15,0) scale(1.05,1) translate(-120.15,0)"><tspan font-style="italic">R</tspan><tspan dy="-1.6" font-size="3">2</tspan><tspan dy="1.6"> = 0.243, </tspan><tspan font-style="italic">p</tspan> &lt; 0.001</text></g><g><circle cx="210.1" cy="170.5" r="1.25" fill="#42A200"/><circle cx="235.4" cy="172.6" r="1.25" fill="#42A200"/><circle cx="236.7" cy="175.8" r="1.25" fill="#42A200"/><circle cx="231.1" cy="178.3" r="1.25" fill="#42A200"/><circle cx="230.5" cy="179.8" r="1.25" fill="#42A200"/><circle cx="233.0" cy="179.8" r="1.25" fill="#42A200"/><circle cx="215.7" cy="179.8" r="1.25" fill="#42A200"/><circle cx="238.5" cy="180.0" r="1.25" fill="#42A200"/><circle cx="226.2" cy="182.9" r="1.25" fill="#42A200"/><circle cx="227.4" cy="184.7" r="1.25" fill="#42A200"/><circle cx="220.6" cy="184.7" r="1.25" fill="#42A200"/><circle cx="220.0" cy="186.0" r="1.25" fill="#42A200"/><circle cx="229.3" cy="184.1" r="1.25" fill="#42A200"/><circle cx="242.2" cy="186.0" r="1.25" fill="#42A200"/><circle cx="249.7" cy="182.9" r="1.25" fill="#42A200"/><circle cx="250.3" cy="184.5" r="1.25" fill="#42A200"/><circle cx="258.3" cy="182.9" r="1.25" fill="#42A200"/><circle cx="261.4" cy="179.2" r="1.25" fill="#42A200"/><circle cx="210.7" cy="172.4" r="1.25" fill="#00B2C6"/><circle cx="216.3" cy="173.8" r="1.25" fill="#00B2C6"/><circle cx="217.9" cy="173.0" r="1.25" fill="#00B2C6"/><circle cx="224.9" cy="173.8" r="1.25" fill="#00B2C6"/><circle cx="227.4" cy="172.1" r="1.25" fill="#00B2C6"/><circle cx="227.4" cy="174.6" r="1.25" fill="#00B2C6"/><circle cx="225.5" cy="176.1" r="1.25" fill="#00B2C6"/><circle cx="224.3" cy="178.3" r="1.25" fill="#00B2C6"/><circle cx="231.7" cy="173.8" r="1.25" fill="#00B2C6"/><circle cx="233.0" cy="175.5" r="1.25" fill="#00B2C6"/><circle cx="233.6" cy="176.7" r="1.25" fill="#00B2C6"/><circle cx="234.8" cy="178.3" r="1.25" fill="#00B2C6"/><circle cx="232.3" cy="180.4" r="1.25" fill="#00B2C6"/><circle cx="229.3" cy="182.0" r="1.25" fill="#00B2C6"/><circle cx="223.7" cy="181.0" r="1.25" fill="#00B2C6"/><circle cx="241.0" cy="173.8" r="1.25" fill="#00B2C6"/><circle cx="246.6" cy="176.1" r="1.25" fill="#00B2C6"/><circle cx="245.3" cy="178.5" r="1.25" fill="#00B2C6"/><circle cx="250.9" cy="178.5" r="1.25" fill="#00B2C6"/><circle cx="254.6" cy="180.0" r="1.25" fill="#00B2C6"/><circle cx="236.7" cy="183.5" r="1.25" fill="#00B2C6"/><circle cx="240.4" cy="184.1" r="1.25" fill="#00B2C6"/><circle cx="241.0" cy="186.0" r="1.25" fill="#00B2C6"/><circle cx="223.1" cy="186.0" r="1.25" fill="#00B2C6"/><circle cx="261.4" cy="184.7" r="1.25" fill="#00B2C6"/><circle cx="243.5" cy="172.6" r="1.25" fill="#D055FF"/><circle cx="249.7" cy="174.2" r="1.25" fill="#D055FF"/><circle cx="252.1" cy="176.1" r="1.25" fill="#D055FF"/><circle cx="260.2" cy="176.7" r="1.25" fill="#D055FF"/><circle cx="223.7" cy="177.9" r="1.25" fill="#D055FF"/><circle cx="244.1" cy="181.6" r="1.25" fill="#D055FF"/><circle cx="245.9" cy="181.0" r="1.25" fill="#D055FF"/><circle cx="251.5" cy="181.0" r="1.25" fill="#D055FF"/><circle cx="262.6" cy="180.4" r="1.25" fill="#D055FF"/><circle cx="263.9" cy="181.0" r="1.25" fill="#D055FF"/><circle cx="270.1" cy="182.3" r="1.25" fill="#D055FF"/><circle cx="247.8" cy="184.1" r="1.25" fill="#D055FF"/><circle cx="256.5" cy="186.0" r="1.25" fill="#D055FF"/><circle cx="261.4" cy="186.0" r="1.25" fill="#D055FF"/><circle cx="264.5" cy="186.6" r="1.25" fill="#D055FF"/><circle cx="232.3" cy="182.9" r="1.25" fill="#FA4A3D"/><circle cx="233.6" cy="184.1" r="1.25" fill="#FA4A3D"/><circle cx="236.7" cy="186.2" r="1.25" fill="#FA4A3D"/><circle cx="255.2" cy="182.0" r="1.25" fill="#FA4A3D"/><circle cx="222.5" cy="182.9" r="1.25" fill="#FA4A3D"/><circle cx="224.3" cy="184.1" r="1.25" fill="#FA4A3D"/><circle cx="233.0" cy="190.5" r="1.25" fill="#FA4A3D"/><circle cx="216.9" cy="194.6" r="1.25" fill="#FA4A3D"/><circle cx="225.8" cy="195.8" r="1.25" fill="#FA4A3D"/><circle cx="228.0" cy="194.6" r="1.25" fill="#FA4A3D"/><circle cx="229.9" cy="197.0" r="1.25" fill="#FA4A3D"/><circle cx="229.3" cy="198.3" r="1.25" fill="#FA4A3D"/><circle cx="235.2" cy="192.7" r="1.25" fill="#FA4A3D"/><circle cx="236.7" cy="194.2" r="1.25" fill="#FA4A3D"/><circle cx="235.4" cy="196.2" r="1.25" fill="#FA4A3D"/><circle cx="222.1" cy="198.9" r="1.25" fill="#FA4A3D"/><circle cx="239.4" cy="197.7" r="1.25" fill="#FA4A3D"/><circle cx="246.6" cy="194.2" r="1.25" fill="#FA4A3D"/><circle cx="236.1" cy="201.4" r="1.25" fill="#FA4A3D"/><circle cx="237.3" cy="205.7" r="1.25" fill="#FA4A3D"/><circle cx="232.7" cy="207.3" r="1.25" fill="#FA4A3D"/><circle cx="230.2" cy="208.8" r="1.25" fill="#FA4A3D"/><circle cx="218.1" cy="207.8" r="1.25" fill="#FA4A3D"/><circle cx="227.8" cy="215.0" r="1.25" fill="#FA4A3D"/><circle cx="251.3" cy="198.6" r="1.25" fill="#FA4A3D"/><circle cx="253.4" cy="197.9" r="1.25" fill="#FA4A3D"/><circle cx="219.4" cy="194.6" r="1.25" fill="#42A200"/><circle cx="249.7" cy="197.9" r="1.25" fill="#42A200"/><circle cx="235.7" cy="189.4" r="1.25" fill="#00B2C6"/><circle cx="262.0" cy="193.0" r="1.25" fill="#D055FF"/><circle cx="264.5" cy="191.5" r="1.25" fill="#D055FF"/><circle cx="268.8" cy="189.6" r="1.25" fill="#D055FF"/><circle cx="259.5" cy="197.7" r="1.25" fill="#D055FF"/><circle cx="247.8" cy="189.0" r="1.25" fill="#D055FF"/><circle cx="252.7" cy="189.0" r="1.25" fill="#D055FF"/><polyline points="208.5,181.3 211.2,181.5 213.8,181.7 216.5,181.9 219.2,182.1 221.8,182.3 224.5,182.5 227.2,182.6 229.8,182.7 232.5,182.8 235.2,182.9 237.8,182.9 240.5,182.8 243.2,182.8 245.8,182.7 248.5,182.5 251.2,182.4 253.8,182.2 256.5,182.0 259.2,181.9 261.8,181.7 264.5,181.4 267.2,181.2 269.8,181.0 272.5,180.8" fill="none" stroke="#444" stroke-width="0.85" stroke-dasharray="2.6,2.2"/><polyline points="208.5,187.7 211.2,187.4 213.8,187.2 216.5,187.0 219.2,186.7 221.8,186.5 224.5,186.3 227.2,186.1 229.8,185.9 232.5,185.8 235.2,185.7 237.8,185.7 240.5,185.7 243.2,185.7 245.8,185.8 248.5,185.8 251.2,185.9 253.8,186.1 256.5,186.2 259.2,186.4 261.8,186.5 264.5,186.7 267.2,186.8 269.8,187.0 272.5,187.2" fill="none" stroke="#444" stroke-width="0.85" stroke-dasharray="2.6,2.2"/><polyline points="208.5,184.5 272.5,184.0" fill="none" stroke="#555" stroke-width="0.7" stroke-dasharray="0.9,1.9"/><path d="M207.45,159.00V217.30H273.10" fill="none" stroke="#262626" stroke-width="1.1"/><line x1="205.85" y1="165.90" x2="207.45" y2="165.90" stroke="#262626" stroke-width="0.6"/><text x="205.05" y="167.60" text-anchor="end" class="tk" transform="translate(205.05,0) scale(1.0,1) translate(-205.05,0)">3</text><line x1="205.85" y1="185.80" x2="207.45" y2="185.80" stroke="#262626" stroke-width="0.6"/><text x="205.05" y="187.50" text-anchor="end" class="tk" transform="translate(205.05,0) scale(1.0,1) translate(-205.05,0)">2</text><line x1="205.85" y1="205.70" x2="207.45" y2="205.70" stroke="#262626" stroke-width="0.6"/><text x="205.05" y="207.40" text-anchor="end" class="tk" transform="translate(205.05,0) scale(1.0,1) translate(-205.05,0)">1</text><line x1="215.30" y1="217.30" x2="215.30" y2="218.90" stroke="#262626" stroke-width="0.6"/><text x="215.30" y="222.95" text-anchor="middle" class="tk">-1.0</text><line x1="225.00" y1="217.30" x2="225.00" y2="218.90" stroke="#262626" stroke-width="0.6"/><text x="225.00" y="222.95" text-anchor="middle" class="tk">-0.5</text><line x1="234.70" y1="217.30" x2="234.70" y2="218.90" stroke="#262626" stroke-width="0.6"/><text x="234.70" y="222.95" text-anchor="middle" class="tk">0.0</text><line x1="244.40" y1="217.30" x2="244.40" y2="218.90" stroke="#262626" stroke-width="0.6"/><text x="244.40" y="222.95" text-anchor="middle" class="tk">0.5</text><line x1="254.10" y1="217.30" x2="254.10" y2="218.90" stroke="#262626" stroke-width="0.6"/><text x="254.10" y="222.95" text-anchor="middle" class="tk">1.0</text><line x1="263.80" y1="217.30" x2="263.80" y2="218.90" stroke="#262626" stroke-width="0.6"/><text x="240.28" y="229.30" text-anchor="middle" class="tt">PC1</text><text x="0" y="0" text-anchor="middle" class="tt" style="font-size:6.35px" transform="translate(193.45,188.15) rotate(-90)">Shannon</text><text x="186.00" y="164.40" class="tag" transform="translate(186.00,0) scale(1.13,1) translate(-186.00,0)">(o)</text><text x="211.05" y="164.60" class="r2" transform="translate(211.05,0) scale(1.05,1) translate(-211.05,0)"><tspan font-style="italic">R</tspan><tspan dy="-1.6" font-size="3">2</tspan><tspan dy="1.6"> &lt; 0.001, </tspan><tspan font-style="italic">p</tspan> = 0.884</text></g><g><circle cx="308.7" cy="173.8" r="1.25" fill="#D055FF"/><circle cx="301.3" cy="178.3" r="1.25" fill="#D055FF"/><circle cx="302.9" cy="181.0" r="1.25" fill="#D055FF"/><circle cx="302.6" cy="184.1" r="1.25" fill="#D055FF"/><circle cx="308.7" cy="184.1" r="1.25" fill="#D055FF"/><circle cx="312.5" cy="181.0" r="1.25" fill="#D055FF"/><circle cx="314.9" cy="182.9" r="1.25" fill="#D055FF"/><circle cx="318.6" cy="176.3" r="1.25" fill="#D055FF"/><circle cx="323.6" cy="180.4" r="1.25" fill="#D055FF"/><circle cx="324.8" cy="181.0" r="1.25" fill="#D055FF"/><circle cx="326.1" cy="181.0" r="1.25" fill="#D055FF"/><circle cx="327.9" cy="180.4" r="1.25" fill="#D055FF"/><circle cx="328.5" cy="182.3" r="1.25" fill="#D055FF"/><circle cx="329.8" cy="181.0" r="1.25" fill="#D055FF"/><circle cx="330.4" cy="175.5" r="1.25" fill="#D055FF"/><circle cx="331.0" cy="174.2" r="1.25" fill="#D055FF"/><circle cx="323.0" cy="182.9" r="1.25" fill="#D055FF"/><circle cx="321.7" cy="184.1" r="1.25" fill="#D055FF"/><circle cx="325.4" cy="186.0" r="1.25" fill="#D055FF"/><circle cx="326.7" cy="187.2" r="1.25" fill="#D055FF"/><circle cx="327.9" cy="187.8" r="1.25" fill="#D055FF"/><circle cx="319.3" cy="172.4" r="1.25" fill="#42A200"/><circle cx="324.0" cy="170.9" r="1.25" fill="#42A200"/><circle cx="319.9" cy="179.2" r="1.25" fill="#42A200"/><circle cx="310.0" cy="182.3" r="1.25" fill="#42A200"/><circle cx="310.6" cy="184.1" r="1.25" fill="#42A200"/><circle cx="315.5" cy="186.0" r="1.25" fill="#42A200"/><circle cx="316.8" cy="186.6" r="1.25" fill="#42A200"/><circle cx="321.7" cy="185.3" r="1.25" fill="#42A200"/><circle cx="324.8" cy="184.7" r="1.25" fill="#42A200"/><circle cx="329.8" cy="177.9" r="1.25" fill="#42A200"/><circle cx="332.9" cy="187.8" r="1.25" fill="#42A200"/><circle cx="336.6" cy="179.8" r="1.25" fill="#42A200"/><circle cx="339.7" cy="180.4" r="1.25" fill="#42A200"/><circle cx="325.4" cy="174.2" r="1.25" fill="#00B2C6"/><circle cx="325.2" cy="176.1" r="1.25" fill="#00B2C6"/><circle cx="334.1" cy="173.6" r="1.25" fill="#00B2C6"/><circle cx="336.3" cy="173.0" r="1.25" fill="#00B2C6"/><circle cx="340.3" cy="171.7" r="1.25" fill="#00B2C6"/><circle cx="346.5" cy="173.0" r="1.25" fill="#00B2C6"/><circle cx="350.8" cy="172.4" r="1.25" fill="#00B2C6"/><circle cx="350.2" cy="174.8" r="1.25" fill="#00B2C6"/><circle cx="360.7" cy="174.6" r="1.25" fill="#00B2C6"/><circle cx="334.7" cy="177.3" r="1.25" fill="#00B2C6"/><circle cx="336.6" cy="178.5" r="1.25" fill="#00B2C6"/><circle cx="339.0" cy="177.9" r="1.25" fill="#00B2C6"/><circle cx="340.9" cy="178.5" r="1.25" fill="#00B2C6"/><circle cx="344.6" cy="178.5" r="1.25" fill="#00B2C6"/><circle cx="343.4" cy="179.5" r="1.25" fill="#00B2C6"/><circle cx="348.9" cy="181.0" r="1.25" fill="#00B2C6"/><circle cx="349.5" cy="182.0" r="1.25" fill="#00B2C6"/><circle cx="342.7" cy="184.1" r="1.25" fill="#00B2C6"/><circle cx="346.5" cy="184.1" r="1.25" fill="#00B2C6"/><circle cx="337.8" cy="182.9" r="1.25" fill="#00B2C6"/><circle cx="318.6" cy="184.1" r="1.25" fill="#FA4A3D"/><circle cx="335.3" cy="182.0" r="1.25" fill="#FA4A3D"/><circle cx="337.2" cy="186.6" r="1.25" fill="#FA4A3D"/><circle cx="320.5" cy="190.5" r="1.25" fill="#FA4A3D"/><circle cx="319.9" cy="192.1" r="1.25" fill="#FA4A3D"/><circle cx="314.3" cy="194.6" r="1.25" fill="#FA4A3D"/><circle cx="315.5" cy="195.8" r="1.25" fill="#FA4A3D"/><circle cx="317.4" cy="198.3" r="1.25" fill="#FA4A3D"/><circle cx="318.6" cy="198.6" r="1.25" fill="#FA4A3D"/><circle cx="313.7" cy="198.6" r="1.25" fill="#FA4A3D"/><circle cx="323.6" cy="196.7" r="1.25" fill="#FA4A3D"/><circle cx="327.3" cy="194.2" r="1.25" fill="#FA4A3D"/><circle cx="330.4" cy="195.8" r="1.25" fill="#FA4A3D"/><circle cx="331.0" cy="197.4" r="1.25" fill="#FA4A3D"/><circle cx="329.1" cy="197.7" r="1.25" fill="#FA4A3D"/><circle cx="325.4" cy="201.1" r="1.25" fill="#FA4A3D"/><circle cx="314.9" cy="205.1" r="1.25" fill="#FA4A3D"/><circle cx="314.3" cy="206.9" r="1.25" fill="#FA4A3D"/><circle cx="308.1" cy="207.8" r="1.25" fill="#FA4A3D"/><circle cx="327.3" cy="208.5" r="1.25" fill="#FA4A3D"/><circle cx="314.1" cy="214.7" r="1.25" fill="#FA4A3D"/><circle cx="317.4" cy="194.6" r="1.25" fill="#42A200"/><circle cx="312.8" cy="197.9" r="1.25" fill="#42A200"/><circle cx="328.5" cy="189.6" r="1.25" fill="#D055FF"/><circle cx="329.4" cy="191.5" r="1.25" fill="#D055FF"/><circle cx="333.5" cy="193.0" r="1.25" fill="#D055FF"/><circle cx="324.8" cy="197.7" r="1.25" fill="#D055FF"/><circle cx="334.1" cy="189.6" r="1.25" fill="#00B2C6"/><polyline points="300.7,188.1 303.2,187.6 305.7,187.2 308.2,186.7 310.7,186.2 313.2,185.7 315.6,185.2 318.1,184.7 320.6,184.1 323.1,183.5 325.6,182.9 328.1,182.3 330.6,181.6 333.1,180.8 335.6,180.0 338.1,179.1 340.6,178.2 343.1,177.2 345.6,176.2 348.0,175.2 350.5,174.2 353.0,173.1 355.5,172.1 358.0,171.1 360.5,170.0" fill="none" stroke="#444" stroke-width="0.85" stroke-dasharray="2.6,2.2"/><polyline points="300.7,195.5 303.2,194.6 305.7,193.6 308.2,192.7 310.7,191.8 313.2,190.9 315.6,190.0 318.1,189.1 320.6,188.3 323.1,187.5 325.6,186.7 328.1,185.9 330.6,185.2 333.1,184.6 335.6,184.0 338.1,183.5 340.6,183.0 343.1,182.6 345.6,182.2 348.0,181.8 350.5,181.4 353.0,181.1 355.5,180.7 358.0,180.3 360.5,180.0" fill="none" stroke="#444" stroke-width="0.85" stroke-dasharray="2.6,2.2"/><polyline points="300.7,191.8 360.5,175.0" fill="none" stroke="#2a2a2a" stroke-width="1.25"/><path d="M297.95,159.00V217.30H363.70" fill="none" stroke="#262626" stroke-width="1.1"/><line x1="296.35" y1="165.90" x2="297.95" y2="165.90" stroke="#262626" stroke-width="0.6"/><text x="295.55" y="167.60" text-anchor="end" class="tk" transform="translate(295.55,0) scale(1.0,1) translate(-295.55,0)">3</text><line x1="296.35" y1="185.80" x2="297.95" y2="185.80" stroke="#262626" stroke-width="0.6"/><text x="295.55" y="187.50" text-anchor="end" class="tk" transform="translate(295.55,0) scale(1.0,1) translate(-295.55,0)">2</text><line x1="296.35" y1="205.70" x2="297.95" y2="205.70" stroke="#262626" stroke-width="0.6"/><text x="295.55" y="207.40" text-anchor="end" class="tk" transform="translate(295.55,0) scale(1.0,1) translate(-295.55,0)">1</text><line x1="305.40" y1="217.30" x2="305.40" y2="218.90" stroke="#262626" stroke-width="0.6"/><text x="305.40" y="222.95" text-anchor="middle" class="tk">-1</text><line x1="325.40" y1="217.30" x2="325.40" y2="218.90" stroke="#262626" stroke-width="0.6"/><text x="325.40" y="222.95" text-anchor="middle" class="tk">0</text><line x1="345.50" y1="217.30" x2="345.50" y2="218.90" stroke="#262626" stroke-width="0.6"/><text x="345.50" y="222.95" text-anchor="middle" class="tk">1</text><text x="330.82" y="229.30" text-anchor="middle" class="tt">PC2</text><text x="0" y="0" text-anchor="middle" class="tt" style="font-size:6.35px" transform="translate(283.95,188.15) rotate(-90)">Shannon</text><text x="277.00" y="164.40" class="tag" transform="translate(277.00,0) scale(1.13,1) translate(-277.00,0)">(p)</text><text x="301.55" y="164.60" class="r2" transform="translate(301.55,0) scale(1.05,1) translate(-301.55,0)"><tspan font-style="italic">R</tspan><tspan dy="-1.6" font-size="3">2</tspan><tspan dy="1.6"> = 0.133, </tspan><tspan font-style="italic">p</tspan> &lt; 0.001</text></g><g><circle cx="444.4" cy="166.4" r="1.25" fill="#D055FF"/><circle cx="431.7" cy="173.8" r="1.25" fill="#D055FF"/><circle cx="431.3" cy="182.9" r="1.25" fill="#D055FF"/><circle cx="433.8" cy="187.0" r="1.25" fill="#D055FF"/><circle cx="423.6" cy="188.7" r="1.25" fill="#D055FF"/><circle cx="413.7" cy="181.3" r="1.25" fill="#00B2C6"/><circle cx="428.6" cy="188.7" r="1.25" fill="#00B2C6"/><circle cx="392.1" cy="193.7" r="1.25" fill="#00B2C6"/><circle cx="397.7" cy="197.7" r="1.25" fill="#00B2C6"/><circle cx="398.3" cy="198.9" r="1.25" fill="#00B2C6"/><circle cx="405.1" cy="191.5" r="1.25" fill="#00B2C6"/><circle cx="406.3" cy="192.1" r="1.25" fill="#00B2C6"/><circle cx="405.7" cy="198.6" r="1.25" fill="#00B2C6"/><circle cx="407.5" cy="198.9" r="1.25" fill="#00B2C6"/><circle cx="409.4" cy="198.3" r="1.25" fill="#00B2C6"/><circle cx="408.8" cy="197.0" r="1.25" fill="#00B2C6"/><circle cx="411.9" cy="200.7" r="1.25" fill="#00B2C6"/><circle cx="413.1" cy="193.7" r="1.25" fill="#00B2C6"/><circle cx="414.3" cy="198.9" r="1.25" fill="#00B2C6"/><circle cx="416.2" cy="191.5" r="1.25" fill="#00B2C6"/><circle cx="418.1" cy="203.2" r="1.25" fill="#00B2C6"/><circle cx="417.4" cy="204.5" r="1.25" fill="#00B2C6"/><circle cx="417.2" cy="208.8" r="1.25" fill="#00B2C6"/><circle cx="426.1" cy="194.6" r="1.25" fill="#00B2C6"/><circle cx="426.7" cy="201.4" r="1.25" fill="#00B2C6"/><circle cx="427.3" cy="204.5" r="1.25" fill="#00B2C6"/><circle cx="435.4" cy="195.8" r="1.25" fill="#00B2C6"/><circle cx="442.2" cy="192.7" r="1.25" fill="#00B2C6"/><circle cx="428.6" cy="189.6" r="1.25" fill="#00B2C6"/><circle cx="408.8" cy="203.8" r="1.25" fill="#00B2C6"/><circle cx="410.6" cy="206.3" r="1.25" fill="#00B2C6"/><circle cx="400.7" cy="191.2" r="1.25" fill="#42A200"/><circle cx="391.5" cy="198.6" r="1.25" fill="#42A200"/><circle cx="396.4" cy="202.8" r="1.25" fill="#42A200"/><circle cx="402.6" cy="203.6" r="1.25" fill="#42A200"/><circle cx="402.0" cy="204.5" r="1.25" fill="#42A200"/><circle cx="406.3" cy="201.4" r="1.25" fill="#42A200"/><circle cx="407.5" cy="200.7" r="1.25" fill="#42A200"/><circle cx="408.8" cy="205.1" r="1.25" fill="#42A200"/><circle cx="411.3" cy="206.3" r="1.25" fill="#42A200"/><circle cx="411.9" cy="207.5" r="1.25" fill="#42A200"/><circle cx="411.3" cy="194.6" r="1.25" fill="#42A200"/><circle cx="412.5" cy="193.9" r="1.25" fill="#42A200"/><circle cx="416.8" cy="197.7" r="1.25" fill="#42A200"/><circle cx="418.1" cy="195.8" r="1.25" fill="#42A200"/><circle cx="415.0" cy="203.8" r="1.25" fill="#42A200"/><circle cx="416.8" cy="202.6" r="1.25" fill="#42A200"/><circle cx="419.9" cy="201.4" r="1.25" fill="#42A200"/><circle cx="421.1" cy="202.0" r="1.25" fill="#42A200"/><circle cx="423.0" cy="201.4" r="1.25" fill="#42A200"/><circle cx="424.9" cy="199.5" r="1.25" fill="#42A200"/><circle cx="431.7" cy="203.2" r="1.25" fill="#42A200"/><circle cx="439.7" cy="202.8" r="1.25" fill="#42A200"/><circle cx="440.3" cy="203.8" r="1.25" fill="#42A200"/><circle cx="401.4" cy="208.2" r="1.25" fill="#42A200"/><circle cx="431.0" cy="209.0" r="1.25" fill="#42A200"/><circle cx="423.6" cy="189.0" r="1.25" fill="#D055FF"/><circle cx="444.6" cy="190.0" r="1.25" fill="#D055FF"/><circle cx="425.5" cy="194.6" r="1.25" fill="#D055FF"/><circle cx="426.1" cy="200.1" r="1.25" fill="#D055FF"/><circle cx="428.6" cy="198.9" r="1.25" fill="#D055FF"/><circle cx="429.8" cy="201.4" r="1.25" fill="#D055FF"/><circle cx="431.7" cy="199.9" r="1.25" fill="#D055FF"/><circle cx="433.5" cy="202.6" r="1.25" fill="#D055FF"/><circle cx="434.1" cy="204.5" r="1.25" fill="#D055FF"/><circle cx="435.4" cy="205.7" r="1.25" fill="#D055FF"/><circle cx="440.9" cy="200.4" r="1.25" fill="#D055FF"/><circle cx="442.2" cy="201.1" r="1.25" fill="#D055FF"/><circle cx="445.3" cy="201.4" r="1.25" fill="#D055FF"/><circle cx="446.5" cy="202.0" r="1.25" fill="#D055FF"/><circle cx="443.4" cy="205.1" r="1.25" fill="#D055FF"/><circle cx="442.8" cy="206.9" r="1.25" fill="#D055FF"/><circle cx="443.4" cy="208.8" r="1.25" fill="#D055FF"/><circle cx="440.9" cy="209.4" r="1.25" fill="#D055FF"/><circle cx="439.7" cy="208.8" r="1.25" fill="#D055FF"/><circle cx="450.8" cy="208.2" r="1.25" fill="#D055FF"/><circle cx="445.9" cy="209.0" r="1.25" fill="#D055FF"/><circle cx="452.1" cy="199.1" r="1.25" fill="#D055FF"/><circle cx="428.6" cy="204.5" r="1.25" fill="#D055FF"/><circle cx="405.7" cy="203.8" r="1.25" fill="#D055FF"/><circle cx="397.7" cy="206.3" r="1.25" fill="#FA4A3D"/><circle cx="403.8" cy="210.0" r="1.25" fill="#FA4A3D"/><circle cx="398.9" cy="213.5" r="1.25" fill="#FA4A3D"/><circle cx="406.9" cy="212.5" r="1.25" fill="#FA4A3D"/><circle cx="408.8" cy="210.6" r="1.25" fill="#FA4A3D"/><circle cx="409.4" cy="212.5" r="1.25" fill="#FA4A3D"/><circle cx="410.6" cy="210.6" r="1.25" fill="#FA4A3D"/><circle cx="411.9" cy="210.0" r="1.25" fill="#FA4A3D"/><circle cx="408.8" cy="215.0" r="1.25" fill="#FA4A3D"/><circle cx="411.3" cy="215.0" r="1.25" fill="#FA4A3D"/><circle cx="413.7" cy="214.3" r="1.25" fill="#FA4A3D"/><circle cx="418.7" cy="214.3" r="1.25" fill="#FA4A3D"/><circle cx="418.1" cy="211.9" r="1.25" fill="#FA4A3D"/><circle cx="414.3" cy="207.5" r="1.25" fill="#FA4A3D"/><circle cx="415.0" cy="201.4" r="1.25" fill="#FA4A3D"/><circle cx="427.9" cy="209.8" r="1.25" fill="#FA4A3D"/><circle cx="432.3" cy="213.5" r="1.25" fill="#FA4A3D"/><circle cx="435.0" cy="208.8" r="1.25" fill="#FA4A3D"/><circle cx="413.7" cy="205.1" r="1.25" fill="#FA4A3D"/><circle cx="420.5" cy="203.8" r="1.25" fill="#FA4A3D"/><polyline points="390.5,197.3 393.1,197.5 395.8,197.7 398.4,197.9 401.1,198.1 403.7,198.3 406.4,198.5 409.0,198.7 411.7,198.8 414.3,198.9 417.0,199.0 419.6,199.1 422.2,199.1 424.9,199.1 427.5,199.0 430.2,198.9 432.8,198.8 435.5,198.6 438.1,198.4 440.8,198.2 443.4,198.0 446.1,197.8 448.7,197.6 451.4,197.3 454.0,197.1" fill="none" stroke="#444" stroke-width="0.85" stroke-dasharray="2.6,2.2"/><polyline points="390.5,203.7 393.1,203.5 395.8,203.3 398.4,203.1 401.1,202.9 403.7,202.7 406.4,202.5 409.0,202.3 411.7,202.2 414.3,202.1 417.0,202.0 419.6,201.9 422.2,201.9 424.9,201.9 427.5,202.0 430.2,202.1 432.8,202.2 435.5,202.4 438.1,202.6 440.8,202.8 443.4,203.0 446.1,203.2 448.7,203.4 451.4,203.7 454.0,203.9" fill="none" stroke="#444" stroke-width="0.85" stroke-dasharray="2.6,2.2"/><polyline points="390.5,200.5 454.0,200.5" fill="none" stroke="#555" stroke-width="0.7" stroke-dasharray="0.9,1.9"/><path d="M388.75,159.00V217.30H455.00" fill="none" stroke="#262626" stroke-width="1.1"/><line x1="387.15" y1="167.20" x2="388.75" y2="167.20" stroke="#262626" stroke-width="0.6"/><text x="386.35" y="168.90" text-anchor="end" class="tk" transform="translate(386.35,0) scale(1.0,1) translate(-386.35,0)">60</text><line x1="387.15" y1="183.70" x2="388.75" y2="183.70" stroke="#262626" stroke-width="0.6"/><text x="386.35" y="185.40" text-anchor="end" class="tk" transform="translate(386.35,0) scale(1.0,1) translate(-386.35,0)">40</text><line x1="387.15" y1="200.10" x2="388.75" y2="200.10" stroke="#262626" stroke-width="0.6"/><text x="386.35" y="201.80" text-anchor="end" class="tk" transform="translate(386.35,0) scale(1.0,1) translate(-386.35,0)">20</text><line x1="387.15" y1="216.50" x2="388.75" y2="216.50" stroke="#262626" stroke-width="0.6"/><text x="386.35" y="218.20" text-anchor="end" class="tk" transform="translate(386.35,0) scale(1.0,1) translate(-386.35,0)">0</text><line x1="402.20" y1="217.30" x2="402.20" y2="218.90" stroke="#262626" stroke-width="0.6"/><text x="402.20" y="222.95" text-anchor="middle" class="tk">-1.0</text><line x1="411.75" y1="217.30" x2="411.75" y2="218.90" stroke="#262626" stroke-width="0.6"/><text x="411.75" y="222.95" text-anchor="middle" class="tk">-0.5</text><line x1="421.30" y1="217.30" x2="421.30" y2="218.90" stroke="#262626" stroke-width="0.6"/><text x="421.30" y="222.95" text-anchor="middle" class="tk">0.0</text><line x1="430.85" y1="217.30" x2="430.85" y2="218.90" stroke="#262626" stroke-width="0.6"/><text x="430.85" y="222.95" text-anchor="middle" class="tk">0.5</text><line x1="440.40" y1="217.30" x2="440.40" y2="218.90" stroke="#262626" stroke-width="0.6"/><text x="440.40" y="222.95" text-anchor="middle" class="tk">1.0</text><line x1="449.95" y1="217.30" x2="449.95" y2="218.90" stroke="#262626" stroke-width="0.6"/><text x="421.88" y="229.30" text-anchor="middle" class="tt">PC1</text><text x="0" y="0" text-anchor="middle" class="tt" style="font-size:6.35px" transform="translate(374.75,188.15) rotate(-90)">Chao</text><text x="369.40" y="164.40" class="tag" transform="translate(369.40,0) scale(1.13,1) translate(-369.40,0)">(q)</text><text x="392.35" y="164.60" class="r2" transform="translate(392.35,0) scale(1.05,1) translate(-392.35,0)"><tspan font-style="italic">R</tspan><tspan dy="-1.6" font-size="3">2</tspan><tspan dy="1.6"> &lt; 0.001, </tspan><tspan font-style="italic">p</tspan> = 0.337</text></g><g><circle cx="510.2" cy="166.4" r="1.25" fill="#D055FF"/><circle cx="503.7" cy="173.8" r="1.25" fill="#D055FF"/><circle cx="512.6" cy="182.9" r="1.25" fill="#D055FF"/><circle cx="509.3" cy="187.0" r="1.25" fill="#D055FF"/><circle cx="490.4" cy="188.7" r="1.25" fill="#D055FF"/><circle cx="515.5" cy="181.3" r="1.25" fill="#00B2C6"/><circle cx="513.0" cy="188.7" r="1.25" fill="#00B2C6"/><circle cx="490.4" cy="189.0" r="1.25" fill="#D055FF"/><circle cx="509.3" cy="190.2" r="1.25" fill="#D055FF"/><circle cx="482.7" cy="203.6" r="1.25" fill="#D055FF"/><circle cx="484.6" cy="204.8" r="1.25" fill="#D055FF"/><circle cx="484.6" cy="208.2" r="1.25" fill="#D055FF"/><circle cx="490.1" cy="203.8" r="1.25" fill="#D055FF"/><circle cx="491.4" cy="202.4" r="1.25" fill="#D055FF"/><circle cx="494.5" cy="199.9" r="1.25" fill="#D055FF"/><circle cx="497.5" cy="198.3" r="1.25" fill="#D055FF"/><circle cx="504.3" cy="199.5" r="1.25" fill="#D055FF"/><circle cx="505.6" cy="200.7" r="1.25" fill="#D055FF"/><circle cx="506.8" cy="201.4" r="1.25" fill="#D055FF"/><circle cx="508.1" cy="201.4" r="1.25" fill="#D055FF"/><circle cx="509.3" cy="201.1" r="1.25" fill="#D055FF"/><circle cx="508.1" cy="197.9" r="1.25" fill="#D055FF"/><circle cx="510.5" cy="203.8" r="1.25" fill="#D055FF"/><circle cx="511.1" cy="205.1" r="1.25" fill="#D055FF"/><circle cx="514.9" cy="204.5" r="1.25" fill="#D055FF"/><circle cx="510.5" cy="208.5" r="1.25" fill="#D055FF"/><circle cx="506.8" cy="209.8" r="1.25" fill="#D055FF"/><circle cx="508.7" cy="210.6" r="1.25" fill="#D055FF"/><circle cx="515.5" cy="208.8" r="1.25" fill="#D055FF"/><circle cx="512.4" cy="211.0" r="1.25" fill="#D055FF"/><circle cx="498.8" cy="190.9" r="1.25" fill="#42A200"/><circle cx="506.0" cy="194.9" r="1.25" fill="#42A200"/><circle cx="511.8" cy="193.9" r="1.25" fill="#42A200"/><circle cx="500.6" cy="198.6" r="1.25" fill="#42A200"/><circle cx="492.0" cy="201.1" r="1.25" fill="#42A200"/><circle cx="491.4" cy="202.6" r="1.25" fill="#42A200"/><circle cx="497.5" cy="202.6" r="1.25" fill="#42A200"/><circle cx="499.4" cy="202.0" r="1.25" fill="#42A200"/><circle cx="501.3" cy="202.0" r="1.25" fill="#42A200"/><circle cx="502.5" cy="203.8" r="1.25" fill="#42A200"/><circle cx="504.3" cy="204.5" r="1.25" fill="#42A200"/><circle cx="508.7" cy="204.8" r="1.25" fill="#42A200"/><circle cx="513.0" cy="206.3" r="1.25" fill="#42A200"/><circle cx="494.5" cy="207.5" r="1.25" fill="#42A200"/><circle cx="493.8" cy="208.8" r="1.25" fill="#42A200"/><circle cx="517.3" cy="201.4" r="1.25" fill="#42A200"/><circle cx="519.8" cy="201.4" r="1.25" fill="#42A200"/><circle cx="513.0" cy="189.0" r="1.25" fill="#00B2C6"/><circle cx="519.8" cy="191.7" r="1.25" fill="#00B2C6"/><circle cx="524.7" cy="193.0" r="1.25" fill="#00B2C6"/><circle cx="531.5" cy="191.5" r="1.25" fill="#00B2C6"/><circle cx="532.8" cy="192.5" r="1.25" fill="#00B2C6"/><circle cx="542.7" cy="193.7" r="1.25" fill="#00B2C6"/><circle cx="517.3" cy="195.2" r="1.25" fill="#00B2C6"/><circle cx="516.1" cy="197.7" r="1.25" fill="#00B2C6"/><circle cx="515.5" cy="199.5" r="1.25" fill="#00B2C6"/><circle cx="518.6" cy="197.7" r="1.25" fill="#00B2C6"/><circle cx="521.0" cy="198.9" r="1.25" fill="#00B2C6"/><circle cx="524.1" cy="196.4" r="1.25" fill="#00B2C6"/><circle cx="526.6" cy="197.0" r="1.25" fill="#00B2C6"/><circle cx="527.2" cy="198.9" r="1.25" fill="#00B2C6"/><circle cx="527.8" cy="200.7" r="1.25" fill="#00B2C6"/><circle cx="530.9" cy="199.5" r="1.25" fill="#00B2C6"/><circle cx="532.8" cy="199.5" r="1.25" fill="#00B2C6"/><circle cx="522.3" cy="201.4" r="1.25" fill="#00B2C6"/><circle cx="526.0" cy="202.6" r="1.25" fill="#00B2C6"/><circle cx="529.7" cy="203.8" r="1.25" fill="#00B2C6"/><circle cx="517.9" cy="204.5" r="1.25" fill="#00B2C6"/><circle cx="509.3" cy="192.7" r="1.25" fill="#00B2C6"/><circle cx="512.4" cy="198.3" r="1.25" fill="#00B2C6"/><circle cx="496.3" cy="197.0" r="1.25" fill="#FA4A3D"/><circle cx="501.9" cy="200.7" r="1.25" fill="#FA4A3D"/><circle cx="498.2" cy="206.3" r="1.25" fill="#FA4A3D"/><circle cx="500.0" cy="205.1" r="1.25" fill="#FA4A3D"/><circle cx="502.5" cy="204.5" r="1.25" fill="#FA4A3D"/><circle cx="501.9" cy="207.5" r="1.25" fill="#FA4A3D"/><circle cx="497.5" cy="209.4" r="1.25" fill="#FA4A3D"/><circle cx="505.0" cy="209.4" r="1.25" fill="#FA4A3D"/><circle cx="506.8" cy="207.5" r="1.25" fill="#FA4A3D"/><circle cx="508.7" cy="212.5" r="1.25" fill="#FA4A3D"/><circle cx="512.4" cy="206.3" r="1.25" fill="#FA4A3D"/><circle cx="489.5" cy="213.1" r="1.25" fill="#FA4A3D"/><circle cx="495.7" cy="214.3" r="1.25" fill="#FA4A3D"/><circle cx="496.9" cy="213.1" r="1.25" fill="#FA4A3D"/><circle cx="498.2" cy="211.9" r="1.25" fill="#FA4A3D"/><circle cx="500.0" cy="212.5" r="1.25" fill="#FA4A3D"/><circle cx="502.5" cy="211.3" r="1.25" fill="#FA4A3D"/><circle cx="505.6" cy="203.8" r="1.25" fill="#FA4A3D"/><circle cx="503.7" cy="201.4" r="1.25" fill="#FA4A3D"/><polyline points="482.7,203.6 485.2,203.3 487.6,203.0 490.1,202.6 492.6,202.3 495.0,201.9 497.5,201.5 500.0,201.1 502.4,200.6 504.9,200.1 507.4,199.6 509.8,199.0 512.3,198.3 514.8,197.6 517.2,196.9 519.7,196.1 522.2,195.4 524.6,194.6 527.1,193.9 529.6,193.1 532.0,192.3 534.5,191.5 537.0,190.7 539.4,189.9 541.9,189.1" fill="none" stroke="#444" stroke-width="0.85" stroke-dasharray="2.6,2.2"/><polyline points="482.7,208.8 485.2,208.1 487.6,207.4 490.1,206.7 492.6,206.0 495.0,205.3 497.5,204.7 500.0,204.0 502.4,203.5 504.9,202.9 507.4,202.4 509.8,202.0 512.3,201.6 514.8,201.2 517.2,200.9 519.7,200.6 522.2,200.3 524.6,200.1 527.1,199.8 529.6,199.5 532.0,199.3 534.5,199.0 537.0,198.8 539.4,198.5 541.9,198.3" fill="none" stroke="#444" stroke-width="0.85" stroke-dasharray="2.6,2.2"/><polyline points="482.7,206.2 541.9,193.7" fill="none" stroke="#2a2a2a" stroke-width="1.25"/><path d="M479.65,159.00V217.30H544.60" fill="none" stroke="#262626" stroke-width="1.1"/><line x1="478.05" y1="167.20" x2="479.65" y2="167.20" stroke="#262626" stroke-width="0.6"/><text x="477.25" y="168.90" text-anchor="end" class="tk" transform="translate(477.25,0) scale(1.0,1) translate(-477.25,0)">60</text><line x1="478.05" y1="183.70" x2="479.65" y2="183.70" stroke="#262626" stroke-width="0.6"/><text x="477.25" y="185.40" text-anchor="end" class="tk" transform="translate(477.25,0) scale(1.0,1) translate(-477.25,0)">40</text><line x1="478.05" y1="200.10" x2="479.65" y2="200.10" stroke="#262626" stroke-width="0.6"/><text x="477.25" y="201.80" text-anchor="end" class="tk" transform="translate(477.25,0) scale(1.0,1) translate(-477.25,0)">20</text><line x1="478.05" y1="216.50" x2="479.65" y2="216.50" stroke="#262626" stroke-width="0.6"/><text x="477.25" y="218.20" text-anchor="end" class="tk" transform="translate(477.25,0) scale(1.0,1) translate(-477.25,0)">0</text><line x1="487.00" y1="217.30" x2="487.00" y2="218.90" stroke="#262626" stroke-width="0.6"/><text x="487.00" y="222.95" text-anchor="middle" class="tk">-1</text><line x1="507.20" y1="217.30" x2="507.20" y2="218.90" stroke="#262626" stroke-width="0.6"/><text x="507.20" y="222.95" text-anchor="middle" class="tk">0</text><line x1="527.20" y1="217.30" x2="527.20" y2="218.90" stroke="#262626" stroke-width="0.6"/><text x="527.20" y="222.95" text-anchor="middle" class="tk">1</text><text x="512.12" y="229.30" text-anchor="middle" class="tt">PC2</text><text x="0" y="0" text-anchor="middle" class="tt" style="font-size:6.35px" transform="translate(465.65,188.15) rotate(-90)">Chao</text><text x="461.00" y="164.40" class="tag" transform="translate(461.00,0) scale(1.13,1) translate(-461.00,0)">(r)</text><text x="483.25" y="164.60" class="r2" transform="translate(483.25,0) scale(1.05,1) translate(-483.25,0)"><tspan font-style="italic">R</tspan><tspan dy="-1.6" font-size="3">2</tspan><tspan dy="1.6"> = 0.102, </tspan><tspan font-style="italic">p</tspan> &lt; 0.001</text></g><g><circle cx="35.5" cy="261.5" r="1.25" fill="#FA4A3D"/><circle cx="38.0" cy="261.5" r="1.25" fill="#42A200"/><circle cx="43.3" cy="264.2" r="1.25" fill="#00B2C6"/><circle cx="50.7" cy="264.2" r="1.25" fill="#00B2C6"/><circle cx="66.4" cy="264.2" r="1.25" fill="#D055FF"/><circle cx="68.3" cy="264.2" r="1.25" fill="#D055FF"/><circle cx="70.1" cy="264.2" r="1.25" fill="#D055FF"/><circle cx="42.3" cy="266.9" r="1.25" fill="#D055FF"/><circle cx="46.6" cy="266.9" r="1.25" fill="#FA4A3D"/><circle cx="47.9" cy="266.9" r="1.25" fill="#FA4A3D"/><circle cx="64.6" cy="266.9" r="1.25" fill="#FA4A3D"/><circle cx="28.7" cy="269.7" r="1.25" fill="#42A200"/><circle cx="44.2" cy="269.7" r="1.25" fill="#42A200"/><circle cx="46.0" cy="269.7" r="1.25" fill="#42A200"/><circle cx="60.9" cy="269.7" r="1.25" fill="#42A200"/><circle cx="76.9" cy="269.7" r="1.25" fill="#42A200"/><circle cx="49.1" cy="269.7" r="1.25" fill="#FA4A3D"/><circle cx="57.1" cy="269.7" r="1.25" fill="#FA4A3D"/><circle cx="59.0" cy="269.7" r="1.25" fill="#FA4A3D"/><circle cx="52.8" cy="269.7" r="1.25" fill="#00B2C6"/><circle cx="54.1" cy="269.7" r="1.25" fill="#00B2C6"/><circle cx="65.2" cy="269.7" r="1.25" fill="#00B2C6"/><circle cx="28.7" cy="272.6" r="1.25" fill="#00B2C6"/><circle cx="34.9" cy="272.6" r="1.25" fill="#00B2C6"/><circle cx="51.6" cy="272.6" r="1.25" fill="#00B2C6"/><circle cx="45.4" cy="272.6" r="1.25" fill="#42A200"/><circle cx="57.1" cy="272.6" r="1.25" fill="#42A200"/><circle cx="51.0" cy="272.6" r="1.25" fill="#FA4A3D"/><circle cx="55.3" cy="272.6" r="1.25" fill="#D055FF"/><circle cx="68.9" cy="272.6" r="1.25" fill="#D055FF"/><circle cx="80.0" cy="272.6" r="1.25" fill="#D055FF"/><circle cx="29.3" cy="275.3" r="1.25" fill="#00B2C6"/><circle cx="45.4" cy="275.3" r="1.25" fill="#00B2C6"/><circle cx="46.6" cy="275.3" r="1.25" fill="#00B2C6"/><circle cx="34.3" cy="275.3" r="1.25" fill="#42A200"/><circle cx="48.5" cy="275.3" r="1.25" fill="#42A200"/><circle cx="49.7" cy="275.3" r="1.25" fill="#42A200"/><circle cx="53.4" cy="275.3" r="1.25" fill="#42A200"/><circle cx="54.7" cy="275.3" r="1.25" fill="#42A200"/><circle cx="59.0" cy="275.3" r="1.25" fill="#42A200"/><circle cx="63.3" cy="275.3" r="1.25" fill="#42A200"/><circle cx="64.6" cy="275.3" r="1.25" fill="#42A200"/><circle cx="65.8" cy="275.3" r="1.25" fill="#42A200"/><circle cx="68.3" cy="275.3" r="1.25" fill="#42A200"/><circle cx="81.3" cy="275.3" r="1.25" fill="#42A200"/><circle cx="40.5" cy="275.3" r="1.25" fill="#FA4A3D"/><circle cx="51.0" cy="275.3" r="1.25" fill="#FA4A3D"/><circle cx="55.3" cy="275.3" r="1.25" fill="#FA4A3D"/><circle cx="73.8" cy="275.3" r="1.25" fill="#FA4A3D"/><circle cx="76.9" cy="275.3" r="1.25" fill="#D055FF"/><circle cx="78.8" cy="275.3" r="1.25" fill="#D055FF"/><circle cx="88.1" cy="275.3" r="1.25" fill="#D055FF"/><circle cx="43.5" cy="278.1" r="1.25" fill="#FA4A3D"/><circle cx="48.5" cy="278.1" r="1.25" fill="#FA4A3D"/><circle cx="53.4" cy="278.1" r="1.25" fill="#FA4A3D"/><circle cx="54.7" cy="278.1" r="1.25" fill="#FA4A3D"/><circle cx="44.8" cy="278.1" r="1.25" fill="#42A200"/><circle cx="51.0" cy="278.1" r="1.25" fill="#00B2C6"/><circle cx="60.2" cy="278.1" r="1.25" fill="#00B2C6"/><circle cx="62.7" cy="278.1" r="1.25" fill="#00B2C6"/><circle cx="70.7" cy="278.1" r="1.25" fill="#D055FF"/><circle cx="72.6" cy="278.1" r="1.25" fill="#D055FF"/><circle cx="81.3" cy="278.1" r="1.25" fill="#D055FF"/><circle cx="82.5" cy="278.1" r="1.25" fill="#D055FF"/><circle cx="84.3" cy="278.1" r="1.25" fill="#D055FF"/><circle cx="36.7" cy="280.8" r="1.25" fill="#FA4A3D"/><circle cx="50.3" cy="280.8" r="1.25" fill="#FA4A3D"/><circle cx="65.8" cy="280.8" r="1.25" fill="#FA4A3D"/><circle cx="42.9" cy="280.8" r="1.25" fill="#00B2C6"/><circle cx="45.4" cy="280.8" r="1.25" fill="#00B2C6"/><circle cx="47.9" cy="280.8" r="1.25" fill="#00B2C6"/><circle cx="52.8" cy="280.8" r="1.25" fill="#00B2C6"/><circle cx="54.7" cy="280.8" r="1.25" fill="#00B2C6"/><circle cx="72.0" cy="280.8" r="1.25" fill="#00B2C6"/><circle cx="79.4" cy="280.8" r="1.25" fill="#D055FF"/><circle cx="81.9" cy="280.8" r="1.25" fill="#D055FF"/><circle cx="87.4" cy="280.8" r="1.25" fill="#D055FF"/><circle cx="38.6" cy="283.7" r="1.25" fill="#42A200"/><circle cx="39.8" cy="283.7" r="1.25" fill="#42A200"/><circle cx="77.5" cy="283.7" r="1.25" fill="#42A200"/><circle cx="51.0" cy="283.7" r="1.25" fill="#00B2C6"/><circle cx="65.8" cy="283.7" r="1.25" fill="#00B2C6"/><circle cx="71.4" cy="283.7" r="1.25" fill="#00B2C6"/><circle cx="60.9" cy="283.7" r="1.25" fill="#D055FF"/><circle cx="62.1" cy="283.7" r="1.25" fill="#D055FF"/><circle cx="69.5" cy="283.7" r="1.25" fill="#D055FF"/><circle cx="36.1" cy="286.5" r="1.25" fill="#00B2C6"/><circle cx="44.8" cy="286.5" r="1.25" fill="#00B2C6"/><circle cx="63.3" cy="286.5" r="1.25" fill="#00B2C6"/><circle cx="54.1" cy="286.5" r="1.25" fill="#FA4A3D"/><circle cx="78.2" cy="286.5" r="1.25" fill="#D055FF"/><circle cx="83.1" cy="286.5" r="1.25" fill="#D055FF"/><circle cx="89.3" cy="286.5" r="1.25" fill="#D055FF"/><circle cx="42.9" cy="289.2" r="1.25" fill="#00B2C6"/><circle cx="46.6" cy="289.2" r="1.25" fill="#00B2C6"/><circle cx="63.3" cy="289.2" r="1.25" fill="#D055FF"/><circle cx="70.7" cy="292.1" r="1.25" fill="#D055FF"/><polyline points="26.5,271.8 29.2,272.2 31.9,272.5 34.6,272.9 37.3,273.2 40.0,273.6 42.8,273.9 45.5,274.2 48.2,274.5 50.9,274.8 53.6,275.0 56.3,275.2 59.0,275.3 61.7,275.4 64.4,275.5 67.1,275.5 69.8,275.5 72.5,275.5 75.2,275.4 78.0,275.3 80.7,275.3 83.4,275.2 86.1,275.1 88.8,275.0 91.5,274.9" fill="none" stroke="#444" stroke-width="0.85" stroke-dasharray="2.6,2.2"/><polyline points="26.5,278.2 29.2,278.1 31.9,278.1 34.6,278.0 37.3,277.9 40.0,277.9 42.8,277.9 45.5,277.8 48.2,277.8 50.9,277.9 53.6,277.9 56.3,278.0 59.0,278.2 61.7,278.3 64.4,278.6 67.1,278.9 69.8,279.2 72.5,279.5 75.2,279.8 78.0,280.2 80.7,280.6 83.4,280.9 86.1,281.3 88.8,281.7 91.5,282.1" fill="none" stroke="#444" stroke-width="0.85" stroke-dasharray="2.6,2.2"/><polyline points="26.5,275.0 91.5,278.5" fill="none" stroke="#555" stroke-width="0.7" stroke-dasharray="0.9,1.9"/><path d="M26.00,236.10V294.80H92.00" fill="none" stroke="#262626" stroke-width="1.1"/><line x1="24.40" y1="239.00" x2="26.00" y2="239.00" stroke="#262626" stroke-width="0.6"/><text x="23.60" y="240.70" text-anchor="end" class="tk" transform="translate(23.60,0) scale(1.0,1) translate(-23.60,0)">20</text><line x1="24.40" y1="252.90" x2="26.00" y2="252.90" stroke="#262626" stroke-width="0.6"/><text x="23.60" y="254.60" text-anchor="end" class="tk" transform="translate(23.60,0) scale(1.0,1) translate(-23.60,0)">15</text><line x1="24.40" y1="266.90" x2="26.00" y2="266.90" stroke="#262626" stroke-width="0.6"/><text x="23.60" y="268.60" text-anchor="end" class="tk" transform="translate(23.60,0) scale(1.0,1) translate(-23.60,0)">10</text><line x1="24.40" y1="280.90" x2="26.00" y2="280.90" stroke="#262626" stroke-width="0.6"/><text x="23.60" y="282.60" text-anchor="end" class="tk" transform="translate(23.60,0) scale(1.0,1) translate(-23.60,0)">5</text><line x1="39.05" y1="294.80" x2="39.05" y2="296.40" stroke="#262626" stroke-width="0.6"/><text x="39.05" y="300.45" text-anchor="middle" class="tk">-1.0</text><line x1="48.75" y1="294.80" x2="48.75" y2="296.40" stroke="#262626" stroke-width="0.6"/><text x="48.75" y="300.45" text-anchor="middle" class="tk">-0.5</text><line x1="58.45" y1="294.80" x2="58.45" y2="296.40" stroke="#262626" stroke-width="0.6"/><text x="58.45" y="300.45" text-anchor="middle" class="tk">0.0</text><line x1="68.15" y1="294.80" x2="68.15" y2="296.40" stroke="#262626" stroke-width="0.6"/><text x="68.15" y="300.45" text-anchor="middle" class="tk">0.5</text><line x1="77.85" y1="294.80" x2="77.85" y2="296.40" stroke="#262626" stroke-width="0.6"/><text x="77.85" y="300.45" text-anchor="middle" class="tk">1.0</text><line x1="87.55" y1="294.80" x2="87.55" y2="296.40" stroke="#262626" stroke-width="0.6"/><text x="59.00" y="307.20" text-anchor="middle" class="tt">PC1</text><text x="0" y="0" text-anchor="middle" class="tt" style="font-size:6.35px" transform="translate(12.00,265.45) rotate(-90)">Richness</text><text x="5.00" y="241.20" class="tag" transform="translate(5.00,0) scale(1.13,1) translate(-5.00,0)">(s)</text><text x="29.60" y="241.70" class="r2" transform="translate(29.60,0) scale(1.05,1) translate(-29.60,0)"><tspan font-style="italic">R</tspan><tspan dy="-1.6" font-size="3">2</tspan><tspan dy="1.6"> = 0.027, </tspan><tspan font-style="italic">p</tspan> = 0.092</text></g><g><circle cx="135.5" cy="261.5" r="1.25" fill="#42A200"/><circle cx="131.5" cy="264.2" r="1.25" fill="#42A200"/><circle cx="137.3" cy="264.2" r="1.25" fill="#FA4A3D"/><circle cx="143.2" cy="264.2" r="1.25" fill="#D055FF"/><circle cx="149.6" cy="264.2" r="1.25" fill="#D055FF"/><circle cx="168.5" cy="264.2" r="1.25" fill="#00B2C6"/><circle cx="179.3" cy="264.2" r="1.25" fill="#00B2C6"/><circle cx="119.7" cy="266.9" r="1.25" fill="#D055FF"/><circle cx="132.7" cy="266.9" r="1.25" fill="#FA4A3D"/><circle cx="145.7" cy="266.9" r="1.25" fill="#FA4A3D"/><circle cx="150.6" cy="266.9" r="1.25" fill="#42A200"/><circle cx="127.1" cy="269.7" r="1.25" fill="#D055FF"/><circle cx="142.0" cy="269.7" r="1.25" fill="#D055FF"/><circle cx="130.8" cy="269.7" r="1.25" fill="#42A200"/><circle cx="134.5" cy="269.7" r="1.25" fill="#42A200"/><circle cx="138.3" cy="269.7" r="1.25" fill="#42A200"/><circle cx="142.6" cy="269.7" r="1.25" fill="#42A200"/><circle cx="145.7" cy="269.7" r="1.25" fill="#42A200"/><circle cx="150.0" cy="269.7" r="1.25" fill="#00B2C6"/><circle cx="156.8" cy="269.7" r="1.25" fill="#00B2C6"/><circle cx="129.6" cy="272.6" r="1.25" fill="#FA4A3D"/><circle cx="133.3" cy="272.6" r="1.25" fill="#FA4A3D"/><circle cx="156.2" cy="272.6" r="1.25" fill="#FA4A3D"/><circle cx="133.9" cy="272.6" r="1.25" fill="#42A200"/><circle cx="157.4" cy="272.6" r="1.25" fill="#42A200"/><circle cx="140.7" cy="272.6" r="1.25" fill="#D055FF"/><circle cx="142.6" cy="272.6" r="1.25" fill="#D055FF"/><circle cx="151.9" cy="272.6" r="1.25" fill="#D055FF"/><circle cx="151.2" cy="272.6" r="1.25" fill="#00B2C6"/><circle cx="169.8" cy="272.6" r="1.25" fill="#00B2C6"/><circle cx="121.6" cy="275.3" r="1.25" fill="#D055FF"/><circle cx="137.0" cy="275.3" r="1.25" fill="#D055FF"/><circle cx="148.1" cy="275.3" r="1.25" fill="#D055FF"/><circle cx="127.7" cy="275.3" r="1.25" fill="#42A200"/><circle cx="132.1" cy="275.3" r="1.25" fill="#42A200"/><circle cx="138.9" cy="275.3" r="1.25" fill="#42A200"/><circle cx="140.1" cy="275.3" r="1.25" fill="#42A200"/><circle cx="144.4" cy="275.3" r="1.25" fill="#42A200"/><circle cx="146.9" cy="275.3" r="1.25" fill="#42A200"/><circle cx="135.8" cy="275.3" r="1.25" fill="#FA4A3D"/><circle cx="142.6" cy="275.3" r="1.25" fill="#FA4A3D"/><circle cx="154.3" cy="275.3" r="1.25" fill="#FA4A3D"/><circle cx="167.9" cy="275.3" r="1.25" fill="#00B2C6"/><circle cx="133.9" cy="278.1" r="1.25" fill="#FA4A3D"/><circle cx="135.2" cy="278.1" r="1.25" fill="#FA4A3D"/><circle cx="136.4" cy="278.1" r="1.25" fill="#FA4A3D"/><circle cx="137.6" cy="278.1" r="1.25" fill="#FA4A3D"/><circle cx="139.5" cy="278.1" r="1.25" fill="#FA4A3D"/><circle cx="145.7" cy="278.1" r="1.25" fill="#D055FF"/><circle cx="147.5" cy="278.1" r="1.25" fill="#D055FF"/><circle cx="149.4" cy="278.1" r="1.25" fill="#D055FF"/><circle cx="153.1" cy="278.1" r="1.25" fill="#D055FF"/><circle cx="150.6" cy="278.1" r="1.25" fill="#00B2C6"/><circle cx="159.9" cy="278.1" r="1.25" fill="#00B2C6"/><circle cx="154.3" cy="278.1" r="1.25" fill="#42A200"/><circle cx="155.6" cy="278.1" r="1.25" fill="#42A200"/><circle cx="121.6" cy="280.8" r="1.25" fill="#D055FF"/><circle cx="146.3" cy="280.8" r="1.25" fill="#D055FF"/><circle cx="147.5" cy="280.8" r="1.25" fill="#D055FF"/><circle cx="127.1" cy="280.8" r="1.25" fill="#FA4A3D"/><circle cx="134.5" cy="280.8" r="1.25" fill="#FA4A3D"/><circle cx="142.0" cy="280.8" r="1.25" fill="#42A200"/><circle cx="143.8" cy="280.8" r="1.25" fill="#00B2C6"/><circle cx="152.5" cy="280.8" r="1.25" fill="#00B2C6"/><circle cx="153.7" cy="280.8" r="1.25" fill="#00B2C6"/><circle cx="154.9" cy="280.8" r="1.25" fill="#00B2C6"/><circle cx="158.7" cy="280.8" r="1.25" fill="#00B2C6"/><circle cx="159.9" cy="280.8" r="1.25" fill="#00B2C6"/><circle cx="161.7" cy="280.8" r="1.25" fill="#00B2C6"/><circle cx="163.6" cy="280.8" r="1.25" fill="#00B2C6"/><circle cx="127.7" cy="283.7" r="1.25" fill="#D055FF"/><circle cx="130.8" cy="283.7" r="1.25" fill="#D055FF"/><circle cx="142.6" cy="283.7" r="1.25" fill="#D055FF"/><circle cx="136.4" cy="283.7" r="1.25" fill="#00B2C6"/><circle cx="153.1" cy="283.7" r="1.25" fill="#00B2C6"/><circle cx="159.3" cy="283.7" r="1.25" fill="#00B2C6"/><circle cx="138.9" cy="283.7" r="1.25" fill="#FA4A3D"/><circle cx="142.0" cy="286.5" r="1.25" fill="#D055FF"/><circle cx="143.8" cy="286.5" r="1.25" fill="#D055FF"/><circle cx="149.4" cy="286.5" r="1.25" fill="#FA4A3D"/><circle cx="153.1" cy="289.2" r="1.25" fill="#FA4A3D"/><circle cx="164.8" cy="286.5" r="1.25" fill="#00B2C6"/><circle cx="167.3" cy="286.5" r="1.25" fill="#00B2C6"/><circle cx="169.8" cy="286.5" r="1.25" fill="#00B2C6"/><circle cx="148.8" cy="289.2" r="1.25" fill="#00B2C6"/><circle cx="163.6" cy="289.2" r="1.25" fill="#00B2C6"/><circle cx="146.9" cy="289.2" r="1.25" fill="#D055FF"/><circle cx="148.8" cy="292.1" r="1.25" fill="#D055FF"/><polyline points="119.5,271.0 122.0,271.5 124.6,271.9 127.1,272.3 129.7,272.8 132.2,273.1 134.8,273.5 137.3,273.8 139.8,274.0 142.4,274.1 144.9,274.1 147.5,274.1 150.0,274.1 152.5,274.0 155.1,273.9 157.6,273.8 160.2,273.6 162.7,273.5 165.2,273.4 167.8,273.2 170.3,273.1 172.9,272.9 175.4,272.8 178.0,272.6 180.5,272.5" fill="none" stroke="#444" stroke-width="0.85" stroke-dasharray="2.6,2.2"/><polyline points="119.5,277.0 122.0,276.8 124.6,276.7 127.1,276.5 129.7,276.4 132.2,276.3 134.8,276.3 137.3,276.3 139.8,276.4 142.4,276.5 144.9,276.8 147.5,277.1 150.0,277.4 152.5,277.8 155.1,278.2 157.6,278.6 160.2,279.0 162.7,279.5 165.2,279.9 167.8,280.3 170.3,280.7 172.9,281.2 175.4,281.6 178.0,282.1 180.5,282.5" fill="none" stroke="#444" stroke-width="0.85" stroke-dasharray="2.6,2.2"/><polyline points="119.5,274.0 180.5,277.5" fill="none" stroke="#555" stroke-width="0.7" stroke-dasharray="0.9,1.9"/><path d="M116.55,236.10V294.80H182.70" fill="none" stroke="#262626" stroke-width="1.1"/><line x1="114.95" y1="239.00" x2="116.55" y2="239.00" stroke="#262626" stroke-width="0.6"/><text x="114.15" y="240.70" text-anchor="end" class="tk" transform="translate(114.15,0) scale(1.0,1) translate(-114.15,0)">20</text><line x1="114.95" y1="252.90" x2="116.55" y2="252.90" stroke="#262626" stroke-width="0.6"/><text x="114.15" y="254.60" text-anchor="end" class="tk" transform="translate(114.15,0) scale(1.0,1) translate(-114.15,0)">15</text><line x1="114.95" y1="266.90" x2="116.55" y2="266.90" stroke="#262626" stroke-width="0.6"/><text x="114.15" y="268.60" text-anchor="end" class="tk" transform="translate(114.15,0) scale(1.0,1) translate(-114.15,0)">10</text><line x1="114.95" y1="280.90" x2="116.55" y2="280.90" stroke="#262626" stroke-width="0.6"/><text x="114.15" y="282.60" text-anchor="end" class="tk" transform="translate(114.15,0) scale(1.0,1) translate(-114.15,0)">5</text><line x1="124.40" y1="294.80" x2="124.40" y2="296.40" stroke="#262626" stroke-width="0.6"/><text x="124.40" y="300.45" text-anchor="middle" class="tk">-1</text><line x1="144.20" y1="294.80" x2="144.20" y2="296.40" stroke="#262626" stroke-width="0.6"/><text x="144.20" y="300.45" text-anchor="middle" class="tk">0</text><line x1="164.20" y1="294.80" x2="164.20" y2="296.40" stroke="#262626" stroke-width="0.6"/><text x="164.20" y="300.45" text-anchor="middle" class="tk">1</text><text x="149.62" y="307.20" text-anchor="middle" class="tt">PC2</text><text x="0" y="0" text-anchor="middle" class="tt" style="font-size:6.35px" transform="translate(102.55,265.45) rotate(-90)">Richness</text><text x="96.60" y="241.20" class="tag" transform="translate(96.60,0) scale(1.13,1) translate(-96.60,0)">(t)</text><text x="120.15" y="241.70" class="r2" transform="translate(120.15,0) scale(1.05,1) translate(-120.15,0)"><tspan font-style="italic">R</tspan><tspan dy="-1.6" font-size="3">2</tspan><tspan dy="1.6"> = 0.020, </tspan><tspan font-style="italic">p</tspan> = 0.152</text></g><g><circle cx="210.1" cy="259.0" r="1.25" fill="#42A200"/><circle cx="219.4" cy="258.0" r="1.25" fill="#42A200"/><circle cx="229.9" cy="258.3" r="1.25" fill="#42A200"/><circle cx="227.4" cy="260.2" r="1.25" fill="#42A200"/><circle cx="235.4" cy="259.5" r="1.25" fill="#42A200"/><circle cx="240.4" cy="261.7" r="1.25" fill="#42A200"/><circle cx="238.5" cy="263.2" r="1.25" fill="#42A200"/><circle cx="226.8" cy="263.6" r="1.25" fill="#42A200"/><circle cx="258.3" cy="261.5" r="1.25" fill="#42A200"/><circle cx="229.9" cy="261.7" r="1.25" fill="#42A200"/><circle cx="216.6" cy="255.8" r="1.25" fill="#FA4A3D"/><circle cx="223.1" cy="262.3" r="1.25" fill="#FA4A3D"/><circle cx="221.8" cy="263.2" r="1.25" fill="#FA4A3D"/><circle cx="229.3" cy="259.3" r="1.25" fill="#FA4A3D"/><circle cx="231.7" cy="260.7" r="1.25" fill="#FA4A3D"/><circle cx="237.3" cy="260.2" r="1.25" fill="#FA4A3D"/><circle cx="239.8" cy="260.7" r="1.25" fill="#FA4A3D"/><circle cx="251.5" cy="259.0" r="1.25" fill="#FA4A3D"/><circle cx="254.6" cy="263.6" r="1.25" fill="#FA4A3D"/><circle cx="224.9" cy="255.3" r="1.25" fill="#00B2C6"/><circle cx="224.3" cy="256.8" r="1.25" fill="#00B2C6"/><circle cx="216.9" cy="261.7" r="1.25" fill="#00B2C6"/><circle cx="216.3" cy="263.0" r="1.25" fill="#00B2C6"/><circle cx="210.7" cy="263.6" r="1.25" fill="#00B2C6"/><circle cx="231.7" cy="263.0" r="1.25" fill="#00B2C6"/><circle cx="232.3" cy="264.0" r="1.25" fill="#00B2C6"/><circle cx="246.6" cy="259.9" r="1.25" fill="#00B2C6"/><circle cx="248.4" cy="261.7" r="1.25" fill="#00B2C6"/><circle cx="234.8" cy="263.6" r="1.25" fill="#00B2C6"/><circle cx="223.1" cy="257.8" r="1.25" fill="#D055FF"/><circle cx="249.7" cy="259.9" r="1.25" fill="#D055FF"/><circle cx="249.7" cy="261.7" r="1.25" fill="#D055FF"/><circle cx="260.8" cy="260.7" r="1.25" fill="#D055FF"/><circle cx="259.5" cy="261.7" r="1.25" fill="#D055FF"/><circle cx="268.8" cy="262.7" r="1.25" fill="#D055FF"/><circle cx="257.7" cy="263.6" r="1.25" fill="#D055FF"/><circle cx="224.9" cy="267.9" r="1.25" fill="#FA4A3D"/><circle cx="226.8" cy="268.5" r="1.25" fill="#FA4A3D"/><circle cx="232.3" cy="268.7" r="1.25" fill="#FA4A3D"/><circle cx="235.4" cy="267.9" r="1.25" fill="#FA4A3D"/><circle cx="253.4" cy="272.8" r="1.25" fill="#FA4A3D"/><circle cx="235.4" cy="278.4" r="1.25" fill="#FA4A3D"/><circle cx="220.0" cy="270.7" r="1.25" fill="#42A200"/><circle cx="220.6" cy="271.9" r="1.25" fill="#42A200"/><circle cx="229.9" cy="267.9" r="1.25" fill="#42A200"/><circle cx="234.2" cy="266.6" r="1.25" fill="#42A200"/><circle cx="244.7" cy="267.2" r="1.25" fill="#42A200"/><circle cx="249.7" cy="268.5" r="1.25" fill="#42A200"/><circle cx="258.9" cy="270.9" r="1.25" fill="#42A200"/><circle cx="259.5" cy="271.9" r="1.25" fill="#42A200"/><circle cx="224.3" cy="270.9" r="1.25" fill="#00B2C6"/><circle cx="227.4" cy="270.7" r="1.25" fill="#00B2C6"/><circle cx="229.9" cy="269.1" r="1.25" fill="#00B2C6"/><circle cx="231.7" cy="271.6" r="1.25" fill="#00B2C6"/><circle cx="232.3" cy="272.8" r="1.25" fill="#00B2C6"/><circle cx="234.8" cy="269.7" r="1.25" fill="#00B2C6"/><circle cx="217.5" cy="274.9" r="1.25" fill="#00B2C6"/><circle cx="224.3" cy="281.5" r="1.25" fill="#00B2C6"/><circle cx="226.2" cy="279.6" r="1.25" fill="#00B2C6"/><circle cx="227.8" cy="281.5" r="1.25" fill="#00B2C6"/><circle cx="243.8" cy="269.7" r="1.25" fill="#00B2C6"/><circle cx="244.7" cy="276.5" r="1.25" fill="#00B2C6"/><circle cx="245.3" cy="281.1" r="1.25" fill="#00B2C6"/><circle cx="250.9" cy="271.6" r="1.25" fill="#00B2C6"/><circle cx="254.6" cy="268.7" r="1.25" fill="#00B2C6"/><circle cx="260.2" cy="268.5" r="1.25" fill="#00B2C6"/><circle cx="242.2" cy="270.9" r="1.25" fill="#D055FF"/><circle cx="244.1" cy="273.2" r="1.25" fill="#D055FF"/><circle cx="247.8" cy="271.9" r="1.25" fill="#D055FF"/><circle cx="252.1" cy="267.0" r="1.25" fill="#D055FF"/><circle cx="254.6" cy="267.2" r="1.25" fill="#D055FF"/><circle cx="261.4" cy="267.5" r="1.25" fill="#D055FF"/><circle cx="263.3" cy="267.9" r="1.25" fill="#D055FF"/><circle cx="264.5" cy="270.3" r="1.25" fill="#D055FF"/><circle cx="259.5" cy="275.6" r="1.25" fill="#D055FF"/><circle cx="264.5" cy="275.6" r="1.25" fill="#D055FF"/><circle cx="270.1" cy="275.6" r="1.25" fill="#D055FF"/><circle cx="244.7" cy="282.1" r="1.25" fill="#D055FF"/><circle cx="252.1" cy="292.0" r="1.25" fill="#D055FF"/><polyline points="208.5,263.4 211.2,263.6 213.8,263.9 216.5,264.1 219.2,264.3 221.8,264.5 224.5,264.7 227.2,264.9 229.8,265.1 232.5,265.2 235.2,265.4 237.8,265.5 240.5,265.5 243.2,265.6 245.8,265.6 248.5,265.5 251.2,265.5 253.8,265.4 256.5,265.3 259.2,265.2 261.8,265.0 264.5,264.9 267.2,264.8 269.8,264.6 272.5,264.5" fill="none" stroke="#444" stroke-width="0.85" stroke-dasharray="2.6,2.2"/><polyline points="208.5,268.6 211.2,268.5 213.8,268.4 216.5,268.3 219.2,268.2 221.8,268.1 224.5,268.0 227.2,268.0 229.8,267.9 232.5,267.9 235.2,267.9 237.8,267.9 240.5,268.0 243.2,268.0 245.8,268.2 248.5,268.3 251.2,268.5 253.8,268.7 256.5,269.0 259.2,269.2 261.8,269.5 264.5,269.7 267.2,270.0 269.8,270.2 272.5,270.5" fill="none" stroke="#444" stroke-width="0.85" stroke-dasharray="2.6,2.2"/><polyline points="208.5,266.0 272.5,267.5" fill="none" stroke="#555" stroke-width="0.7" stroke-dasharray="0.9,1.9"/><path d="M207.45,236.10V294.80H273.10" fill="none" stroke="#262626" stroke-width="1.1"/><line x1="205.85" y1="245.20" x2="207.45" y2="245.20" stroke="#262626" stroke-width="0.6"/><text x="205.05" y="246.90" text-anchor="end" class="tk" transform="translate(205.05,0) scale(1.0,1) translate(-205.05,0)">3</text><line x1="205.85" y1="260.80" x2="207.45" y2="260.80" stroke="#262626" stroke-width="0.6"/><text x="205.05" y="262.50" text-anchor="end" class="tk" transform="translate(205.05,0) scale(1.0,1) translate(-205.05,0)">2</text><line x1="205.85" y1="276.40" x2="207.45" y2="276.40" stroke="#262626" stroke-width="0.6"/><text x="205.05" y="278.10" text-anchor="end" class="tk" transform="translate(205.05,0) scale(1.0,1) translate(-205.05,0)">1</text><line x1="205.85" y1="292.00" x2="207.45" y2="292.00" stroke="#262626" stroke-width="0.6"/><text x="205.05" y="293.70" text-anchor="end" class="tk" transform="translate(205.05,0) scale(1.0,1) translate(-205.05,0)">0</text><line x1="220.45" y1="294.80" x2="220.45" y2="296.40" stroke="#262626" stroke-width="0.6"/><text x="220.45" y="300.45" text-anchor="middle" class="tk">-1.0</text><line x1="230.00" y1="294.80" x2="230.00" y2="296.40" stroke="#262626" stroke-width="0.6"/><text x="230.00" y="300.45" text-anchor="middle" class="tk">-0.5</text><line x1="239.55" y1="294.80" x2="239.55" y2="296.40" stroke="#262626" stroke-width="0.6"/><text x="239.55" y="300.45" text-anchor="middle" class="tk">0.0</text><line x1="249.10" y1="294.80" x2="249.10" y2="296.40" stroke="#262626" stroke-width="0.6"/><text x="249.10" y="300.45" text-anchor="middle" class="tk">0.5</text><line x1="258.65" y1="294.80" x2="258.65" y2="296.40" stroke="#262626" stroke-width="0.6"/><text x="258.65" y="300.45" text-anchor="middle" class="tk">1.0</text><line x1="268.20" y1="294.80" x2="268.20" y2="296.40" stroke="#262626" stroke-width="0.6"/><text x="240.28" y="307.20" text-anchor="middle" class="tt">PC1</text><text x="0" y="0" text-anchor="middle" class="tt" style="font-size:6.35px" transform="translate(193.45,265.45) rotate(-90)">Shannon</text><text x="187.60" y="241.20" class="tag" transform="translate(187.60,0) scale(1.13,1) translate(-187.60,0)">(u)</text><text x="211.05" y="241.70" class="r2" transform="translate(211.05,0) scale(1.05,1) translate(-211.05,0)"><tspan font-style="italic">R</tspan><tspan dy="-1.6" font-size="3">2</tspan><tspan dy="1.6"> = 0.020, </tspan><tspan font-style="italic">p</tspan> = 0.15</text></g><g><circle cx="301.3" cy="257.8" r="1.25" fill="#D055FF"/><circle cx="308.1" cy="261.7" r="1.25" fill="#D055FF"/><circle cx="314.9" cy="262.3" r="1.25" fill="#D055FF"/><circle cx="321.7" cy="263.0" r="1.25" fill="#D055FF"/><circle cx="331.6" cy="259.9" r="1.25" fill="#D055FF"/><circle cx="333.5" cy="260.5" r="1.25" fill="#D055FF"/><circle cx="330.4" cy="263.6" r="1.25" fill="#D055FF"/><circle cx="326.7" cy="262.3" r="1.25" fill="#D055FF"/><circle cx="303.2" cy="265.2" r="1.25" fill="#D055FF"/><circle cx="316.5" cy="255.8" r="1.25" fill="#FA4A3D"/><circle cx="314.3" cy="259.0" r="1.25" fill="#FA4A3D"/><circle cx="310.6" cy="262.3" r="1.25" fill="#FA4A3D"/><circle cx="326.7" cy="259.9" r="1.25" fill="#FA4A3D"/><circle cx="327.9" cy="260.7" r="1.25" fill="#FA4A3D"/><circle cx="337.8" cy="259.9" r="1.25" fill="#FA4A3D"/><circle cx="316.8" cy="265.2" r="1.25" fill="#FA4A3D"/><circle cx="323.0" cy="264.4" r="1.25" fill="#FA4A3D"/><circle cx="318.0" cy="258.6" r="1.25" fill="#42A200"/><circle cx="319.9" cy="259.3" r="1.25" fill="#42A200"/><circle cx="323.6" cy="258.6" r="1.25" fill="#42A200"/><circle cx="324.2" cy="260.2" r="1.25" fill="#42A200"/><circle cx="331.6" cy="258.3" r="1.25" fill="#42A200"/><circle cx="310.6" cy="264.2" r="1.25" fill="#42A200"/><circle cx="315.5" cy="263.2" r="1.25" fill="#42A200"/><circle cx="326.7" cy="265.2" r="1.25" fill="#42A200"/><circle cx="329.1" cy="262.3" r="1.25" fill="#42A200"/><circle cx="312.5" cy="264.8" r="1.25" fill="#42A200"/><circle cx="349.9" cy="255.5" r="1.25" fill="#00B2C6"/><circle cx="339.0" cy="261.7" r="1.25" fill="#00B2C6"/><circle cx="350.2" cy="263.0" r="1.25" fill="#00B2C6"/><circle cx="351.4" cy="264.0" r="1.25" fill="#00B2C6"/><circle cx="360.7" cy="264.0" r="1.25" fill="#00B2C6"/><circle cx="334.1" cy="264.8" r="1.25" fill="#00B2C6"/><circle cx="340.3" cy="265.2" r="1.25" fill="#00B2C6"/><circle cx="302.6" cy="266.6" r="1.25" fill="#D055FF"/><circle cx="303.2" cy="270.3" r="1.25" fill="#D055FF"/><circle cx="308.7" cy="271.2" r="1.25" fill="#D055FF"/><circle cx="312.5" cy="273.2" r="1.25" fill="#D055FF"/><circle cx="323.6" cy="275.6" r="1.25" fill="#D055FF"/><circle cx="325.4" cy="275.6" r="1.25" fill="#D055FF"/><circle cx="325.4" cy="267.2" r="1.25" fill="#D055FF"/><circle cx="328.5" cy="266.6" r="1.25" fill="#D055FF"/><circle cx="328.5" cy="282.1" r="1.25" fill="#D055FF"/><circle cx="329.8" cy="292.0" r="1.25" fill="#D055FF"/><circle cx="326.7" cy="270.9" r="1.25" fill="#D055FF"/><circle cx="309.4" cy="267.0" r="1.25" fill="#42A200"/><circle cx="309.4" cy="268.5" r="1.25" fill="#42A200"/><circle cx="310.6" cy="271.6" r="1.25" fill="#42A200"/><circle cx="313.1" cy="270.3" r="1.25" fill="#42A200"/><circle cx="316.8" cy="266.6" r="1.25" fill="#42A200"/><circle cx="319.9" cy="266.6" r="1.25" fill="#42A200"/><circle cx="308.7" cy="273.4" r="1.25" fill="#42A200"/><circle cx="314.9" cy="267.2" r="1.25" fill="#FA4A3D"/><circle cx="317.4" cy="268.5" r="1.25" fill="#FA4A3D"/><circle cx="321.1" cy="270.3" r="1.25" fill="#FA4A3D"/><circle cx="321.7" cy="269.1" r="1.25" fill="#FA4A3D"/><circle cx="323.0" cy="267.9" r="1.25" fill="#FA4A3D"/><circle cx="308.1" cy="274.7" r="1.25" fill="#FA4A3D"/><circle cx="324.8" cy="272.8" r="1.25" fill="#FA4A3D"/><circle cx="331.0" cy="278.4" r="1.25" fill="#FA4A3D"/><circle cx="318.0" cy="271.9" r="1.25" fill="#00B2C6"/><circle cx="326.1" cy="269.7" r="1.25" fill="#00B2C6"/><circle cx="334.1" cy="269.7" r="1.25" fill="#00B2C6"/><circle cx="335.9" cy="269.7" r="1.25" fill="#00B2C6"/><circle cx="334.1" cy="273.2" r="1.25" fill="#00B2C6"/><circle cx="340.9" cy="270.9" r="1.25" fill="#00B2C6"/><circle cx="340.9" cy="272.2" r="1.25" fill="#00B2C6"/><circle cx="343.4" cy="268.5" r="1.25" fill="#00B2C6"/><circle cx="345.2" cy="269.7" r="1.25" fill="#00B2C6"/><circle cx="348.9" cy="276.5" r="1.25" fill="#00B2C6"/><circle cx="351.4" cy="274.9" r="1.25" fill="#00B2C6"/><circle cx="345.8" cy="281.5" r="1.25" fill="#00B2C6"/><circle cx="346.5" cy="279.6" r="1.25" fill="#00B2C6"/><circle cx="330.4" cy="281.5" r="1.25" fill="#00B2C6"/><circle cx="334.7" cy="281.5" r="1.25" fill="#00B2C6"/><circle cx="336.6" cy="266.6" r="1.25" fill="#00B2C6"/><polyline points="301.0,262.6 303.5,263.0 306.1,263.3 308.6,263.7 311.2,264.1 313.7,264.4 316.2,264.7 318.8,265.0 321.3,265.3 323.9,265.5 326.4,265.7 329.0,265.8 331.5,265.9 334.0,265.9 336.6,265.9 339.1,265.9 341.7,265.9 344.2,265.9 346.8,265.8 349.3,265.8 351.8,265.7 354.4,265.7 356.9,265.6 359.5,265.6 362.0,265.5" fill="none" stroke="#444" stroke-width="0.85" stroke-dasharray="2.6,2.2"/><polyline points="301.0,267.4 303.5,267.4 306.1,267.4 308.6,267.4 311.2,267.4 313.7,267.5 316.2,267.5 318.8,267.6 321.3,267.7 323.9,267.9 326.4,268.1 329.0,268.3 331.5,268.6 334.0,269.0 336.6,269.3 339.1,269.7 341.7,270.1 344.2,270.5 346.8,270.9 349.3,271.3 351.8,271.8 354.4,272.2 356.9,272.6 359.5,273.1 362.0,273.5" fill="none" stroke="#444" stroke-width="0.85" stroke-dasharray="2.6,2.2"/><polyline points="301.0,265.0 362.0,269.5" fill="none" stroke="#555" stroke-width="0.7" stroke-dasharray="0.9,1.9"/><path d="M297.95,236.10V294.80H363.70" fill="none" stroke="#262626" stroke-width="1.1"/><line x1="296.35" y1="245.20" x2="297.95" y2="245.20" stroke="#262626" stroke-width="0.6"/><text x="295.55" y="246.90" text-anchor="end" class="tk" transform="translate(295.55,0) scale(1.0,1) translate(-295.55,0)">3</text><line x1="296.35" y1="260.80" x2="297.95" y2="260.80" stroke="#262626" stroke-width="0.6"/><text x="295.55" y="262.50" text-anchor="end" class="tk" transform="translate(295.55,0) scale(1.0,1) translate(-295.55,0)">2</text><line x1="296.35" y1="276.40" x2="297.95" y2="276.40" stroke="#262626" stroke-width="0.6"/><text x="295.55" y="278.10" text-anchor="end" class="tk" transform="translate(295.55,0) scale(1.0,1) translate(-295.55,0)">1</text><line x1="296.35" y1="292.00" x2="297.95" y2="292.00" stroke="#262626" stroke-width="0.6"/><text x="295.55" y="293.70" text-anchor="end" class="tk" transform="translate(295.55,0) scale(1.0,1) translate(-295.55,0)">0</text><line x1="305.40" y1="294.80" x2="305.40" y2="296.40" stroke="#262626" stroke-width="0.6"/><text x="305.40" y="300.45" text-anchor="middle" class="tk">-1</text><line x1="325.40" y1="294.80" x2="325.40" y2="296.40" stroke="#262626" stroke-width="0.6"/><text x="325.40" y="300.45" text-anchor="middle" class="tk">0</text><line x1="345.50" y1="294.80" x2="345.50" y2="296.40" stroke="#262626" stroke-width="0.6"/><text x="345.50" y="300.45" text-anchor="middle" class="tk">1</text><text x="330.82" y="307.20" text-anchor="middle" class="tt">PC2</text><text x="0" y="0" text-anchor="middle" class="tt" style="font-size:6.35px" transform="translate(283.95,265.45) rotate(-90)">Shannon</text><text x="278.00" y="241.20" class="tag" transform="translate(278.00,0) scale(1.13,1) translate(-278.00,0)">(v)</text><text x="301.55" y="241.70" class="r2" transform="translate(301.55,0) scale(1.05,1) translate(-301.55,0)"><tspan font-style="italic">R</tspan><tspan dy="-1.6" font-size="3">2</tspan><tspan dy="1.6"> = 0.021, </tspan><tspan font-style="italic">p</tspan> = 0.136</text></g><g><circle cx="411.3" cy="243.4" r="1.25" fill="#FA4A3D"/><circle cx="413.7" cy="254.3" r="1.25" fill="#FA4A3D"/><circle cx="409.0" cy="263.2" r="1.25" fill="#FA4A3D"/><circle cx="432.5" cy="265.2" r="1.25" fill="#FA4A3D"/><circle cx="406.6" cy="252.8" r="1.25" fill="#42A200"/><circle cx="409.0" cy="252.8" r="1.25" fill="#42A200"/><circle cx="441.5" cy="255.8" r="1.25" fill="#D055FF"/><circle cx="431.7" cy="268.2" r="1.25" fill="#D055FF"/><circle cx="405.1" cy="270.7" r="1.25" fill="#D055FF"/><circle cx="444.0" cy="271.9" r="1.25" fill="#D055FF"/><circle cx="443.4" cy="273.4" r="1.25" fill="#D055FF"/><circle cx="442.8" cy="274.9" r="1.25" fill="#D055FF"/><circle cx="429.2" cy="275.3" r="1.25" fill="#D055FF"/><circle cx="429.8" cy="277.1" r="1.25" fill="#D055FF"/><circle cx="431.7" cy="277.7" r="1.25" fill="#D055FF"/><circle cx="432.9" cy="277.7" r="1.25" fill="#D055FF"/><circle cx="427.9" cy="278.4" r="1.25" fill="#D055FF"/><circle cx="424.9" cy="280.2" r="1.25" fill="#D055FF"/><circle cx="435.4" cy="282.1" r="1.25" fill="#D055FF"/><circle cx="433.5" cy="283.3" r="1.25" fill="#D055FF"/><circle cx="434.1" cy="284.5" r="1.25" fill="#D055FF"/><circle cx="439.7" cy="279.6" r="1.25" fill="#D055FF"/><circle cx="443.4" cy="279.0" r="1.25" fill="#D055FF"/><circle cx="450.8" cy="279.0" r="1.25" fill="#D055FF"/><circle cx="450.8" cy="280.8" r="1.25" fill="#D055FF"/><circle cx="444.0" cy="284.5" r="1.25" fill="#D055FF"/><circle cx="445.3" cy="283.9" r="1.25" fill="#D055FF"/><circle cx="423.6" cy="285.8" r="1.25" fill="#D055FF"/><circle cx="426.1" cy="287.6" r="1.25" fill="#D055FF"/><circle cx="425.5" cy="290.7" r="1.25" fill="#D055FF"/><circle cx="429.2" cy="287.6" r="1.25" fill="#D055FF"/><circle cx="433.5" cy="292.0" r="1.25" fill="#D055FF"/><circle cx="440.9" cy="288.9" r="1.25" fill="#D055FF"/><circle cx="445.9" cy="288.9" r="1.25" fill="#D055FF"/><circle cx="452.1" cy="288.9" r="1.25" fill="#D055FF"/><circle cx="406.3" cy="273.2" r="1.25" fill="#00B2C6"/><circle cx="413.7" cy="271.9" r="1.25" fill="#00B2C6"/><circle cx="418.1" cy="273.2" r="1.25" fill="#00B2C6"/><circle cx="397.7" cy="278.1" r="1.25" fill="#00B2C6"/><circle cx="408.8" cy="278.4" r="1.25" fill="#00B2C6"/><circle cx="410.6" cy="278.4" r="1.25" fill="#00B2C6"/><circle cx="411.9" cy="278.4" r="1.25" fill="#00B2C6"/><circle cx="392.1" cy="281.5" r="1.25" fill="#00B2C6"/><circle cx="416.2" cy="279.6" r="1.25" fill="#00B2C6"/><circle cx="415.0" cy="281.5" r="1.25" fill="#00B2C6"/><circle cx="414.3" cy="283.3" r="1.25" fill="#00B2C6"/><circle cx="413.1" cy="285.8" r="1.25" fill="#00B2C6"/><circle cx="415.6" cy="285.8" r="1.25" fill="#00B2C6"/><circle cx="416.2" cy="287.0" r="1.25" fill="#00B2C6"/><circle cx="413.7" cy="287.6" r="1.25" fill="#00B2C6"/><circle cx="398.9" cy="285.2" r="1.25" fill="#00B2C6"/><circle cx="405.1" cy="285.8" r="1.25" fill="#00B2C6"/><circle cx="408.8" cy="283.9" r="1.25" fill="#00B2C6"/><circle cx="405.7" cy="288.9" r="1.25" fill="#00B2C6"/><circle cx="406.9" cy="288.9" r="1.25" fill="#00B2C6"/><circle cx="408.2" cy="288.9" r="1.25" fill="#00B2C6"/><circle cx="423.0" cy="282.7" r="1.25" fill="#00B2C6"/><circle cx="429.2" cy="278.1" r="1.25" fill="#00B2C6"/><circle cx="442.2" cy="284.5" r="1.25" fill="#00B2C6"/><circle cx="432.9" cy="288.0" r="1.25" fill="#00B2C6"/><circle cx="431.0" cy="271.9" r="1.25" fill="#42A200"/><circle cx="411.9" cy="274.9" r="1.25" fill="#42A200"/><circle cx="401.4" cy="275.3" r="1.25" fill="#42A200"/><circle cx="391.5" cy="276.5" r="1.25" fill="#42A200"/><circle cx="396.4" cy="279.6" r="1.25" fill="#42A200"/><circle cx="401.4" cy="279.8" r="1.25" fill="#42A200"/><circle cx="409.4" cy="280.2" r="1.25" fill="#42A200"/><circle cx="411.3" cy="280.8" r="1.25" fill="#42A200"/><circle cx="412.5" cy="282.1" r="1.25" fill="#42A200"/><circle cx="417.4" cy="281.8" r="1.25" fill="#42A200"/><circle cx="419.9" cy="279.4" r="1.25" fill="#42A200"/><circle cx="422.4" cy="279.0" r="1.25" fill="#42A200"/><circle cx="426.7" cy="283.9" r="1.25" fill="#42A200"/><circle cx="427.3" cy="283.3" r="1.25" fill="#42A200"/><circle cx="428.6" cy="279.8" r="1.25" fill="#42A200"/><circle cx="439.1" cy="278.4" r="1.25" fill="#42A200"/><circle cx="443.4" cy="282.1" r="1.25" fill="#42A200"/><circle cx="439.7" cy="287.3" r="1.25" fill="#42A200"/><circle cx="402.6" cy="286.8" r="1.25" fill="#42A200"/><circle cx="415.6" cy="277.7" r="1.25" fill="#42A200"/><circle cx="408.8" cy="275.9" r="1.25" fill="#FA4A3D"/><circle cx="414.3" cy="275.6" r="1.25" fill="#FA4A3D"/><circle cx="415.6" cy="274.0" r="1.25" fill="#FA4A3D"/><circle cx="418.7" cy="277.7" r="1.25" fill="#FA4A3D"/><circle cx="421.1" cy="278.4" r="1.25" fill="#FA4A3D"/><circle cx="403.8" cy="279.0" r="1.25" fill="#FA4A3D"/><circle cx="405.1" cy="279.6" r="1.25" fill="#FA4A3D"/><circle cx="399.5" cy="282.1" r="1.25" fill="#FA4A3D"/><circle cx="411.3" cy="284.5" r="1.25" fill="#FA4A3D"/><circle cx="411.9" cy="283.9" r="1.25" fill="#FA4A3D"/><circle cx="416.8" cy="288.9" r="1.25" fill="#FA4A3D"/><circle cx="436.0" cy="280.8" r="1.25" fill="#FA4A3D"/><circle cx="431.7" cy="281.5" r="1.25" fill="#FA4A3D"/><circle cx="435.4" cy="282.7" r="1.25" fill="#FA4A3D"/><polyline points="390.5,272.3 393.1,272.7 395.8,273.1 398.4,273.5 401.1,273.9 403.7,274.3 406.4,274.6 409.0,275.0 411.7,275.3 414.3,275.6 417.0,275.9 419.6,276.1 422.2,276.3 424.9,276.5 427.5,276.6 430.2,276.7 432.8,276.7 435.5,276.7 438.1,276.7 440.8,276.7 443.4,276.6 446.1,276.6 448.7,276.5 451.4,276.5 454.0,276.4" fill="none" stroke="#444" stroke-width="0.85" stroke-dasharray="2.6,2.2"/><polyline points="390.5,278.7 393.1,278.7 395.8,278.6 398.4,278.6 401.1,278.6 403.7,278.6 406.4,278.6 409.0,278.6 411.7,278.7 414.3,278.8 417.0,278.8 419.6,279.0 422.2,279.2 424.9,279.4 427.5,279.6 430.2,279.9 432.8,280.3 435.5,280.7 438.1,281.1 440.8,281.5 443.4,281.9 446.1,282.3 448.7,282.7 451.4,283.2 454.0,283.6" fill="none" stroke="#444" stroke-width="0.85" stroke-dasharray="2.6,2.2"/><polyline points="390.5,275.5 454.0,280.0" fill="none" stroke="#555" stroke-width="0.7" stroke-dasharray="0.9,1.9"/><path d="M388.75,236.10V294.80H455.00" fill="none" stroke="#262626" stroke-width="1.1"/><line x1="387.15" y1="240.20" x2="388.75" y2="240.20" stroke="#262626" stroke-width="0.6"/><text x="386.35" y="241.90" text-anchor="end" class="tk" transform="translate(386.35,0) scale(1.0,1) translate(-386.35,0)">40</text><line x1="387.15" y1="253.45" x2="388.75" y2="253.45" stroke="#262626" stroke-width="0.6"/><text x="386.35" y="255.15" text-anchor="end" class="tk" transform="translate(386.35,0) scale(1.0,1) translate(-386.35,0)">30</text><line x1="387.15" y1="266.70" x2="388.75" y2="266.70" stroke="#262626" stroke-width="0.6"/><text x="386.35" y="268.40" text-anchor="end" class="tk" transform="translate(386.35,0) scale(1.0,1) translate(-386.35,0)">20</text><line x1="387.15" y1="279.95" x2="388.75" y2="279.95" stroke="#262626" stroke-width="0.6"/><text x="386.35" y="281.65" text-anchor="end" class="tk" transform="translate(386.35,0) scale(1.0,1) translate(-386.35,0)">10</text><line x1="387.15" y1="293.20" x2="388.75" y2="293.20" stroke="#262626" stroke-width="0.6"/><text x="386.35" y="294.90" text-anchor="end" class="tk" transform="translate(386.35,0) scale(1.0,1) translate(-386.35,0)">0</text><line x1="402.20" y1="294.80" x2="402.20" y2="296.40" stroke="#262626" stroke-width="0.6"/><text x="402.20" y="300.45" text-anchor="middle" class="tk">-1.0</text><line x1="411.75" y1="294.80" x2="411.75" y2="296.40" stroke="#262626" stroke-width="0.6"/><text x="411.75" y="300.45" text-anchor="middle" class="tk">-0.5</text><line x1="421.30" y1="294.80" x2="421.30" y2="296.40" stroke="#262626" stroke-width="0.6"/><text x="421.30" y="300.45" text-anchor="middle" class="tk">0.0</text><line x1="430.85" y1="294.80" x2="430.85" y2="296.40" stroke="#262626" stroke-width="0.6"/><text x="430.85" y="300.45" text-anchor="middle" class="tk">0.5</text><line x1="440.40" y1="294.80" x2="440.40" y2="296.40" stroke="#262626" stroke-width="0.6"/><text x="440.40" y="300.45" text-anchor="middle" class="tk">1.0</text><line x1="449.95" y1="294.80" x2="449.95" y2="296.40" stroke="#262626" stroke-width="0.6"/><text x="421.88" y="307.20" text-anchor="middle" class="tt">PC1</text><text x="0" y="0" text-anchor="middle" class="tt" style="font-size:6.35px" transform="translate(374.75,265.45) rotate(-90)">Chao</text><text x="368.60" y="241.20" class="tag" transform="translate(368.60,0) scale(1.13,1) translate(-368.60,0)">(w)</text><text x="392.35" y="241.70" class="r2" transform="translate(392.35,0) scale(1.05,1) translate(-392.35,0)"><tspan font-style="italic">R</tspan><tspan dy="-1.6" font-size="3">2</tspan><tspan dy="1.6"> = 0.018, </tspan><tspan font-style="italic">p</tspan> = 0.172</text></g><g><circle cx="508.7" cy="243.4" r="1.25" fill="#FA4A3D"/><circle cx="495.7" cy="254.3" r="1.25" fill="#FA4A3D"/><circle cx="495.1" cy="263.6" r="1.25" fill="#FA4A3D"/><circle cx="497.5" cy="264.4" r="1.25" fill="#FA4A3D"/><circle cx="498.8" cy="265.2" r="1.25" fill="#FA4A3D"/><circle cx="491.6" cy="253.1" r="1.25" fill="#42A200"/><circle cx="506.0" cy="253.1" r="1.25" fill="#42A200"/><circle cx="499.8" cy="255.8" r="1.25" fill="#D055FF"/><circle cx="512.6" cy="268.2" r="1.25" fill="#D055FF"/><circle cx="482.1" cy="270.7" r="1.25" fill="#D055FF"/><circle cx="509.9" cy="271.9" r="1.25" fill="#D055FF"/><circle cx="510.5" cy="273.2" r="1.25" fill="#D055FF"/><circle cx="496.3" cy="275.9" r="1.25" fill="#D055FF"/><circle cx="491.4" cy="277.7" r="1.25" fill="#D055FF"/><circle cx="484.6" cy="279.6" r="1.25" fill="#D055FF"/><circle cx="484.6" cy="282.7" r="1.25" fill="#D055FF"/><circle cx="490.1" cy="285.8" r="1.25" fill="#D055FF"/><circle cx="493.8" cy="287.3" r="1.25" fill="#D055FF"/><circle cx="503.7" cy="277.7" r="1.25" fill="#D055FF"/><circle cx="506.2" cy="275.9" r="1.25" fill="#D055FF"/><circle cx="508.1" cy="278.4" r="1.25" fill="#D055FF"/><circle cx="507.4" cy="280.8" r="1.25" fill="#D055FF"/><circle cx="508.7" cy="284.5" r="1.25" fill="#D055FF"/><circle cx="505.6" cy="288.3" r="1.25" fill="#D055FF"/><circle cx="507.4" cy="288.9" r="1.25" fill="#D055FF"/><circle cx="509.9" cy="287.6" r="1.25" fill="#D055FF"/><circle cx="510.5" cy="290.7" r="1.25" fill="#D055FF"/><circle cx="511.8" cy="291.3" r="1.25" fill="#D055FF"/><circle cx="514.9" cy="279.6" r="1.25" fill="#D055FF"/><circle cx="514.2" cy="283.9" r="1.25" fill="#D055FF"/><circle cx="494.5" cy="271.9" r="1.25" fill="#42A200"/><circle cx="499.4" cy="275.3" r="1.25" fill="#42A200"/><circle cx="501.3" cy="274.7" r="1.25" fill="#42A200"/><circle cx="496.3" cy="277.7" r="1.25" fill="#42A200"/><circle cx="497.5" cy="278.4" r="1.25" fill="#42A200"/><circle cx="490.1" cy="279.6" r="1.25" fill="#42A200"/><circle cx="491.4" cy="279.0" r="1.25" fill="#42A200"/><circle cx="501.3" cy="282.1" r="1.25" fill="#42A200"/><circle cx="502.5" cy="279.6" r="1.25" fill="#42A200"/><circle cx="505.6" cy="282.1" r="1.25" fill="#42A200"/><circle cx="506.2" cy="274.0" r="1.25" fill="#42A200"/><circle cx="508.7" cy="274.7" r="1.25" fill="#42A200"/><circle cx="513.0" cy="274.9" r="1.25" fill="#42A200"/><circle cx="512.4" cy="277.1" r="1.25" fill="#42A200"/><circle cx="519.8" cy="279.8" r="1.25" fill="#42A200"/><circle cx="517.3" cy="283.9" r="1.25" fill="#42A200"/><circle cx="492.0" cy="287.6" r="1.25" fill="#42A200"/><circle cx="500.0" cy="266.0" r="1.25" fill="#FA4A3D"/><circle cx="508.1" cy="273.2" r="1.25" fill="#FA4A3D"/><circle cx="489.5" cy="282.1" r="1.25" fill="#FA4A3D"/><circle cx="496.9" cy="282.1" r="1.25" fill="#FA4A3D"/><circle cx="497.5" cy="284.5" r="1.25" fill="#FA4A3D"/><circle cx="498.8" cy="285.2" r="1.25" fill="#FA4A3D"/><circle cx="501.9" cy="288.3" r="1.25" fill="#FA4A3D"/><circle cx="503.1" cy="282.1" r="1.25" fill="#FA4A3D"/><circle cx="505.0" cy="283.9" r="1.25" fill="#FA4A3D"/><circle cx="504.3" cy="285.2" r="1.25" fill="#FA4A3D"/><circle cx="518.6" cy="281.5" r="1.25" fill="#FA4A3D"/><circle cx="511.8" cy="282.1" r="1.25" fill="#FA4A3D"/><circle cx="517.9" cy="273.2" r="1.25" fill="#00B2C6"/><circle cx="531.5" cy="273.2" r="1.25" fill="#00B2C6"/><circle cx="542.7" cy="271.9" r="1.25" fill="#00B2C6"/><circle cx="519.8" cy="277.1" r="1.25" fill="#00B2C6"/><circle cx="521.7" cy="278.4" r="1.25" fill="#00B2C6"/><circle cx="506.8" cy="278.4" r="1.25" fill="#00B2C6"/><circle cx="507.4" cy="282.1" r="1.25" fill="#00B2C6"/><circle cx="512.4" cy="277.7" r="1.25" fill="#00B2C6"/><circle cx="514.9" cy="282.1" r="1.25" fill="#00B2C6"/><circle cx="516.1" cy="285.8" r="1.25" fill="#00B2C6"/><circle cx="516.1" cy="288.3" r="1.25" fill="#00B2C6"/><circle cx="522.3" cy="282.1" r="1.25" fill="#00B2C6"/><circle cx="522.9" cy="283.9" r="1.25" fill="#00B2C6"/><circle cx="524.7" cy="284.5" r="1.25" fill="#00B2C6"/><circle cx="526.6" cy="285.2" r="1.25" fill="#00B2C6"/><circle cx="528.5" cy="288.9" r="1.25" fill="#00B2C6"/><circle cx="529.7" cy="289.5" r="1.25" fill="#00B2C6"/><circle cx="527.2" cy="288.9" r="1.25" fill="#00B2C6"/><circle cx="530.9" cy="282.7" r="1.25" fill="#00B2C6"/><circle cx="532.2" cy="281.5" r="1.25" fill="#00B2C6"/><circle cx="533.4" cy="284.5" r="1.25" fill="#00B2C6"/><circle cx="522.3" cy="288.0" r="1.25" fill="#00B2C6"/><circle cx="499.4" cy="287.6" r="1.25" fill="#00B2C6"/><circle cx="511.8" cy="288.9" r="1.25" fill="#00B2C6"/><circle cx="517.3" cy="279.6" r="1.25" fill="#00B2C6"/><polyline points="482.7,272.3 485.2,273.0 487.7,273.6 490.2,274.3 492.7,274.9 495.2,275.5 497.6,276.1 500.1,276.6 502.6,277.1 505.1,277.5 507.6,277.8 510.1,278.1 512.6,278.4 515.1,278.6 517.6,278.8 520.1,279.0 522.6,279.2 525.1,279.3 527.5,279.4 530.0,279.6 532.5,279.7 535.0,279.8 537.5,279.9 540.0,280.0 542.5,280.1" fill="none" stroke="#444" stroke-width="0.85" stroke-dasharray="2.6,2.2"/><polyline points="482.7,279.7 485.2,279.8 487.7,279.8 490.2,279.9 492.7,280.0 495.2,280.1 497.6,280.3 500.1,280.5 502.6,280.8 505.1,281.1 507.6,281.5 510.1,281.9 512.6,282.4 515.1,282.9 517.6,283.4 520.1,284.0 522.6,284.6 525.1,285.2 527.5,285.8 530.0,286.4 532.5,287.0 535.0,287.6 537.5,288.2 540.0,288.9 542.5,289.5" fill="none" stroke="#444" stroke-width="0.85" stroke-dasharray="2.6,2.2"/><polyline points="482.7,276.0 542.5,284.8" fill="none" stroke="#2a2a2a" stroke-width="1.25"/><path d="M479.65,236.10V294.80H544.60" fill="none" stroke="#262626" stroke-width="1.1"/><line x1="478.05" y1="240.20" x2="479.65" y2="240.20" stroke="#262626" stroke-width="0.6"/><text x="477.25" y="241.90" text-anchor="end" class="tk" transform="translate(477.25,0) scale(1.0,1) translate(-477.25,0)">40</text><line x1="478.05" y1="253.45" x2="479.65" y2="253.45" stroke="#262626" stroke-width="0.6"/><text x="477.25" y="255.15" text-anchor="end" class="tk" transform="translate(477.25,0) scale(1.0,1) translate(-477.25,0)">30</text><line x1="478.05" y1="266.70" x2="479.65" y2="266.70" stroke="#262626" stroke-width="0.6"/><text x="477.25" y="268.40" text-anchor="end" class="tk" transform="translate(477.25,0) scale(1.0,1) translate(-477.25,0)">20</text><line x1="478.05" y1="279.95" x2="479.65" y2="279.95" stroke="#262626" stroke-width="0.6"/><text x="477.25" y="281.65" text-anchor="end" class="tk" transform="translate(477.25,0) scale(1.0,1) translate(-477.25,0)">10</text><line x1="478.05" y1="293.20" x2="479.65" y2="293.20" stroke="#262626" stroke-width="0.6"/><text x="477.25" y="294.90" text-anchor="end" class="tk" transform="translate(477.25,0) scale(1.0,1) translate(-477.25,0)">0</text><line x1="487.00" y1="294.80" x2="487.00" y2="296.40" stroke="#262626" stroke-width="0.6"/><text x="487.00" y="300.45" text-anchor="middle" class="tk">-1</text><line x1="507.20" y1="294.80" x2="507.20" y2="296.40" stroke="#262626" stroke-width="0.6"/><text x="507.20" y="300.45" text-anchor="middle" class="tk">0</text><line x1="527.20" y1="294.80" x2="527.20" y2="296.40" stroke="#262626" stroke-width="0.6"/><text x="527.20" y="300.45" text-anchor="middle" class="tk">1</text><text x="512.12" y="307.20" text-anchor="middle" class="tt">PC2</text><text x="0" y="0" text-anchor="middle" class="tt" style="font-size:6.35px" transform="translate(465.65,265.45) rotate(-90)">Chao</text><text x="459.00" y="241.20" class="tag" transform="translate(459.00,0) scale(1.13,1) translate(-459.00,0)">(x)</text><text x="483.25" y="241.70" class="r2" transform="translate(483.25,0) scale(1.05,1) translate(-483.25,0)"><tspan font-style="italic">R</tspan><tspan dy="-1.6" font-size="3">2</tspan><tspan dy="1.6"> = 0.041, </tspan><tspan font-style="italic">p</tspan> = 0.035</text></g>
<circle cx="233.4" cy="315" r="1.2" fill="#FA4A3D"/><text x="240.0" y="316.7" class="lg" transform="translate(240.0,0) scale(1.13,1) translate(-240.0,0)">EBF</text><circle cx="256.0" cy="315" r="1.2" fill="#42A200"/><text x="264.0" y="316.7" class="lg" transform="translate(264.0,0) scale(1.13,1) translate(-264.0,0)">CTD</text><circle cx="282.0" cy="315" r="1.2" fill="#00B2C6"/><text x="289.4" y="316.7" class="lg" transform="translate(289.4,0) scale(1.13,1) translate(-289.4,0)">UTD</text><circle cx="308.0" cy="315" r="1.2" fill="#D055FF"/><text x="317.0" y="316.7" class="lg" transform="translate(317.0,0) scale(1.13,1) translate(-317.0,0)">PMF</text>
</svg>
</body></html>
